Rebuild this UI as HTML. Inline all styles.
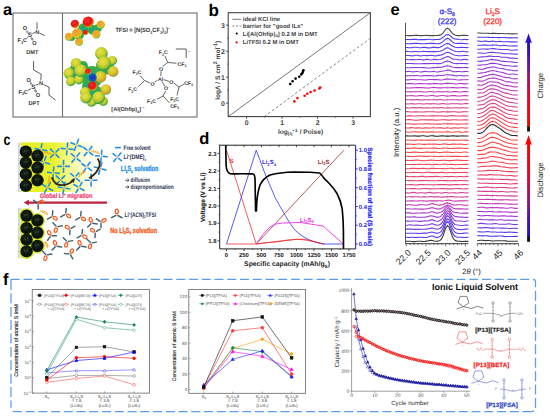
<!DOCTYPE html>
<html><head><meta charset="utf-8"><style>
html,body{margin:0;padding:0;background:#fff;}
svg{display:block;font-family:"Liberation Sans",sans-serif;text-rendering:geometricPrecision;}
</style></head><body>
<svg width="550" height="417" viewBox="0 0 550 417">
<rect width="550" height="417" fill="#fff"/>
<text x="3.00" y="14.60" font-size="16.5" font-weight="bold" fill="#000" text-anchor="start" >a</text>
<rect x="13" y="13" width="184" height="104" fill="none" stroke="#6e6e6e" stroke-width="1.1"/>
<line x1="62.50" y1="13.00" x2="62.50" y2="117.00" stroke="#6e6e6e" stroke-width="1.1" />
<line x1="26.60" y1="38.60" x2="28.00" y2="37.20" stroke="#333" stroke-width="0.8" />
<line x1="31.80" y1="34.00" x2="35.40" y2="32.00" stroke="#333" stroke-width="0.8" />
<line x1="26.18" y1="31.35" x2="28.18" y2="33.75" stroke="#333" stroke-width="0.7" />
<line x1="27.02" y1="30.65" x2="29.02" y2="33.05" stroke="#333" stroke-width="0.7" />
<line x1="30.63" y1="37.68" x2="32.43" y2="40.68" stroke="#333" stroke-width="0.7" />
<line x1="31.57" y1="37.12" x2="33.37" y2="40.12" stroke="#333" stroke-width="0.7" />
<line x1="37.00" y1="29.60" x2="37.00" y2="22.40" stroke="#333" stroke-width="0.8" />
<line x1="38.60" y1="32.60" x2="44.80" y2="35.60" stroke="#333" stroke-width="0.8" />
<text x="29.90" y="37.40" font-size="6.4" font-weight="bold" fill="#333" text-anchor="middle" stroke="#fff" stroke-width="1.0" paint-order="stroke">S</text>
<text x="37.20" y="33.60" font-size="5.6" font-weight="bold" fill="#333" text-anchor="middle" stroke="#fff" stroke-width="1.0" paint-order="stroke">N</text>
<text x="25.00" y="30.40" font-size="5.6" font-weight="bold" fill="#333" text-anchor="middle" stroke="#fff" stroke-width="1.0" paint-order="stroke">O</text>
<text x="34.40" y="44.80" font-size="5.6" font-weight="bold" fill="#333" text-anchor="middle" stroke="#fff" stroke-width="1.0" paint-order="stroke">O</text>
<text x="17.6" y="42.3" font-size="5.4" font-weight="bold" fill="#333">F<tspan font-size="3.8" dy="1.2">3</tspan><tspan dy="-1.2">C</tspan></text>
<text x="32.40" y="54.30" font-size="5.6" font-weight="bold" fill="#333" text-anchor="middle" >DMT</text>
<line x1="27.60" y1="90.40" x2="31.40" y2="88.60" stroke="#333" stroke-width="0.8" />
<line x1="35.40" y1="85.60" x2="38.90" y2="83.80" stroke="#333" stroke-width="0.8" />
<line x1="29.68" y1="82.75" x2="31.78" y2="85.25" stroke="#333" stroke-width="0.7" />
<line x1="30.52" y1="82.05" x2="32.62" y2="84.55" stroke="#333" stroke-width="0.7" />
<line x1="34.12" y1="89.47" x2="35.92" y2="92.67" stroke="#333" stroke-width="0.7" />
<line x1="35.08" y1="88.93" x2="36.88" y2="92.13" stroke="#333" stroke-width="0.7" />
<polyline points="40.80,80.60 41.20,74.20 33.60,70.00 33.60,61.00" stroke="#333" stroke-width="0.8" fill="none" stroke-linejoin="round" />
<polyline points="42.60,84.20 49.00,87.00 49.00,95.20 55.60,100.00" stroke="#333" stroke-width="0.8" fill="none" stroke-linejoin="round" />
<text x="33.50" y="89.00" font-size="6.4" font-weight="bold" fill="#333" text-anchor="middle" stroke="#fff" stroke-width="1.0" paint-order="stroke">S</text>
<text x="41.00" y="84.60" font-size="5.6" font-weight="bold" fill="#333" text-anchor="middle" stroke="#fff" stroke-width="1.0" paint-order="stroke">N</text>
<text x="28.60" y="81.80" font-size="5.6" font-weight="bold" fill="#333" text-anchor="middle" stroke="#fff" stroke-width="1.0" paint-order="stroke">O</text>
<text x="38.00" y="96.80" font-size="5.6" font-weight="bold" fill="#333" text-anchor="middle" stroke="#fff" stroke-width="1.0" paint-order="stroke">O</text>
<text x="18.4" y="93.8" font-size="5.4" font-weight="bold" fill="#333">F<tspan font-size="3.8" dy="1.2">3</tspan><tspan dy="-1.2">C</tspan></text>
<text x="34.00" y="105.30" font-size="5.6" font-weight="bold" fill="#333" text-anchor="middle" >DPT</text>
<defs>
<radialGradient id="gO" cx="0.4" cy="0.35" r="0.65"><stop offset="0" stop-color="#ff2a2a"/><stop offset="0.6" stop-color="#e81212"/><stop offset="0.85" stop-color="#e07018"/><stop offset="1" stop-color="#a8c028"/></radialGradient>
<radialGradient id="gF" cx="0.4" cy="0.35" r="0.65"><stop offset="0" stop-color="#f0a030"/><stop offset="0.5" stop-color="#eca828"/><stop offset="0.8" stop-color="#d8c428"/><stop offset="1" stop-color="#58b038"/></radialGradient>
<radialGradient id="gY" cx="0.42" cy="0.36" r="0.66"><stop offset="0" stop-color="#e4e048"/><stop offset="0.4" stop-color="#d6d432"/><stop offset="0.68" stop-color="#a8c42a"/><stop offset="0.88" stop-color="#48a840"/><stop offset="1" stop-color="#2a9a58"/></radialGradient>
<radialGradient id="gQ" cx="0.42" cy="0.36" r="0.66"><stop offset="0" stop-color="#e0e040"/><stop offset="0.45" stop-color="#d8c830"/><stop offset="0.75" stop-color="#e0a028"/><stop offset="0.92" stop-color="#88b030"/><stop offset="1" stop-color="#3a9a50"/></radialGradient>
<radialGradient id="gG" cx="0.5" cy="0.5" r="0.5"><stop offset="0" stop-color="#10a0b0"/><stop offset="0.55" stop-color="#28a858"/><stop offset="1" stop-color="#40b040"/></radialGradient>
<radialGradient id="gB" cx="0.5" cy="0.5" r="0.5"><stop offset="0" stop-color="#1828d0"/><stop offset="1" stop-color="#1860b8"/></radialGradient>
<radialGradient id="gK" cx="0.45" cy="0.4" r="0.6"><stop offset="0" stop-color="#1c2a1c"/><stop offset="0.75" stop-color="#0a100a"/><stop offset="0.92" stop-color="#101c10"/><stop offset="1" stop-color="#2a4020"/></radialGradient>
<linearGradient id="yel" x1="0" y1="0" x2="1" y2="0"><stop offset="0" stop-color="#e4f01c"/><stop offset="0.38" stop-color="#eaf22c"/><stop offset="0.62" stop-color="#f6f9a0"/><stop offset="0.8" stop-color="#fdfde8"/><stop offset="1" stop-color="#ffffff"/></linearGradient>
<linearGradient id="chg" x1="0" y1="1" x2="0" y2="0"><stop offset="0" stop-color="#ff0000"/><stop offset="0.35" stop-color="#f00020"/><stop offset="0.6" stop-color="#901878"/><stop offset="0.85" stop-color="#4010b8"/><stop offset="1" stop-color="#2010c8"/></linearGradient>
<linearGradient id="dis" x1="0" y1="0" x2="0" y2="1"><stop offset="0" stop-color="#ff0000"/><stop offset="0.35" stop-color="#f00020"/><stop offset="0.6" stop-color="#901878"/><stop offset="0.85" stop-color="#4010b8"/><stop offset="1" stop-color="#2010c8"/></linearGradient>
<linearGradient id="elec" x1="0" y1="0" x2="1" y2="0"><stop offset="0" stop-color="#c8d0e0"/><stop offset="1" stop-color="#e8ecf4"/></linearGradient>
</defs>
<circle cx="84" cy="29" r="6" fill="url(#gG)"/>
<circle cx="79" cy="35" r="5" fill="url(#gG)"/>
<circle cx="93" cy="30" r="5" fill="url(#gG)"/>
<circle cx="72" cy="38" r="3" fill="url(#gG)"/>
<circle cx="98" cy="28" r="4" fill="url(#gG)"/>
<circle cx="68.9" cy="36.7" r="4" fill="url(#gF)"/>
<circle cx="79" cy="41.8" r="4" fill="url(#gF)"/>
<circle cx="96.3" cy="34.2" r="4.2" fill="url(#gF)"/>
<circle cx="100.7" cy="24.6" r="4.2" fill="url(#gF)"/>
<circle cx="85.5" cy="32.5" r="2.6" fill="url(#gO)"/>
<circle cx="75" cy="24" r="4.3" fill="url(#gO)"/>
<circle cx="77.2" cy="33.5" r="5.2" fill="url(#gF)"/>
<circle cx="88.3" cy="22.1" r="5.6" fill="url(#gO)"/>
<circle cx="92" cy="77" r="11" fill="url(#gG)"/>
<circle cx="105" cy="66" r="9" fill="url(#gG)"/>
<circle cx="76" cy="73" r="8.5" fill="url(#gG)"/>
<circle cx="95" cy="95" r="9.5" fill="url(#gG)"/>
<circle cx="88" cy="86" r="6" fill="url(#gG)"/>
<circle cx="83" cy="66" r="5" fill="url(#gG)"/>
<circle cx="112.2" cy="60.7" r="4.79" fill="url(#gY)"/>
<circle cx="101.4" cy="53.5" r="6.38" fill="url(#gY)"/>
<circle cx="113" cy="71.5" r="5.47" fill="url(#gQ)"/>
<circle cx="104" cy="63.4" r="7.07" fill="url(#gY)"/>
<circle cx="100.5" cy="76.9" r="5.93" fill="url(#gQ)"/>
<circle cx="76.2" cy="63.4" r="5.47" fill="url(#gY)"/>
<circle cx="69" cy="73.3" r="5.47" fill="url(#gY)"/>
<circle cx="70.8" cy="81.4" r="4.79" fill="url(#gY)"/>
<circle cx="78.9" cy="79.6" r="4.79" fill="url(#gY)"/>
<circle cx="80.7" cy="70.6" r="6.38" fill="url(#gY)"/>
<circle cx="88.2" cy="71.5" r="3.0" fill="url(#gO)"/>
<circle cx="92.6" cy="77.5" r="4.0" fill="url(#gB)"/>
<circle cx="92.6" cy="86.2" r="4.6" fill="url(#gO)"/>
<circle cx="105.9" cy="89.5" r="5.24" fill="url(#gQ)"/>
<circle cx="91.5" cy="102" r="4.79" fill="url(#gY)"/>
<circle cx="103.2" cy="101.2" r="4.79" fill="url(#gY)"/>
<circle cx="85.2" cy="92.2" r="5.24" fill="url(#gY)"/>
<circle cx="86.1" cy="97.6" r="5.93" fill="url(#gY)"/>
<circle cx="98.7" cy="97.6" r="6.38" fill="url(#gY)"/>
<text x="115.4" y="32.4" font-size="6.2" font-weight="bold" fill="#333" textLength="54.6" lengthAdjust="spacingAndGlyphs">TFSI = [N(SO<tspan font-size="4" dy="1.3">2</tspan><tspan dy="-1.3">CF</tspan><tspan font-size="4" dy="1.3">3</tspan><tspan dy="-1.3">)</tspan><tspan font-size="4" dy="1.3">2</tspan><tspan dy="-1.3">]</tspan><tspan font-size="4" dy="-2">−</tspan></text>
<text x="111.3" y="111.4" font-size="5.6" font-weight="bold" fill="#333">[Al(Ohfip)<tspan font-size="3.8" dy="1.2">4</tspan><tspan dy="-1.2">]</tspan><tspan font-size="3.8" dy="-2.2"> −</tspan></text>
<text x="160.50" y="80.50" font-size="5.2" font-weight="bold" fill="#333" text-anchor="middle" >Al</text>
<text x="161.00" y="70.60" font-size="5.2" font-weight="bold" fill="#333" text-anchor="middle" >O</text>
<text x="152.40" y="85.50" font-size="5.2" font-weight="bold" fill="#333" text-anchor="middle" >O</text>
<text x="171.30" y="84.10" font-size="5.2" font-weight="bold" fill="#333" text-anchor="middle" >O</text>
<text x="165.90" y="90.40" font-size="5.2" font-weight="bold" fill="#333" text-anchor="middle" >O</text>
<line x1="160.80" y1="76.00" x2="161.00" y2="71.30" stroke="#333" stroke-width="0.75" />
<line x1="157.60" y1="80.00" x2="154.60" y2="82.30" stroke="#333" stroke-width="0.75" />
<line x1="163.60" y1="79.60" x2="169.00" y2="81.40" stroke="#333" stroke-width="0.75" />
<line x1="162.00" y1="81.30" x2="164.80" y2="86.20" stroke="#333" stroke-width="0.75" />
<polyline points="162.60,66.50 167.70,62.50 165.00,56.00" stroke="#333" stroke-width="0.75" fill="none" stroke-linejoin="round" />
<line x1="167.70" y1="62.50" x2="176.50" y2="63.20" stroke="#333" stroke-width="0.75" />
<text x="163.2" y="54.4" font-size="5.2" font-weight="bold" fill="#333" text-anchor="middle">F<tspan font-size="3.6" dy="1.2">3</tspan><tspan dy="-1.2">C</tspan></text>
<text x="182" y="66.0" font-size="5.2" font-weight="bold" fill="#333" text-anchor="middle">CF<tspan font-size="3.6" dy="1.2">3</tspan><tspan dy="-1.2"></tspan></text>
<polyline points="150.00,83.00 144.50,80.50 140.00,75.50" stroke="#333" stroke-width="0.75" fill="none" stroke-linejoin="round" />
<line x1="144.50" y1="80.50" x2="138.50" y2="86.50" stroke="#333" stroke-width="0.75" />
<text x="137" y="74.2" font-size="5.2" font-weight="bold" fill="#333" text-anchor="middle">F<tspan font-size="3.6" dy="1.2">3</tspan><tspan dy="-1.2">C</tspan></text>
<text x="132.6" y="91.39999999999999" font-size="5.2" font-weight="bold" fill="#333" text-anchor="middle">F<tspan font-size="3.6" dy="1.2">3</tspan><tspan dy="-1.2">C</tspan></text>
<polyline points="173.80,83.00 179.00,87.00 184.20,84.00" stroke="#333" stroke-width="0.75" fill="none" stroke-linejoin="round" />
<line x1="179.00" y1="87.00" x2="177.00" y2="95.50" stroke="#333" stroke-width="0.75" />
<text x="188.6" y="85.0" font-size="5.2" font-weight="bold" fill="#333" text-anchor="middle">CF<tspan font-size="3.6" dy="1.2">3</tspan><tspan dy="-1.2"></tspan></text>
<text x="174.6" y="101.0" font-size="5.2" font-weight="bold" fill="#333" text-anchor="middle">F<tspan font-size="3.6" dy="1.2">3</tspan><tspan dy="-1.2">C</tspan></text>
<polyline points="165.60,91.00 163.00,96.00 157.00,99.30" stroke="#333" stroke-width="0.75" fill="none" stroke-linejoin="round" />
<line x1="163.00" y1="96.00" x2="169.50" y2="103.00" stroke="#333" stroke-width="0.75" />
<text x="151.5" y="102.8" font-size="5.2" font-weight="bold" fill="#333" text-anchor="middle">F<tspan font-size="3.6" dy="1.2">3</tspan><tspan dy="-1.2">C</tspan></text>
<text x="174.6" y="108.2" font-size="5.2" font-weight="bold" fill="#333" text-anchor="middle">CF<tspan font-size="3.6" dy="1.2">3</tspan><tspan dy="-1.2"></tspan></text>
<polyline points="175.80,49.00 186.20,49.00 186.20,58.00" stroke="#333" stroke-width="0.8" fill="none" stroke-linejoin="round" />
<text x="188.00" y="52.50" font-size="3.8" font-weight="bold" fill="#333" text-anchor="start" >−</text>
<text x="208.40" y="16.40" font-size="17" font-weight="bold" fill="#000" text-anchor="start" >b</text>
<line x1="228.20" y1="116.60" x2="370.40" y2="12.70" stroke="#555" stroke-width="0.8" />
<line x1="264.35" y1="116.60" x2="370.40" y2="38.20" stroke="#666" stroke-width="0.8" stroke-dasharray="2.6,2.2"/>
<rect x="228.2" y="12.7" width="142.20" height="103.90" fill="none" stroke="#444" stroke-width="1.1"/>
<line x1="246.60" y1="116.60" x2="246.60" y2="118.80" stroke="#444" stroke-width="0.9" />
<line x1="226.00" y1="103.20" x2="228.20" y2="103.20" stroke="#444" stroke-width="0.9" />
<text x="246.60" y="125.20" font-size="6.9" font-weight="bold" fill="#444" text-anchor="middle" >0</text>
<text x="224.80" y="105.70" font-size="6.9" font-weight="bold" fill="#444" text-anchor="end" >0</text>
<line x1="282.10" y1="116.60" x2="282.10" y2="118.80" stroke="#444" stroke-width="0.9" />
<line x1="226.00" y1="77.20" x2="228.20" y2="77.20" stroke="#444" stroke-width="0.9" />
<text x="282.10" y="125.20" font-size="6.9" font-weight="bold" fill="#444" text-anchor="middle" >1</text>
<text x="224.80" y="79.70" font-size="6.9" font-weight="bold" fill="#444" text-anchor="end" >1</text>
<line x1="317.60" y1="116.60" x2="317.60" y2="118.80" stroke="#444" stroke-width="0.9" />
<line x1="226.00" y1="51.20" x2="228.20" y2="51.20" stroke="#444" stroke-width="0.9" />
<text x="317.60" y="125.20" font-size="6.9" font-weight="bold" fill="#444" text-anchor="middle" >2</text>
<text x="224.80" y="53.70" font-size="6.9" font-weight="bold" fill="#444" text-anchor="end" >2</text>
<line x1="353.10" y1="116.60" x2="353.10" y2="118.80" stroke="#444" stroke-width="0.9" />
<line x1="226.00" y1="25.20" x2="228.20" y2="25.20" stroke="#444" stroke-width="0.9" />
<text x="353.10" y="125.20" font-size="6.9" font-weight="bold" fill="#444" text-anchor="middle" >3</text>
<text x="224.80" y="27.70" font-size="6.9" font-weight="bold" fill="#444" text-anchor="end" >3</text>
<line x1="264.35" y1="116.60" x2="264.35" y2="117.80" stroke="#444" stroke-width="0.7" />
<line x1="227.00" y1="90.20" x2="228.20" y2="90.20" stroke="#444" stroke-width="0.7" />
<line x1="299.85" y1="116.60" x2="299.85" y2="117.80" stroke="#444" stroke-width="0.7" />
<line x1="227.00" y1="64.20" x2="228.20" y2="64.20" stroke="#444" stroke-width="0.7" />
<line x1="335.35" y1="116.60" x2="335.35" y2="117.80" stroke="#444" stroke-width="0.7" />
<line x1="227.00" y1="38.20" x2="228.20" y2="38.20" stroke="#444" stroke-width="0.7" />
<line x1="232.40" y1="19.30" x2="241.00" y2="19.30" stroke="#555" stroke-width="0.8" />
<line x1="232.40" y1="26.00" x2="241.40" y2="26.00" stroke="#666" stroke-width="0.8" stroke-dasharray="2.2,1.4"/>
<rect x="235.8" y="32.6" width="1.8" height="1.8" fill="#000"/>
<circle cx="236.60" cy="42.40" r="1.1" fill="#f00" />
<text x="242.80" y="21.30" font-size="5.95" font-weight="bold" fill="#444" text-anchor="start" >ideal KCl line</text>
<text x="242.80" y="28.00" font-size="5.95" font-weight="bold" fill="#444" text-anchor="start" >barrier for "good ILs"</text>
<text x="242.8" y="35.6" font-size="5.95" font-weight="bold" fill="#444">Li[Al(Ohfip)<tspan font-size="4.2" dy="1.2">4</tspan><tspan dy="-1.2">] 0.2 M in DMT</tspan></text>
<text x="242.80" y="44.30" font-size="5.95" font-weight="bold" fill="#444" text-anchor="start" >LiTFSI 0.2 M in DMT</text>
<circle cx="290.20" cy="84.00" r="1.3" fill="#000" />
<circle cx="292.60" cy="81.30" r="1.3" fill="#000" />
<circle cx="295.60" cy="78.60" r="1.3" fill="#000" />
<circle cx="299.20" cy="76.80" r="1.3" fill="#000" />
<circle cx="301.30" cy="74.40" r="1.3" fill="#000" />
<circle cx="302.20" cy="73.20" r="1.3" fill="#000" />
<circle cx="302.90" cy="71.80" r="1.3" fill="#000" />
<circle cx="303.40" cy="70.20" r="1.3" fill="#000" />
<circle cx="294.40" cy="101.40" r="1.3" fill="#f00" />
<circle cx="297.40" cy="98.10" r="1.3" fill="#f00" />
<circle cx="304.60" cy="95.70" r="1.3" fill="#f00" />
<circle cx="307.30" cy="93.80" r="1.3" fill="#f00" />
<circle cx="310.60" cy="92.10" r="1.3" fill="#f00" />
<circle cx="314.50" cy="90.60" r="1.3" fill="#f00" />
<circle cx="319.30" cy="88.50" r="1.3" fill="#f00" />
<circle cx="320.20" cy="87.60" r="1.3" fill="#f00" />
<text transform="translate(219.8,70.3) rotate(-90)" font-size="6.6" font-weight="bold" fill="#444" text-anchor="middle">logΛ / S cm<tspan font-size="5.4" dy="-2.6">2</tspan><tspan dy="2.6"> mol</tspan><tspan font-size="5.4" dy="-2.6">-1</tspan><tspan dy="2.6">)</tspan></text>
<text x="300.5" y="134" font-size="6.6" font-weight="bold" fill="#444" text-anchor="middle">log<tspan font-size="4.8" dy="1.2">(η</tspan><tspan font-size="4.8" dy="-3.4">−1</tspan><tspan dy="2.2"> / Poise)</tspan></text>
<text x="390.50" y="15.00" font-size="16.5" font-weight="bold" fill="#000" text-anchor="start" >e</text>
<line x1="433.40" y1="20.00" x2="433.40" y2="243.00" stroke="#aaa" stroke-width="0.5" stroke-dasharray="0.8,1.2"/>
<line x1="447.60" y1="20.00" x2="447.60" y2="243.00" stroke="#aaa" stroke-width="0.5" stroke-dasharray="0.8,1.2"/>
<line x1="492.40" y1="22.00" x2="492.40" y2="243.00" stroke="#aaa" stroke-width="0.5" stroke-dasharray="0.8,1.2"/>
<polyline points="405.50,35.52 407.00,35.53 408.50,35.58 410.00,35.64 411.50,35.62 413.00,35.50 414.50,35.35 416.00,35.28 417.50,35.33 419.00,35.48 420.50,35.60 422.00,35.62 423.50,35.53 425.00,35.43 426.50,35.42 428.00,35.50 429.50,35.60 431.00,35.65 432.50,35.60 434.00,35.52 435.50,35.46 437.00,35.45 438.50,35.40 440.00,35.15 441.50,34.44 443.00,33.03 444.50,30.99 446.00,29.01 447.50,28.15 449.00,28.97 450.50,30.91 452.00,32.92 453.50,34.31 455.00,35.07 456.50,35.45 458.00,35.61 459.50,35.60 461.00,35.49 462.50,35.37 464.00,35.33 465.50,35.38 467.00,35.47 468.50,35.52" stroke="#484848" stroke-width="1.1" fill="none" stroke-linejoin="round" />
<polyline points="477.30,33.07 478.80,33.01 480.30,33.04 481.80,33.19 483.30,33.32 484.80,33.32 486.30,33.26 487.80,33.29 489.30,33.41 490.80,33.48 492.30,33.41 493.80,33.33 495.30,33.38 496.80,33.51 498.30,33.58 499.80,33.53 501.30,33.49 502.80,33.57 504.30,33.71 505.80,33.75 507.30,33.68 508.80,33.64 510.30,33.74 511.80,33.87 513.30,33.89 514.80,33.82 516.30,33.81 517.80,33.93" stroke="#484848" stroke-width="1.1" fill="none" stroke-linejoin="round" />
<polyline points="405.50,39.66 407.00,39.56 408.50,39.56 410.00,39.61 411.50,39.54 413.00,39.35 414.50,39.26 416.00,39.41 417.50,39.64 419.00,39.70 420.50,39.60 422.00,39.53 423.50,39.59 425.00,39.59 426.50,39.44 428.00,39.28 429.50,39.32 431.00,39.55 432.50,39.71 434.00,39.65 435.50,39.54 437.00,39.52 438.50,39.49 440.00,39.16 441.50,38.40 443.00,37.31 444.50,36.10 446.00,35.04 447.50,34.50 449.00,34.83 450.50,35.99 452.00,37.44 453.50,38.53 455.00,39.01 456.50,39.15 458.00,39.31 459.50,39.57 461.00,39.71 462.50,39.64 464.00,39.53 465.50,39.54 467.00,39.60 468.50,39.52" stroke="#4c3cf0" stroke-width="1.1" fill="none" stroke-linejoin="round" />
<polyline points="477.30,37.17 478.80,37.21 480.30,37.23 481.80,37.23 483.30,37.20 484.80,37.19 486.30,37.21 487.80,37.28 489.30,37.36 490.80,37.43 492.30,37.47 493.80,37.49 495.30,37.51 496.80,37.55 498.30,37.58 499.80,37.58 501.30,37.55 502.80,37.52 504.30,37.54 505.80,37.64 507.30,37.77 508.80,37.88 510.30,37.91 511.80,37.87 513.30,37.80 514.80,37.78 516.30,37.83 517.80,37.92" stroke="#4c3cf0" stroke-width="1.1" fill="none" stroke-linejoin="round" />
<polyline points="405.50,43.58 407.00,43.68 408.50,43.73 410.00,43.71 411.50,43.62 413.00,43.50 414.50,43.39 416.00,43.33 417.50,43.36 419.00,43.45 420.50,43.59 422.00,43.70 423.50,43.76 425.00,43.73 426.50,43.62 428.00,43.48 429.50,43.36 431.00,43.31 432.50,43.35 434.00,43.46 435.50,43.60 437.00,43.70 438.50,43.66 440.00,43.37 441.50,42.70 443.00,41.57 444.50,40.13 446.00,38.87 447.50,38.37 449.00,38.92 450.50,40.23 452.00,41.67 453.50,42.74 455.00,43.28 456.50,43.44 458.00,43.41 459.50,43.35 461.00,43.35 462.50,43.42 464.00,43.53 465.50,43.64 467.00,43.71 468.50,43.70" stroke="#553ced" stroke-width="1.1" fill="none" stroke-linejoin="round" />
<polyline points="477.30,40.83 478.80,41.02 480.30,41.42 481.80,41.53 483.30,41.23 484.80,40.97 486.30,41.15 487.80,41.55 489.30,41.67 490.80,41.40 492.30,41.17 493.80,41.31 495.30,41.65 496.80,41.75 498.30,41.56 499.80,41.41 501.30,41.52 502.80,41.75 504.30,41.80 505.80,41.69 507.30,41.65 508.80,41.75 510.30,41.86 511.80,41.85 513.30,41.81 514.80,41.86 516.30,41.98 517.80,42.00" stroke="#553ced" stroke-width="1.1" fill="none" stroke-linejoin="round" />
<polyline points="405.50,47.49 407.00,47.55 408.50,47.69 410.00,47.76 411.50,47.66 413.00,47.44 414.50,47.28 416.00,47.32 417.50,47.53 419.00,47.73 420.50,47.72 422.00,47.54 423.50,47.36 425.00,47.38 426.50,47.61 428.00,47.86 429.50,47.89 431.00,47.68 432.50,47.39 434.00,47.28 435.50,47.41 437.00,47.62 438.50,47.65 440.00,47.31 441.50,46.60 443.00,45.65 444.50,44.64 446.00,43.83 447.50,43.52 449.00,43.85 450.50,44.68 452.00,45.70 453.50,46.61 455.00,47.25 456.50,47.57 458.00,47.61 459.50,47.50 461.00,47.40 462.50,47.40 464.00,47.48 465.50,47.56 467.00,47.58 468.50,47.57" stroke="#5e3bea" stroke-width="1.1" fill="none" stroke-linejoin="round" />
<polyline points="477.30,45.22 478.80,45.22 480.30,45.22 481.80,45.20 483.30,45.12 484.80,45.06 486.30,45.08 487.80,45.20 489.30,45.32 490.80,45.32 492.30,45.16 493.80,44.98 495.30,44.94 496.80,45.14 498.30,45.47 499.80,45.70 501.30,45.70 502.80,45.53 504.30,45.40 505.80,45.45 507.30,45.68 508.80,45.93 510.30,46.03 511.80,45.98 513.30,45.87 514.80,45.85 516.30,45.92 517.80,46.02" stroke="#5e3bea" stroke-width="1.1" fill="none" stroke-linejoin="round" />
<polyline points="405.50,51.41 407.00,51.30 408.50,51.44 410.00,51.68 411.50,51.77 413.00,51.64 414.50,51.49 416.00,51.50 417.50,51.65 419.00,51.76 420.50,51.69 422.00,51.50 423.50,51.40 425.00,51.45 426.50,51.57 428.00,51.63 429.50,51.60 431.00,51.58 432.50,51.62 434.00,51.67 435.50,51.65 437.00,51.55 438.50,51.44 440.00,51.28 441.50,50.90 443.00,50.12 444.50,49.02 446.00,48.07 447.50,47.77 449.00,48.27 450.50,49.21 452.00,50.08 453.50,50.70 455.00,51.14 456.50,51.50 458.00,51.69 459.50,51.64 461.00,51.43 462.50,51.33 464.00,51.47 465.50,51.74 467.00,51.85 468.50,51.71" stroke="#673be7" stroke-width="1.1" fill="none" stroke-linejoin="round" />
<polyline points="477.30,49.29 478.80,49.29 480.30,49.18 481.80,49.02 483.30,48.95 484.80,49.02 486.30,49.14 487.80,49.17 489.30,49.02 490.80,48.77 492.30,48.60 493.80,48.63 495.30,48.83 496.80,49.07 498.30,49.25 499.80,49.36 501.30,49.43 502.80,49.47 504.30,49.49 505.80,49.50 507.30,49.56 508.80,49.74 510.30,50.00 511.80,50.20 513.30,50.21 514.80,50.03 516.30,49.84 517.80,49.81" stroke="#673be7" stroke-width="1.1" fill="none" stroke-linejoin="round" />
<polyline points="405.50,55.65 407.00,55.57 408.50,55.49 410.00,55.61 411.50,55.83 413.00,55.85 414.50,55.56 416.00,55.27 417.50,55.31 419.00,55.65 420.50,55.88 422.00,55.79 423.50,55.55 425.00,55.48 426.50,55.60 428.00,55.66 429.50,55.53 431.00,55.41 432.50,55.51 434.00,55.77 435.50,55.89 437.00,55.70 438.50,55.37 440.00,55.11 441.50,54.86 443.00,54.36 444.50,53.52 446.00,52.67 447.50,52.28 449.00,52.54 450.50,53.26 452.00,54.09 453.50,54.79 455.00,55.27 456.50,55.54 458.00,55.66 459.50,55.71 461.00,55.72 462.50,55.63 464.00,55.46 465.50,55.35 467.00,55.47 468.50,55.72" stroke="#703be3" stroke-width="1.1" fill="none" stroke-linejoin="round" />
<polyline points="477.30,53.01 478.80,52.95 480.30,53.02 481.80,53.16 483.30,53.26 484.80,53.20 486.30,52.98 487.80,52.68 489.30,52.44 490.80,52.35 492.30,52.42 493.80,52.56 495.30,52.67 496.80,52.74 498.30,52.81 499.80,52.96 501.30,53.17 502.80,53.41 504.30,53.61 505.80,53.72 507.30,53.76 508.80,53.78 510.30,53.82 511.80,53.91 513.30,54.01 514.80,54.09 516.30,54.15 517.80,54.22" stroke="#703be3" stroke-width="1.1" fill="none" stroke-linejoin="round" />
<polyline points="405.50,59.42 407.00,59.52 408.50,59.70 410.00,59.72 411.50,59.60 413.00,59.57 414.50,59.67 416.00,59.71 417.50,59.57 419.00,59.43 420.50,59.54 422.00,59.81 423.50,59.89 425.00,59.62 426.50,59.31 428.00,59.37 429.50,59.74 431.00,59.96 432.50,59.76 434.00,59.41 435.50,59.35 437.00,59.59 438.50,59.76 440.00,59.53 441.50,58.99 443.00,58.38 444.50,57.74 446.00,57.04 447.50,56.55 449.00,56.71 450.50,57.58 452.00,58.62 453.50,59.20 455.00,59.24 456.50,59.21 458.00,59.49 459.50,59.88 461.00,59.94 462.50,59.61 464.00,59.31 465.50,59.40 467.00,59.73 468.50,59.87" stroke="#793ae0" stroke-width="1.1" fill="none" stroke-linejoin="round" />
<polyline points="477.30,57.42 478.80,57.24 480.30,56.99 481.80,56.85 483.30,56.83 484.80,56.81 486.30,56.64 487.80,56.35 489.30,56.14 490.80,56.16 492.30,56.35 493.80,56.50 495.30,56.50 496.80,56.46 498.30,56.57 499.80,56.82 501.30,57.08 502.80,57.19 504.30,57.21 505.80,57.30 507.30,57.57 508.80,57.91 510.30,58.12 511.80,58.15 513.30,58.13 514.80,58.21 516.30,58.38 517.80,58.49" stroke="#793ae0" stroke-width="1.1" fill="none" stroke-linejoin="round" />
<polyline points="405.50,63.58 407.00,63.48 408.50,63.43 410.00,63.44 411.50,63.51 413.00,63.61 414.50,63.69 416.00,63.74 417.50,63.75 419.00,63.73 420.50,63.70 422.00,63.68 423.50,63.67 425.00,63.67 426.50,63.67 428.00,63.64 429.50,63.60 431.00,63.55 432.50,63.51 434.00,63.51 435.50,63.55 437.00,63.61 438.50,63.66 440.00,63.59 441.50,63.33 443.00,62.79 444.50,62.06 446.00,61.37 447.50,61.05 449.00,61.27 450.50,61.91 452.00,62.64 453.50,63.22 455.00,63.53 456.50,63.62 458.00,63.60 459.50,63.53 461.00,63.49 462.50,63.50 464.00,63.56 465.50,63.65 467.00,63.74 468.50,63.79" stroke="#823add" stroke-width="1.1" fill="none" stroke-linejoin="round" />
<polyline points="477.30,61.18 478.80,61.31 480.30,61.33 481.80,61.16 483.30,60.96 484.80,60.81 486.30,60.64 487.80,60.33 489.30,59.93 490.80,59.65 492.30,59.63 493.80,59.74 495.30,59.85 496.80,60.03 498.30,60.38 499.80,60.84 501.30,61.20 502.80,61.34 504.30,61.40 505.80,61.51 507.30,61.65 508.80,61.72 510.30,61.75 511.80,61.89 513.30,62.17 514.80,62.41 516.30,62.48 517.80,62.44" stroke="#823add" stroke-width="1.1" fill="none" stroke-linejoin="round" />
<polyline points="405.50,67.87 407.00,67.82 408.50,67.76 410.00,67.69 411.50,67.63 413.00,67.57 414.50,67.53 416.00,67.49 417.50,67.47 419.00,67.47 420.50,67.50 422.00,67.57 423.50,67.67 425.00,67.78 426.50,67.88 428.00,67.94 429.50,67.94 431.00,67.88 432.50,67.76 434.00,67.62 435.50,67.49 437.00,67.39 438.50,67.33 440.00,67.27 441.50,67.14 443.00,66.86 444.50,66.44 446.00,66.03 447.50,65.85 449.00,66.01 450.50,66.43 452.00,66.92 453.50,67.28 455.00,67.49 456.50,67.58 458.00,67.61 459.50,67.61 461.00,67.59 462.50,67.57 464.00,67.56 465.50,67.56 467.00,67.58 468.50,67.63" stroke="#8b3ada" stroke-width="1.1" fill="none" stroke-linejoin="round" />
<polyline points="477.30,65.29 478.80,65.30 480.30,65.13 481.80,64.93 483.30,64.81 484.80,64.76 486.30,64.61 487.80,64.26 489.30,63.79 490.80,63.38 492.30,63.23 493.80,63.33 495.30,63.53 496.80,63.77 498.30,64.04 499.80,64.39 501.30,64.82 502.80,65.24 504.30,65.52 505.80,65.64 507.30,65.69 508.80,65.81 510.30,66.01 511.80,66.20 513.30,66.25 514.80,66.16 516.30,66.09 517.80,66.20" stroke="#8b3ada" stroke-width="1.1" fill="none" stroke-linejoin="round" />
<polyline points="405.50,71.84 407.00,71.56 408.50,71.37 410.00,71.48 411.50,71.74 413.00,71.87 414.50,71.74 416.00,71.56 417.50,71.57 419.00,71.79 420.50,71.96 422.00,71.86 423.50,71.58 425.00,71.40 426.50,71.49 428.00,71.73 429.50,71.82 431.00,71.69 432.50,71.53 434.00,71.57 435.50,71.80 437.00,71.95 438.50,71.84 440.00,71.50 441.50,71.17 443.00,70.96 444.50,70.76 446.00,70.45 447.50,70.15 449.00,70.14 450.50,70.55 452.00,71.17 453.50,71.65 455.00,71.75 456.50,71.60 458.00,71.49 459.50,71.56 461.00,71.72 462.50,71.75 464.00,71.62 465.50,71.50 467.00,71.56 468.50,71.77" stroke="#9439d7" stroke-width="1.1" fill="none" stroke-linejoin="round" />
<polyline points="477.30,68.94 478.80,69.02 480.30,69.23 481.80,69.33 483.30,69.12 484.80,68.64 486.30,68.11 487.80,67.72 489.30,67.45 490.80,67.20 492.30,67.00 493.80,66.98 495.30,67.22 496.80,67.66 498.30,68.08 499.80,68.31 501.30,68.43 502.80,68.65 504.30,69.05 505.80,69.49 507.30,69.79 508.80,69.92 510.30,70.05 511.80,70.31 513.30,70.62 514.80,70.75 516.30,70.63 517.80,70.40" stroke="#9439d7" stroke-width="1.1" fill="none" stroke-linejoin="round" />
<polyline points="405.50,75.80 407.00,75.83 408.50,75.70 410.00,75.65 411.50,75.75 413.00,75.78 414.50,75.63 416.00,75.45 417.50,75.52 419.00,75.83 420.50,76.02 422.00,75.90 423.50,75.65 425.00,75.54 426.50,75.61 428.00,75.65 429.50,75.58 431.00,75.58 432.50,75.78 434.00,76.00 435.50,75.95 437.00,75.65 438.50,75.41 440.00,75.44 441.50,75.55 443.00,75.42 444.50,75.06 446.00,74.77 447.50,74.77 449.00,74.92 450.50,75.03 452.00,75.12 453.50,75.36 455.00,75.71 456.50,75.89 458.00,75.76 459.50,75.52 461.00,75.49 462.50,75.68 464.00,75.83 465.50,75.78 467.00,75.70 468.50,75.76" stroke="#9d39d4" stroke-width="1.1" fill="none" stroke-linejoin="round" />
<polyline points="477.30,73.30 478.80,73.20 480.30,73.05 481.80,72.88 483.30,72.68 484.80,72.43 486.30,72.09 487.80,71.65 489.30,71.16 490.80,70.75 492.30,70.59 493.80,70.70 495.30,71.00 496.80,71.37 498.30,71.71 499.80,71.99 501.30,72.26 502.80,72.61 504.30,73.09 505.80,73.61 507.30,74.03 508.80,74.22 510.30,74.19 511.80,74.07 513.30,74.04 514.80,74.20 516.30,74.50 517.80,74.77" stroke="#9d39d4" stroke-width="1.1" fill="none" stroke-linejoin="round" />
<polyline points="405.50,79.71 407.00,79.83 408.50,79.88 410.00,79.77 411.50,79.57 413.00,79.46 414.50,79.53 416.00,79.68 417.50,79.77 419.00,79.74 420.50,79.71 422.00,79.79 423.50,79.95 425.00,80.03 426.50,79.91 428.00,79.67 429.50,79.49 431.00,79.48 432.50,79.57 434.00,79.62 435.50,79.58 437.00,79.57 438.50,79.69 440.00,79.89 441.50,79.99 443.00,79.82 444.50,79.46 446.00,79.13 447.50,79.00 449.00,79.08 450.50,79.19 452.00,79.24 453.50,79.30 455.00,79.47 456.50,79.75 458.00,79.98 459.50,80.02 461.00,79.91 462.50,79.78 464.00,79.76 465.50,79.79 467.00,79.74 468.50,79.57" stroke="#a639d1" stroke-width="1.1" fill="none" stroke-linejoin="round" />
<polyline points="477.30,77.41 478.80,77.57 480.30,77.51 481.80,77.13 483.30,76.55 484.80,76.02 486.30,75.62 487.80,75.28 489.30,74.86 490.80,74.43 492.30,74.22 493.80,74.34 495.30,74.70 496.80,75.12 498.30,75.49 499.80,75.84 501.30,76.28 502.80,76.78 504.30,77.18 505.80,77.37 507.30,77.44 508.80,77.61 510.30,78.00 511.80,78.49 513.30,78.82 514.80,78.87 516.30,78.73 517.80,78.62" stroke="#a639d1" stroke-width="1.1" fill="none" stroke-linejoin="round" />
<polyline points="405.50,83.79 407.00,83.78 408.50,83.65 410.00,83.53 411.50,83.58 413.00,83.79 414.50,83.97 416.00,83.97 417.50,83.80 419.00,83.64 420.50,83.58 422.00,83.63 423.50,83.69 425.00,83.73 426.50,83.77 428.00,83.83 429.50,83.87 431.00,83.86 432.50,83.75 434.00,83.61 435.50,83.53 437.00,83.58 438.50,83.74 440.00,83.89 441.50,83.89 443.00,83.72 444.50,83.50 446.00,83.37 447.50,83.37 449.00,83.42 450.50,83.46 452.00,83.53 453.50,83.71 455.00,83.92 456.50,83.99 458.00,83.81 459.50,83.54 461.00,83.45 462.50,83.61 464.00,83.84 465.50,83.90 467.00,83.78 468.50,83.71" stroke="#af38ce" stroke-width="1.1" fill="none" stroke-linejoin="round" />
<polyline points="477.30,81.08 478.80,80.90 480.30,80.95 481.80,81.11 483.30,81.03 484.80,80.48 486.30,79.64 487.80,78.88 489.30,78.42 490.80,78.20 492.30,78.11 493.80,78.11 495.30,78.26 496.80,78.62 498.30,79.05 499.80,79.43 501.30,79.83 502.80,80.40 504.30,81.11 505.80,81.68 507.30,81.92 508.80,81.92 510.30,82.01 511.80,82.35 513.30,82.76 514.80,82.95 516.30,82.84 517.80,82.65" stroke="#af38ce" stroke-width="1.1" fill="none" stroke-linejoin="round" />
<polyline points="405.50,87.70 407.00,87.90 408.50,88.03 410.00,88.03 411.50,87.91 413.00,87.78 414.50,87.68 416.00,87.63 417.50,87.63 419.00,87.62 420.50,87.61 422.00,87.65 423.50,87.75 425.00,87.90 426.50,88.02 428.00,88.03 429.50,87.91 431.00,87.71 432.50,87.55 434.00,87.50 435.50,87.59 437.00,87.73 438.50,87.84 440.00,87.87 441.50,87.83 443.00,87.79 444.50,87.79 446.00,87.81 447.50,87.81 449.00,87.76 450.50,87.69 452.00,87.64 453.50,87.67 455.00,87.77 456.50,87.87 458.00,87.89 459.50,87.81 461.00,87.68 462.50,87.60 464.00,87.62 465.50,87.74 467.00,87.88 468.50,87.95" stroke="#b739c6" stroke-width="1.1" fill="none" stroke-linejoin="round" />
<polyline points="477.30,85.01 478.80,85.14 480.30,85.29 481.80,85.24 483.30,84.86 484.80,84.15 486.30,83.28 487.80,82.48 489.30,81.94 490.80,81.73 492.30,81.79 493.80,81.96 495.30,82.09 496.80,82.28 498.30,82.63 499.80,83.21 501.30,83.93 502.80,84.63 504.30,85.17 505.80,85.49 507.30,85.67 508.80,85.84 510.30,86.08 511.80,86.40 513.30,86.69 514.80,86.85 516.30,86.86 517.80,86.79" stroke="#b739c6" stroke-width="1.1" fill="none" stroke-linejoin="round" />
<polyline points="405.50,91.65 407.00,91.68 408.50,91.77 410.00,91.84 411.50,91.83 413.00,91.80 414.50,91.80 416.00,91.83 417.50,91.80 419.00,91.70 420.50,91.63 422.00,91.68 423.50,91.86 425.00,92.00 426.50,91.96 428.00,91.74 429.50,91.55 431.00,91.57 432.50,91.77 434.00,91.96 435.50,91.97 437.00,91.81 438.50,91.67 440.00,91.68 441.50,91.78 443.00,91.83 444.50,91.77 446.00,91.70 447.50,91.74 449.00,91.89 450.50,91.96 452.00,91.85 453.50,91.63 455.00,91.52 456.50,91.66 458.00,91.92 459.50,92.06 461.00,91.94 462.50,91.69 464.00,91.55 465.50,91.63 467.00,91.82 468.50,91.91" stroke="#be3abb" stroke-width="1.1" fill="none" stroke-linejoin="round" />
<polyline points="477.30,89.19 478.80,89.39 480.30,89.46 481.80,89.27 483.30,88.78 484.80,88.04 486.30,87.17 487.80,86.32 489.30,85.64 490.80,85.23 492.30,85.15 493.80,85.32 495.30,85.62 496.80,86.08 498.30,86.67 499.80,87.33 501.30,87.96 502.80,88.49 504.30,88.90 505.80,89.23 507.30,89.56 508.80,89.92 510.30,90.28 511.80,90.57 513.30,90.73 514.80,90.77 516.30,90.75 517.80,90.76" stroke="#be3abb" stroke-width="1.1" fill="none" stroke-linejoin="round" />
<polyline points="405.50,95.91 407.00,95.90 408.50,95.79 410.00,95.68 411.50,95.67 413.00,95.77 414.50,95.91 416.00,95.97 417.50,95.90 419.00,95.73 420.50,95.60 422.00,95.62 423.50,95.78 425.00,95.97 426.50,96.04 428.00,95.94 429.50,95.72 431.00,95.56 432.50,95.56 434.00,95.74 435.50,95.97 437.00,96.08 438.50,95.99 440.00,95.76 441.50,95.56 443.00,95.52 444.50,95.68 446.00,95.92 447.50,96.08 449.00,96.04 450.50,95.83 452.00,95.61 453.50,95.53 455.00,95.63 456.50,95.84 458.00,96.01 459.50,96.03 461.00,95.90 462.50,95.71 464.00,95.59 465.50,95.62 467.00,95.75 468.50,95.90" stroke="#c43baf" stroke-width="1.1" fill="none" stroke-linejoin="round" />
<polyline points="477.30,93.07 478.80,93.02 480.30,93.06 481.80,93.05 483.30,92.79 484.80,92.14 486.30,91.15 487.80,90.10 489.30,89.29 490.80,88.89 492.30,88.89 493.80,89.08 495.30,89.29 496.80,89.64 498.30,90.23 499.80,91.04 501.30,91.88 502.80,92.52 504.30,92.89 505.80,93.12 507.30,93.39 508.80,93.81 510.30,94.31 511.80,94.72 513.30,94.95 514.80,94.99 516.30,94.97 517.80,94.97" stroke="#c43baf" stroke-width="1.1" fill="none" stroke-linejoin="round" />
<polyline points="405.50,99.88 407.00,99.78 408.50,99.70 410.00,99.75 411.50,99.87 413.00,99.89 414.50,99.76 416.00,99.62 417.50,99.65 419.00,99.85 420.50,100.04 422.00,100.04 423.50,99.89 425.00,99.78 426.50,99.78 428.00,99.84 429.50,99.81 431.00,99.72 432.50,99.68 434.00,99.77 435.50,99.90 437.00,99.90 438.50,99.77 440.00,99.67 441.50,99.74 443.00,99.94 444.50,100.07 446.00,100.00 447.50,99.81 449.00,99.70 450.50,99.73 452.00,99.80 453.50,99.78 455.00,99.71 456.50,99.71 458.00,99.84 459.50,99.96 461.00,99.92 462.50,99.78 464.00,99.70 465.50,99.80 467.00,99.98 468.50,100.04" stroke="#cb3ca3" stroke-width="1.1" fill="none" stroke-linejoin="round" />
<polyline points="477.30,97.40 478.80,97.37 480.30,97.16 481.80,96.77 483.30,96.31 484.80,95.79 486.30,95.09 487.80,94.13 489.30,93.10 490.80,92.42 492.30,92.39 493.80,92.77 495.30,93.15 496.80,93.46 498.30,93.90 499.80,94.65 501.30,95.55 502.80,96.29 504.30,96.76 505.80,97.17 507.30,97.67 508.80,98.16 510.30,98.44 511.80,98.53 513.30,98.66 514.80,98.95 516.30,99.18 517.80,99.15" stroke="#cb3ca3" stroke-width="1.1" fill="none" stroke-linejoin="round" />
<polyline points="405.50,103.86 407.00,103.98 408.50,103.93 410.00,103.79 411.50,103.74 413.00,103.83 414.50,103.94 416.00,103.93 417.50,103.79 419.00,103.70 420.50,103.75 422.00,103.90 423.50,103.97 425.00,103.91 426.50,103.81 428.00,103.78 429.50,103.83 431.00,103.85 432.50,103.79 434.00,103.74 435.50,103.82 437.00,103.98 438.50,104.05 440.00,103.91 441.50,103.68 443.00,103.58 444.50,103.71 446.00,103.95 447.50,104.07 449.00,103.99 450.50,103.82 452.00,103.73 453.50,103.75 455.00,103.79 456.50,103.80 458.00,103.81 459.50,103.90 461.00,104.01 462.50,103.99 464.00,103.82 465.50,103.62 467.00,103.61 468.50,103.80" stroke="#d13d98" stroke-width="1.1" fill="none" stroke-linejoin="round" />
<polyline points="477.30,101.47 478.80,101.31 480.30,101.05 481.80,100.72 483.30,100.30 484.80,99.70 486.30,98.86 487.80,97.85 489.30,96.86 490.80,96.16 492.30,95.97 493.80,96.23 495.30,96.70 496.80,97.28 498.30,97.89 499.80,98.51 501.30,99.18 502.80,99.92 504.30,100.67 505.80,101.35 507.30,101.85 508.80,102.16 510.30,102.35 511.80,102.52 513.30,102.74 514.80,103.00 516.30,103.21 517.80,103.31" stroke="#d13d98" stroke-width="1.1" fill="none" stroke-linejoin="round" />
<polyline points="405.50,107.85 407.00,107.88 408.50,108.04 410.00,108.04 411.50,107.82 413.00,107.64 414.50,107.71 416.00,107.87 417.50,107.86 419.00,107.70 420.50,107.66 422.00,107.86 423.50,108.06 425.00,108.02 426.50,107.85 428.00,107.83 429.50,107.99 431.00,108.06 432.50,107.89 434.00,107.68 435.50,107.69 437.00,107.87 438.50,107.91 440.00,107.76 441.50,107.66 443.00,107.80 444.50,108.02 446.00,108.03 447.50,107.86 449.00,107.79 450.50,107.93 452.00,108.05 453.50,107.95 455.00,107.73 456.50,107.68 458.00,107.85 459.50,107.95 461.00,107.83 462.50,107.68 464.00,107.75 465.50,107.97 467.00,108.04 468.50,107.89" stroke="#d83f8c" stroke-width="1.1" fill="none" stroke-linejoin="round" />
<polyline points="477.30,105.32 478.80,105.06 480.30,104.88 481.80,104.75 483.30,104.41 484.80,103.66 486.30,102.60 487.80,101.53 489.30,100.67 490.80,100.08 492.30,99.82 493.80,99.83 495.30,100.11 496.80,100.69 498.30,101.46 499.80,102.28 501.30,103.08 502.80,103.89 504.30,104.66 505.80,105.33 507.30,105.87 508.80,106.27 510.30,106.55 511.80,106.72 513.30,106.81 514.80,106.90 516.30,107.05 517.80,107.21" stroke="#d83f8c" stroke-width="1.1" fill="none" stroke-linejoin="round" />
<polyline points="405.50,111.69 407.00,111.65 408.50,111.73 410.00,111.85 411.50,111.93 413.00,111.93 414.50,111.88 416.00,111.86 417.50,111.90 419.00,111.98 420.50,112.03 422.00,112.01 423.50,111.93 425.00,111.84 426.50,111.79 428.00,111.77 429.50,111.77 431.00,111.76 432.50,111.77 434.00,111.82 435.50,111.93 437.00,112.04 438.50,112.09 440.00,112.04 441.50,111.92 443.00,111.81 444.50,111.78 446.00,111.83 447.50,111.90 449.00,111.90 450.50,111.83 452.00,111.73 453.50,111.70 455.00,111.78 456.50,111.94 458.00,112.08 459.50,112.12 461.00,112.04 462.50,111.92 464.00,111.82 465.50,111.80 467.00,111.81 468.50,111.81" stroke="#de4080" stroke-width="1.1" fill="none" stroke-linejoin="round" />
<polyline points="477.30,109.65 478.80,109.32 480.30,108.90 481.80,108.63 483.30,108.32 484.80,107.59 486.30,106.38 487.80,105.09 489.30,104.18 490.80,103.71 492.30,103.52 493.80,103.45 495.30,103.65 496.80,104.38 498.30,105.45 499.80,106.41 501.30,107.06 502.80,107.60 504.30,108.34 505.80,109.20 507.30,109.87 508.80,110.19 510.30,110.38 511.80,110.69 513.30,111.09 514.80,111.31 516.30,111.25 517.80,111.15" stroke="#de4080" stroke-width="1.1" fill="none" stroke-linejoin="round" />
<polyline points="405.50,116.01 407.00,115.93 408.50,115.85 410.00,115.83 411.50,115.88 413.00,115.96 414.50,116.01 416.00,115.98 417.50,115.89 419.00,115.79 420.50,115.74 422.00,115.78 423.50,115.88 425.00,115.98 426.50,116.03 428.00,116.01 429.50,115.96 431.00,115.90 432.50,115.88 434.00,115.88 435.50,115.86 437.00,115.83 438.50,115.78 440.00,115.78 441.50,115.84 443.00,115.97 444.50,116.08 446.00,116.13 447.50,116.06 449.00,115.91 450.50,115.75 452.00,115.67 453.50,115.71 455.00,115.83 456.50,115.97 458.00,116.04 459.50,116.03 461.00,115.95 462.50,115.88 464.00,115.86 465.50,115.89 467.00,115.93 468.50,115.93" stroke="#e54175" stroke-width="1.1" fill="none" stroke-linejoin="round" />
<polyline points="477.30,113.53 478.80,113.49 480.30,113.26 481.80,112.81 483.30,112.13 484.80,111.22 486.30,110.15 487.80,109.01 489.30,107.98 490.80,107.25 492.30,107.01 493.80,107.14 495.30,107.51 496.80,108.10 498.30,108.89 499.80,109.81 501.30,110.79 502.80,111.73 504.30,112.57 505.80,113.27 507.30,113.82 508.80,114.24 510.30,114.56 511.80,114.81 513.30,115.02 514.80,115.18 516.30,115.31 517.80,115.41" stroke="#e54175" stroke-width="1.1" fill="none" stroke-linejoin="round" />
<polyline points="405.50,119.93 407.00,119.75 408.50,119.61 410.00,119.59 411.50,119.72 413.00,119.93 414.50,120.14 416.00,120.23 417.50,120.18 419.00,120.03 420.50,119.87 422.00,119.79 423.50,119.81 425.00,119.87 426.50,119.91 428.00,119.90 429.50,119.84 431.00,119.81 432.50,119.85 434.00,119.96 435.50,120.08 437.00,120.13 438.50,120.07 440.00,119.93 441.50,119.79 443.00,119.72 444.50,119.78 446.00,119.91 447.50,120.04 449.00,120.08 450.50,120.01 452.00,119.88 453.50,119.78 455.00,119.77 456.50,119.86 458.00,119.98 459.50,120.06 461.00,120.05 462.50,119.97 464.00,119.89 465.50,119.86 467.00,119.90 468.50,119.96" stroke="#eb4269" stroke-width="1.1" fill="none" stroke-linejoin="round" />
<polyline points="477.30,117.49 478.80,117.44 480.30,117.17 481.80,116.68 483.30,116.03 484.80,115.20 486.30,114.14 487.80,112.87 489.30,111.57 490.80,110.60 492.30,110.32 493.80,110.69 495.30,111.43 496.80,112.28 498.30,113.03 499.80,113.67 501.30,114.32 502.80,115.16 504.30,116.20 505.80,117.26 507.30,118.09 508.80,118.53 510.30,118.65 511.80,118.67 513.30,118.80 514.80,119.10 516.30,119.44 517.80,119.69" stroke="#eb4269" stroke-width="1.1" fill="none" stroke-linejoin="round" />
<polyline points="405.50,123.84 407.00,123.82 408.50,123.81 410.00,123.88 411.50,124.02 413.00,124.16 414.50,124.19 416.00,124.11 417.50,124.01 419.00,123.95 420.50,123.95 422.00,123.94 423.50,123.86 425.00,123.74 426.50,123.69 428.00,123.76 429.50,123.90 431.00,124.01 432.50,124.04 434.00,124.02 435.50,124.02 437.00,124.08 438.50,124.13 440.00,124.10 441.50,123.97 443.00,123.82 444.50,123.76 446.00,123.79 447.50,123.86 449.00,123.87 450.50,123.84 452.00,123.84 453.50,123.93 455.00,124.06 456.50,124.15 458.00,124.13 459.50,124.03 461.00,123.94 462.50,123.93 464.00,123.95 465.50,123.94 467.00,123.85 468.50,123.76" stroke="#f2445d" stroke-width="1.1" fill="none" stroke-linejoin="round" />
<polyline points="477.30,121.39 478.80,121.46 480.30,121.27 481.80,120.73 483.30,119.90 484.80,118.91 486.30,117.82 487.80,116.67 489.30,115.49 490.80,114.51 492.30,114.04 493.80,114.14 495.30,114.71 496.80,115.64 498.30,116.70 499.80,117.69 501.30,118.57 502.80,119.39 504.30,120.20 505.80,120.99 507.30,121.66 508.80,122.17 510.30,122.57 511.80,122.94 513.30,123.29 514.80,123.56 516.30,123.67 517.80,123.60" stroke="#f2445d" stroke-width="1.1" fill="none" stroke-linejoin="round" />
<polyline points="405.50,127.81 407.00,128.03 408.50,128.07 410.00,127.84 411.50,127.66 413.00,127.80 414.50,128.07 416.00,128.09 417.50,127.88 419.00,127.80 420.50,128.02 422.00,128.25 423.50,128.16 425.00,127.90 426.50,127.85 428.00,128.05 429.50,128.17 431.00,127.98 432.50,127.72 434.00,127.74 435.50,127.98 437.00,128.06 438.50,127.87 440.00,127.71 441.50,127.86 443.00,128.14 444.50,128.18 446.00,127.96 447.50,127.85 449.00,128.03 450.50,128.24 452.00,128.14 453.50,127.86 455.00,127.77 456.50,127.96 458.00,128.10 459.50,127.93 461.00,127.69 462.50,127.72 464.00,127.99 465.50,128.12 467.00,127.95 468.50,127.79" stroke="#f84552" stroke-width="1.1" fill="none" stroke-linejoin="round" />
<polyline points="477.30,125.35 478.80,125.27 480.30,125.05 481.80,124.63 483.30,123.96 484.80,122.99 486.30,121.74 487.80,120.33 489.30,119.01 490.80,118.08 492.30,117.80 493.80,118.06 495.30,118.62 496.80,119.40 498.30,120.28 499.80,121.20 501.30,122.14 502.80,123.10 504.30,124.07 505.80,124.99 507.30,125.80 508.80,126.42 510.30,126.81 511.80,127.03 513.30,127.17 514.80,127.34 516.30,127.57 517.80,127.82" stroke="#f84552" stroke-width="1.1" fill="none" stroke-linejoin="round" />
<polyline points="405.50,131.78 407.00,132.02 408.50,132.24 410.00,132.24 411.50,132.04 413.00,131.81 414.50,131.76 416.00,131.89 417.50,132.07 419.00,132.12 420.50,132.02 422.00,131.90 423.50,131.89 425.00,132.00 426.50,132.10 428.00,132.08 429.50,131.96 431.00,131.85 432.50,131.86 434.00,131.96 435.50,132.05 437.00,132.06 438.50,132.00 440.00,131.97 441.50,132.01 443.00,132.04 444.50,131.99 446.00,131.88 447.50,131.80 449.00,131.87 450.50,132.07 452.00,132.23 453.50,132.19 455.00,131.98 456.50,131.77 458.00,131.73 459.50,131.90 461.00,132.11 462.50,132.18 464.00,132.06 465.50,131.89 467.00,131.84 468.50,131.96" stroke="#ff4646" stroke-width="1.1" fill="none" stroke-linejoin="round" />
<polyline points="477.30,129.48 478.80,129.36 480.30,129.03 481.80,128.50 483.30,127.79 484.80,126.82 486.30,125.57 487.80,124.14 489.30,122.77 490.80,121.76 492.30,121.35 493.80,121.47 495.30,121.99 496.80,122.91 498.30,124.08 499.80,125.26 501.30,126.28 502.80,127.18 504.30,128.08 505.80,128.99 507.30,129.75 508.80,130.25 510.30,130.53 511.80,130.85 513.30,131.33 514.80,131.81 516.30,132.01 517.80,131.87" stroke="#ff4646" stroke-width="1.1" fill="none" stroke-linejoin="round" />
<polyline points="405.50,135.99 407.00,135.89 408.50,135.95 410.00,136.05 411.50,136.04 413.00,135.94 414.50,135.90 416.00,136.00 417.50,136.15 419.00,136.16 420.50,135.98 422.00,135.79 423.50,135.80 425.00,136.00 426.50,136.22 428.00,136.23 429.50,136.03 431.00,135.81 432.50,135.77 434.00,135.92 435.50,136.13 437.00,136.21 438.50,136.12 440.00,135.96 441.50,135.85 443.00,135.86 444.50,135.96 446.00,136.08 447.50,136.14 449.00,136.10 450.50,135.99 452.00,135.88 453.50,135.86 455.00,135.96 456.50,136.08 458.00,136.13 459.50,136.07 461.00,135.97 462.50,135.92 464.00,135.94 465.50,135.99 467.00,136.00 468.50,136.01" stroke="#2a2a2a" stroke-width="1.1" fill="none" stroke-linejoin="round" />
<polyline points="477.30,133.33 478.80,133.35 480.30,133.32 481.80,132.89 483.30,131.87 484.80,130.38 486.30,128.75 487.80,127.20 489.30,125.82 490.80,124.78 492.30,124.42 493.80,124.78 495.30,125.57 496.80,126.53 498.30,127.44 499.80,128.36 501.30,129.49 502.80,130.78 504.30,131.99 505.80,132.91 507.30,133.60 508.80,134.26 510.30,134.91 511.80,135.39 513.30,135.56 514.80,135.56 516.30,135.66 517.80,135.92" stroke="#2a2a2a" stroke-width="1.1" fill="none" stroke-linejoin="round" />
<polyline points="405.50,140.24 407.00,140.04 408.50,139.96 410.00,140.06 411.50,140.22 413.00,140.29 414.50,140.24 416.00,140.13 417.50,140.07 419.00,140.07 420.50,140.11 422.00,140.17 423.50,140.23 425.00,140.24 426.50,140.18 428.00,140.08 429.50,140.02 431.00,140.08 432.50,140.22 434.00,140.31 435.50,140.24 437.00,140.07 438.50,139.98 440.00,140.05 441.50,140.23 443.00,140.32 444.50,140.22 446.00,140.05 447.50,140.00 449.00,140.11 450.50,140.27 452.00,140.28 453.50,140.13 455.00,140.01 456.50,140.06 458.00,140.23 459.50,140.31 461.00,140.20 462.50,140.01 464.00,139.96 465.50,140.13 467.00,140.34 468.50,140.36" stroke="#ff4646" stroke-width="1.1" fill="none" stroke-linejoin="round" />
<polyline points="477.30,138.51 478.80,138.45 480.30,138.29 481.80,137.97 483.30,137.37 484.80,136.44 486.30,135.27 487.80,134.14 489.30,133.29 490.80,132.84 492.30,132.77 493.80,132.84 495.30,133.00 496.80,133.42 498.30,134.20 499.80,135.23 501.30,136.24 502.80,137.01 504.30,137.57 505.80,138.08 507.30,138.68 508.80,139.32 510.30,139.80 511.80,140.01 513.30,140.01 514.80,139.99 516.30,140.10 517.80,140.33" stroke="#ff4646" stroke-width="1.1" fill="none" stroke-linejoin="round" />
<polyline points="405.50,144.15 407.00,144.11 408.50,144.08 410.00,144.13 411.50,144.28 413.00,144.41 414.50,144.40 416.00,144.23 417.50,144.01 419.00,143.93 420.50,144.07 422.00,144.28 423.50,144.40 425.00,144.35 426.50,144.21 428.00,144.13 429.50,144.15 431.00,144.18 432.50,144.15 434.00,144.09 435.50,144.11 437.00,144.26 438.50,144.43 440.00,144.43 441.50,144.23 443.00,143.97 444.50,143.89 446.00,144.07 447.50,144.34 449.00,144.46 450.50,144.36 452.00,144.16 453.50,144.07 455.00,144.13 456.50,144.22 458.00,144.20 459.50,144.10 461.00,144.09 462.50,144.24 464.00,144.43 465.50,144.45 467.00,144.22 468.50,143.94" stroke="#ff4646" stroke-width="1.1" fill="none" stroke-linejoin="round" />
<polyline points="477.30,142.59 478.80,142.59 480.30,142.41 481.80,142.00 483.30,141.38 484.80,140.63 486.30,139.80 487.80,138.92 489.30,138.06 490.80,137.41 492.30,137.20 493.80,137.42 495.30,137.88 496.80,138.48 498.30,139.10 499.80,139.72 501.30,140.39 502.80,141.13 504.30,141.85 505.80,142.46 507.30,142.89 508.80,143.21 510.30,143.51 511.80,143.82 513.30,144.09 514.80,144.24 516.30,144.27 517.80,144.27" stroke="#ff4646" stroke-width="1.1" fill="none" stroke-linejoin="round" />
<polyline points="405.50,148.32 407.00,148.37 408.50,148.39 410.00,148.36 411.50,148.27 413.00,148.16 414.50,148.08 416.00,148.11 417.50,148.22 419.00,148.34 420.50,148.38 422.00,148.33 423.50,148.24 425.00,148.19 426.50,148.23 428.00,148.30 429.50,148.31 431.00,148.24 432.50,148.13 434.00,148.08 435.50,148.17 437.00,148.35 438.50,148.48 440.00,148.47 441.50,148.32 443.00,148.11 444.50,148.00 446.00,148.04 447.50,148.18 449.00,148.34 450.50,148.43 452.00,148.43 453.50,148.36 455.00,148.26 456.50,148.16 458.00,148.08 459.50,148.07 461.00,148.14 462.50,148.28 464.00,148.43 465.50,148.47 467.00,148.39 468.50,148.22" stroke="#fe4647" stroke-width="1.1" fill="none" stroke-linejoin="round" />
<polyline points="477.30,146.27 478.80,146.24 480.30,146.32 481.80,146.26 483.30,145.88 484.80,145.25 486.30,144.57 487.80,143.90 489.30,143.18 490.80,142.50 492.30,142.17 493.80,142.29 495.30,142.68 496.80,143.11 498.30,143.54 499.80,144.10 501.30,144.85 502.80,145.61 504.30,146.16 505.80,146.53 507.30,146.91 508.80,147.37 510.30,147.74 511.80,147.89 513.30,147.95 514.80,148.09 516.30,148.32 517.80,148.44" stroke="#fe4647" stroke-width="1.1" fill="none" stroke-linejoin="round" />
<polyline points="405.50,152.19 407.00,152.23 408.50,152.42 410.00,152.53 411.50,152.40 413.00,152.15 414.50,152.02 416.00,152.10 417.50,152.28 419.00,152.41 420.50,152.45 422.00,152.46 423.50,152.42 425.00,152.29 426.50,152.16 428.00,152.15 429.50,152.29 431.00,152.41 432.50,152.34 434.00,152.16 435.50,152.10 437.00,152.28 438.50,152.52 440.00,152.58 441.50,152.43 443.00,152.23 444.50,152.13 446.00,152.13 447.50,152.17 449.00,152.24 450.50,152.37 452.00,152.47 453.50,152.44 455.00,152.28 456.50,152.19 458.00,152.28 459.50,152.44 461.00,152.45 462.50,152.25 464.00,152.04 465.50,152.05 467.00,152.25 468.50,152.45" stroke="#fd4649" stroke-width="1.1" fill="none" stroke-linejoin="round" />
<polyline points="477.30,150.56 478.80,150.64 480.30,150.60 481.80,150.37 483.30,149.95 484.80,149.37 486.30,148.73 487.80,148.13 489.30,147.65 490.80,147.37 492.30,147.32 493.80,147.42 495.30,147.58 496.80,147.84 498.30,148.20 499.80,148.66 501.30,149.15 502.80,149.65 504.30,150.12 505.80,150.57 507.30,151.01 508.80,151.43 510.30,151.80 511.80,152.07 513.30,152.19 514.80,152.18 516.30,152.10 517.80,152.03" stroke="#fd4649" stroke-width="1.1" fill="none" stroke-linejoin="round" />
<polyline points="405.50,156.27 407.00,156.27 408.50,156.33 410.00,156.44 411.50,156.54 413.00,156.58 414.50,156.53 416.00,156.40 417.50,156.24 419.00,156.14 420.50,156.13 422.00,156.21 423.50,156.33 425.00,156.42 426.50,156.43 428.00,156.38 429.50,156.30 431.00,156.25 432.50,156.27 434.00,156.36 435.50,156.47 437.00,156.55 438.50,156.55 440.00,156.48 441.50,156.35 443.00,156.24 444.50,156.18 446.00,156.19 447.50,156.24 449.00,156.31 450.50,156.36 452.00,156.37 453.50,156.35 455.00,156.34 456.50,156.35 458.00,156.38 459.50,156.41 461.00,156.44 462.50,156.45 464.00,156.44 465.50,156.41 467.00,156.37 468.50,156.33" stroke="#fc454c" stroke-width="1.1" fill="none" stroke-linejoin="round" />
<polyline points="477.30,154.62 478.80,154.58 480.30,154.44 481.80,154.38 483.30,154.36 484.80,154.13 486.30,153.52 487.80,152.73 489.30,152.13 490.80,151.91 492.30,151.95 493.80,152.00 495.30,152.05 496.80,152.31 498.30,152.82 499.80,153.36 501.30,153.75 502.80,154.06 504.30,154.49 505.80,155.07 507.30,155.52 508.80,155.65 510.30,155.55 511.80,155.52 513.30,155.68 514.80,155.87 516.30,155.92 517.80,155.91" stroke="#fc454c" stroke-width="1.1" fill="none" stroke-linejoin="round" />
<polyline points="405.50,160.29 407.00,160.40 408.50,160.50 410.00,160.55 411.50,160.50 413.00,160.37 414.50,160.23 416.00,160.14 417.50,160.15 419.00,160.28 420.50,160.47 422.00,160.65 423.50,160.74 425.00,160.69 426.50,160.54 428.00,160.35 429.50,160.19 431.00,160.13 432.50,160.19 434.00,160.31 435.50,160.45 437.00,160.52 438.50,160.51 440.00,160.44 441.50,160.34 443.00,160.29 444.50,160.31 446.00,160.41 447.50,160.53 449.00,160.61 450.50,160.61 452.00,160.52 453.50,160.37 455.00,160.23 456.50,160.15 458.00,160.16 459.50,160.26 461.00,160.39 462.50,160.50 464.00,160.56 465.50,160.54 467.00,160.48 468.50,160.42" stroke="#f94550" stroke-width="1.1" fill="none" stroke-linejoin="round" />
<polyline points="477.30,158.77 478.80,158.80 480.30,158.68 481.80,158.41 483.30,158.14 484.80,157.98 486.30,157.84 487.80,157.52 489.30,157.02 490.80,156.56 492.30,156.43 493.80,156.63 495.30,156.94 496.80,157.16 498.30,157.31 499.80,157.57 501.30,158.03 502.80,158.55 504.30,158.92 505.80,159.09 507.30,159.20 508.80,159.41 510.30,159.69 511.80,159.84 513.30,159.79 514.80,159.67 516.30,159.71 517.80,159.98" stroke="#f94550" stroke-width="1.1" fill="none" stroke-linejoin="round" />
<polyline points="405.50,164.50 407.00,164.44 408.50,164.43 410.00,164.50 411.50,164.57 413.00,164.57 414.50,164.56 416.00,164.56 417.50,164.52 419.00,164.39 420.50,164.27 422.00,164.30 423.50,164.45 425.00,164.49 426.50,164.35 428.00,164.21 429.50,164.32 431.00,164.62 432.50,164.78 434.00,164.62 435.50,164.36 437.00,164.34 438.50,164.57 440.00,164.72 441.50,164.54 443.00,164.22 444.50,164.11 446.00,164.32 447.50,164.54 449.00,164.52 450.50,164.34 452.00,164.28 453.50,164.45 455.00,164.65 456.50,164.68 458.00,164.56 459.50,164.47 461.00,164.47 462.50,164.47 464.00,164.42 465.50,164.38 467.00,164.38 468.50,164.37" stroke="#f74455" stroke-width="1.1" fill="none" stroke-linejoin="round" />
<polyline points="477.30,162.67 478.80,162.61 480.30,162.61 481.80,162.60 483.30,162.52 484.80,162.39 486.30,162.21 487.80,161.99 489.30,161.71 490.80,161.40 492.30,161.20 493.80,161.21 495.30,161.44 496.80,161.79 498.30,162.07 499.80,162.20 501.30,162.24 502.80,162.37 504.30,162.71 505.80,163.16 507.30,163.56 508.80,163.76 510.30,163.78 511.80,163.75 513.30,163.78 514.80,163.87 516.30,163.96 517.80,163.99" stroke="#f74455" stroke-width="1.1" fill="none" stroke-linejoin="round" />
<polyline points="405.50,168.52 407.00,168.70 408.50,168.75 410.00,168.62 411.50,168.41 413.00,168.28 414.50,168.34 416.00,168.52 417.50,168.66 419.00,168.63 420.50,168.47 422.00,168.33 423.50,168.34 425.00,168.50 426.50,168.67 428.00,168.71 429.50,168.59 431.00,168.42 432.50,168.34 434.00,168.38 435.50,168.48 437.00,168.53 438.50,168.50 440.00,168.46 441.50,168.50 443.00,168.62 444.50,168.71 446.00,168.66 447.50,168.45 449.00,168.24 450.50,168.19 452.00,168.35 453.50,168.61 455.00,168.77 456.50,168.73 458.00,168.54 459.50,168.37 461.00,168.35 462.50,168.46 464.00,168.57 465.50,168.57 467.00,168.48 468.50,168.38" stroke="#f4445a" stroke-width="1.1" fill="none" stroke-linejoin="round" />
<polyline points="477.30,167.07 478.80,166.99 480.30,166.80 481.80,166.57 483.30,166.41 484.80,166.33 486.30,166.32 487.80,166.32 489.30,166.26 490.80,166.13 492.30,165.98 493.80,165.86 495.30,165.82 496.80,165.91 498.30,166.13 499.80,166.41 501.30,166.69 502.80,166.92 504.30,167.11 505.80,167.29 507.30,167.49 508.80,167.68 510.30,167.84 511.80,167.91 513.30,167.87 514.80,167.75 516.30,167.65 517.80,167.64" stroke="#f4445a" stroke-width="1.1" fill="none" stroke-linejoin="round" />
<polyline points="405.50,172.53 407.00,172.72 408.50,172.78 410.00,172.65 411.50,172.46 413.00,172.38 414.50,172.41 416.00,172.46 417.50,172.49 419.00,172.55 420.50,172.70 422.00,172.82 423.50,172.77 425.00,172.53 426.50,172.30 428.00,172.26 429.50,172.42 431.00,172.60 432.50,172.67 434.00,172.66 435.50,172.66 437.00,172.67 438.50,172.60 440.00,172.45 441.50,172.34 443.00,172.40 444.50,172.58 446.00,172.70 447.50,172.65 449.00,172.51 450.50,172.46 452.00,172.54 453.50,172.62 455.00,172.61 456.50,172.55 458.00,172.53 459.50,172.57 461.00,172.56 462.50,172.46 464.00,172.37 465.50,172.44 467.00,172.65 468.50,172.81" stroke="#f04361" stroke-width="1.1" fill="none" stroke-linejoin="round" />
<polyline points="477.30,170.96 478.80,171.05 480.30,171.03 481.80,170.95 483.30,170.89 484.80,170.79 486.30,170.59 487.80,170.34 489.30,170.23 490.80,170.34 492.30,170.54 493.80,170.60 495.30,170.49 496.80,170.42 498.30,170.53 499.80,170.77 501.30,170.99 502.80,171.15 504.30,171.31 505.80,171.48 507.30,171.60 508.80,171.61 510.30,171.60 511.80,171.66 513.30,171.77 514.80,171.81 516.30,171.79 517.80,171.84" stroke="#f04361" stroke-width="1.1" fill="none" stroke-linejoin="round" />
<polyline points="405.50,176.46 407.00,176.39 408.50,176.53 410.00,176.70 411.50,176.72 413.00,176.61 414.50,176.58 416.00,176.70 417.50,176.79 419.00,176.67 420.50,176.39 422.00,176.25 423.50,176.40 425.00,176.71 426.50,176.87 428.00,176.80 429.50,176.65 431.00,176.61 432.50,176.62 434.00,176.54 435.50,176.37 437.00,176.31 438.50,176.51 440.00,176.82 441.50,176.95 443.00,176.79 444.50,176.53 446.00,176.43 447.50,176.53 449.00,176.61 450.50,176.55 452.00,176.46 453.50,176.52 455.00,176.71 456.50,176.82 458.00,176.72 459.50,176.53 461.00,176.48 462.50,176.61 464.00,176.70 465.50,176.60 467.00,176.41 468.50,176.37" stroke="#ec4268" stroke-width="1.1" fill="none" stroke-linejoin="round" />
<polyline points="477.30,175.11 478.80,175.04 480.30,174.90 481.80,174.85 483.30,174.97 484.80,175.12 486.30,175.09 487.80,174.85 489.30,174.60 490.80,174.55 492.30,174.70 493.80,174.89 495.30,174.99 496.80,175.00 498.30,174.98 499.80,174.99 501.30,175.08 502.80,175.27 504.30,175.52 505.80,175.70 507.30,175.68 508.80,175.51 510.30,175.43 511.80,175.60 513.30,175.92 514.80,176.11 516.30,176.01 517.80,175.77" stroke="#ec4268" stroke-width="1.1" fill="none" stroke-linejoin="round" />
<polyline points="405.50,180.53 407.00,180.54 408.50,180.61 410.00,180.66 411.50,180.67 413.00,180.69 414.50,180.74 416.00,180.76 417.50,180.71 419.00,180.64 420.50,180.61 422.00,180.61 423.50,180.58 425.00,180.55 426.50,180.56 428.00,180.65 429.50,180.72 431.00,180.73 432.50,180.69 434.00,180.71 435.50,180.74 437.00,180.71 438.50,180.60 440.00,180.52 441.50,180.55 443.00,180.63 444.50,180.64 446.00,180.59 447.50,180.61 449.00,180.74 450.50,180.83 452.00,180.76 453.50,180.62 455.00,180.59 456.50,180.66 458.00,180.68 459.50,180.56 461.00,180.46 462.50,180.54 464.00,180.72 465.50,180.79 467.00,180.69 468.50,180.61" stroke="#e74271" stroke-width="1.1" fill="none" stroke-linejoin="round" />
<polyline points="477.30,179.02 478.80,178.85 480.30,178.93 481.80,179.09 483.30,179.13 484.80,179.02 486.30,178.93 487.80,178.98 489.30,179.09 490.80,179.14 492.30,179.16 493.80,179.21 495.30,179.29 496.80,179.30 498.30,179.26 499.80,179.28 501.30,179.41 502.80,179.52 504.30,179.47 505.80,179.35 507.30,179.38 508.80,179.63 510.30,179.89 511.80,179.90 513.30,179.73 514.80,179.69 516.30,179.94 517.80,180.23" stroke="#e74271" stroke-width="1.1" fill="none" stroke-linejoin="round" />
<polyline points="405.50,184.70 407.00,184.77 408.50,184.73 410.00,184.64 411.50,184.62 413.00,184.73 414.50,184.89 416.00,184.96 417.50,184.86 419.00,184.65 420.50,184.48 422.00,184.47 423.50,184.58 425.00,184.70 426.50,184.75 428.00,184.72 429.50,184.69 431.00,184.72 432.50,184.80 434.00,184.85 435.50,184.82 437.00,184.73 438.50,184.64 440.00,184.60 441.50,184.59 443.00,184.59 444.50,184.59 446.00,184.61 447.50,184.70 449.00,184.83 450.50,184.91 452.00,184.88 453.50,184.75 455.00,184.63 456.50,184.60 458.00,184.67 459.50,184.73 461.00,184.70 462.50,184.58 464.00,184.49 465.50,184.54 467.00,184.73 468.50,184.92" stroke="#e2417a" stroke-width="1.1" fill="none" stroke-linejoin="round" />
<polyline points="477.30,182.97 478.80,183.07 480.30,183.22 481.80,183.30 483.30,183.27 484.80,183.18 486.30,183.14 487.80,183.21 489.30,183.36 490.80,183.50 492.30,183.53 493.80,183.48 495.30,183.43 496.80,183.43 498.30,183.49 499.80,183.55 501.30,183.56 502.80,183.52 504.30,183.52 505.80,183.62 507.30,183.81 508.80,183.97 510.30,183.99 511.80,183.86 513.30,183.68 514.80,183.59 516.30,183.65 517.80,183.82" stroke="#e2417a" stroke-width="1.1" fill="none" stroke-linejoin="round" />
<polyline points="405.50,188.75 407.00,188.71 408.50,188.71 410.00,188.70 411.50,188.65 413.00,188.60 414.50,188.64 416.00,188.79 417.50,188.98 419.00,189.05 420.50,188.94 422.00,188.69 423.50,188.48 425.00,188.46 426.50,188.61 428.00,188.81 429.50,188.91 431.00,188.88 432.50,188.79 434.00,188.75 435.50,188.78 437.00,188.82 438.50,188.79 440.00,188.69 441.50,188.59 443.00,188.58 444.50,188.67 446.00,188.79 447.50,188.87 449.00,188.89 450.50,188.87 452.00,188.84 453.50,188.79 455.00,188.69 456.50,188.56 458.00,188.50 459.50,188.58 461.00,188.78 462.50,188.98 464.00,189.04 465.50,188.91 467.00,188.71 468.50,188.58" stroke="#dc3f85" stroke-width="1.1" fill="none" stroke-linejoin="round" />
<polyline points="477.30,187.36 478.80,187.50 480.30,187.51 481.80,187.40 483.30,187.23 484.80,187.08 486.30,187.03 487.80,187.10 489.30,187.27 490.80,187.47 492.30,187.64 493.80,187.72 495.30,187.72 496.80,187.65 498.30,187.55 499.80,187.48 501.30,187.45 502.80,187.48 504.30,187.56 505.80,187.67 507.30,187.80 508.80,187.91 510.30,187.99 511.80,188.02 513.30,187.99 514.80,187.90 516.30,187.80 517.80,187.74" stroke="#dc3f85" stroke-width="1.1" fill="none" stroke-linejoin="round" />
<polyline points="405.50,192.68 407.00,192.91 408.50,193.11 410.00,192.99 411.50,192.63 413.00,192.40 414.50,192.54 416.00,192.88 417.50,193.04 419.00,192.90 420.50,192.69 422.00,192.72 423.50,192.97 425.00,193.11 426.50,192.92 428.00,192.57 429.50,192.41 431.00,192.61 432.50,192.92 434.00,193.01 435.50,192.84 437.00,192.68 438.50,192.77 440.00,193.02 441.50,193.09 443.00,192.86 444.50,192.53 446.00,192.44 447.50,192.67 449.00,192.94 450.50,192.97 452.00,192.79 453.50,192.69 455.00,192.83 456.50,193.05 458.00,193.06 459.50,192.79 461.00,192.50 462.50,192.49 464.00,192.73 465.50,192.94 467.00,192.92 468.50,192.75" stroke="#d63e90" stroke-width="1.1" fill="none" stroke-linejoin="round" />
<polyline points="477.30,191.08 478.80,191.13 480.30,191.26 481.80,191.37 483.30,191.40 484.80,191.37 486.30,191.37 487.80,191.40 489.30,191.43 490.80,191.42 492.30,191.41 493.80,191.48 495.30,191.62 496.80,191.76 498.30,191.76 499.80,191.63 501.30,191.49 502.80,191.49 504.30,191.68 505.80,191.92 507.30,192.04 508.80,191.97 510.30,191.80 511.80,191.71 513.30,191.76 514.80,191.91 516.30,192.05 517.80,192.11" stroke="#d63e90" stroke-width="1.1" fill="none" stroke-linejoin="round" />
<polyline points="405.50,197.00 407.00,196.94 408.50,196.79 410.00,196.75 411.50,196.84 413.00,196.88 414.50,196.80 416.00,196.71 417.50,196.78 419.00,196.96 420.50,197.03 422.00,196.94 423.50,196.85 425.00,196.89 426.50,196.96 428.00,196.88 429.50,196.69 431.00,196.61 432.50,196.71 434.00,196.84 435.50,196.85 437.00,196.80 438.50,196.87 440.00,197.05 441.50,197.13 443.00,197.02 444.50,196.85 446.00,196.80 447.50,196.83 449.00,196.78 450.50,196.63 452.00,196.56 453.50,196.68 455.00,196.89 456.50,196.97 458.00,196.93 459.50,196.95 461.00,197.06 462.50,197.12 464.00,196.99 465.50,196.77 467.00,196.67 468.50,196.72" stroke="#cf3d9c" stroke-width="1.1" fill="none" stroke-linejoin="round" />
<polyline points="477.30,195.29 478.80,195.25 480.30,195.24 481.80,195.33 483.30,195.43 484.80,195.46 486.30,195.40 487.80,195.38 489.30,195.47 490.80,195.60 492.30,195.62 493.80,195.54 495.30,195.51 496.80,195.61 498.30,195.76 499.80,195.79 501.30,195.69 502.80,195.65 504.30,195.76 505.80,195.92 507.30,195.95 508.80,195.84 510.30,195.78 511.80,195.90 513.30,196.08 514.80,196.11 516.30,195.99 517.80,195.92" stroke="#cf3d9c" stroke-width="1.1" fill="none" stroke-linejoin="round" />
<polyline points="405.50,200.92 407.00,201.00 408.50,200.96 410.00,200.85 411.50,200.78 413.00,200.83 414.50,200.97 416.00,201.07 417.50,201.03 419.00,200.87 420.50,200.72 422.00,200.71 423.50,200.85 425.00,201.02 426.50,201.08 428.00,201.01 429.50,200.88 431.00,200.81 432.50,200.84 434.00,200.91 435.50,200.92 437.00,200.85 438.50,200.79 440.00,200.81 441.50,200.90 443.00,200.93 444.50,200.79 446.00,200.49 447.50,200.22 449.00,200.17 450.50,200.39 452.00,200.74 453.50,201.01 455.00,201.08 456.50,200.98 458.00,200.87 459.50,200.82 461.00,200.85 462.50,200.87 464.00,200.84 465.50,200.78 467.00,200.81 468.50,200.94" stroke="#c73caa" stroke-width="1.1" fill="none" stroke-linejoin="round" />
<polyline points="477.30,199.31 478.80,199.47 480.30,199.56 481.80,199.57 483.30,199.52 484.80,199.45 486.30,199.40 487.80,199.39 489.30,199.42 490.80,199.48 492.30,199.53 493.80,199.60 495.30,199.67 496.80,199.75 498.30,199.83 499.80,199.88 501.30,199.88 502.80,199.84 504.30,199.79 505.80,199.77 507.30,199.79 508.80,199.86 510.30,199.96 511.80,200.03 513.30,200.06 514.80,200.05 516.30,200.03 517.80,200.05" stroke="#c73caa" stroke-width="1.1" fill="none" stroke-linejoin="round" />
<polyline points="405.50,205.02 407.00,204.84 408.50,204.72 410.00,204.72 411.50,204.85 413.00,205.04 414.50,205.18 416.00,205.20 417.50,205.08 419.00,204.89 420.50,204.73 422.00,204.69 423.50,204.79 425.00,204.97 426.50,205.06 428.00,204.86 429.50,204.28 431.00,203.68 432.50,203.59 434.00,203.99 435.50,204.49 437.00,204.85 438.50,205.08 440.00,205.12 441.50,204.91 443.00,204.40 444.50,203.71 446.00,203.11 447.50,202.90 449.00,203.22 450.50,203.87 452.00,204.52 453.50,204.89 455.00,204.97 456.50,204.85 458.00,204.72 459.50,204.69 461.00,204.79 462.50,204.98 464.00,205.15 465.50,205.20 467.00,205.12 468.50,204.95" stroke="#bf3ab8" stroke-width="1.1" fill="none" stroke-linejoin="round" />
<polyline points="477.30,203.27 478.80,203.28 480.30,203.28 481.80,203.36 483.30,203.51 484.80,203.63 486.30,203.67 487.80,203.66 489.30,203.68 490.80,203.74 492.30,203.76 493.80,203.71 495.30,203.63 496.80,203.60 498.30,203.65 499.80,203.70 501.30,203.72 502.80,203.74 504.30,203.82 505.80,203.94 507.30,204.05 508.80,204.11 510.30,204.13 511.80,204.15 513.30,204.18 514.80,204.20 516.30,204.17 517.80,204.11" stroke="#bf3ab8" stroke-width="1.1" fill="none" stroke-linejoin="round" />
<polyline points="405.50,208.94 407.00,208.75 408.50,208.79 410.00,208.98 411.50,209.06 413.00,208.98 414.50,208.89 416.00,208.92 417.50,209.02 419.00,209.09 420.50,209.11 422.00,209.13 423.50,209.13 425.00,209.04 426.50,208.86 428.00,208.57 429.50,208.19 431.00,207.84 432.50,207.81 434.00,208.08 435.50,208.47 437.00,208.85 438.50,209.08 440.00,208.90 441.50,208.30 443.00,207.45 444.50,206.53 446.00,205.72 447.50,205.27 449.00,205.46 450.50,206.30 452.00,207.43 453.50,208.35 455.00,208.81 456.50,208.90 458.00,208.87 459.50,208.87 461.00,208.88 462.50,208.89 464.00,208.95 465.50,209.05 467.00,209.12 468.50,209.05" stroke="#b638c8" stroke-width="1.1" fill="none" stroke-linejoin="round" />
<polyline points="477.30,207.51 478.80,207.51 480.30,207.31 481.80,207.15 483.30,207.28 484.80,207.65 486.30,207.92 487.80,207.88 489.30,207.69 490.80,207.58 492.30,207.63 493.80,207.68 495.30,207.67 496.80,207.67 498.30,207.77 499.80,207.88 501.30,207.91 502.80,207.92 504.30,208.03 505.80,208.20 507.30,208.22 508.80,207.99 510.30,207.72 511.80,207.73 513.30,208.03 514.80,208.34 516.30,208.39 517.80,208.26" stroke="#b638c8" stroke-width="1.1" fill="none" stroke-linejoin="round" />
<polyline points="405.50,213.08 407.00,212.86 408.50,212.76 410.00,212.91 411.50,213.17 413.00,213.31 414.50,213.24 416.00,213.10 417.50,213.04 419.00,213.05 420.50,213.02 422.00,212.89 423.50,212.80 425.00,212.87 426.50,213.03 428.00,212.95 429.50,212.41 431.00,211.79 432.50,211.74 434.00,212.29 435.50,212.87 437.00,213.09 438.50,212.93 440.00,212.55 441.50,211.91 443.00,210.81 444.50,209.17 446.00,207.46 447.50,206.63 449.00,207.29 450.50,209.04 452.00,210.88 453.50,212.02 455.00,212.44 456.50,212.58 458.00,212.79 459.50,213.07 461.00,213.23 462.50,213.20 464.00,213.10 465.50,213.08 467.00,213.14 468.50,213.13" stroke="#aa38cf" stroke-width="1.1" fill="none" stroke-linejoin="round" />
<polyline points="477.30,211.36 478.80,211.46 480.30,211.52 481.80,211.57 483.30,211.65 484.80,211.73 486.30,211.75 487.80,211.66 489.30,211.54 490.80,211.50 492.30,211.62 493.80,211.83 495.30,211.98 496.80,212.00 498.30,211.92 499.80,211.86 501.30,211.89 502.80,211.93 504.30,211.93 505.80,211.90 507.30,211.94 508.80,212.10 510.30,212.30 511.80,212.37 513.30,212.27 514.80,212.08 516.30,212.00 517.80,212.11" stroke="#aa38cf" stroke-width="1.1" fill="none" stroke-linejoin="round" />
<polyline points="405.50,217.13 407.00,217.03 408.50,217.07 410.00,217.10 411.50,216.98 413.00,216.83 414.50,216.89 416.00,217.13 417.50,217.32 419.00,217.31 420.50,217.22 422.00,217.24 423.50,217.28 425.00,217.16 426.50,216.84 428.00,216.42 429.50,216.02 431.00,215.80 432.50,215.96 434.00,216.39 435.50,216.84 437.00,217.14 438.50,217.15 440.00,216.68 441.50,215.64 443.00,214.00 444.50,211.83 446.00,209.68 447.50,208.58 449.00,209.31 450.50,211.53 452.00,214.00 453.50,215.66 455.00,216.36 456.50,216.62 458.00,216.86 459.50,217.07 461.00,217.14 462.50,217.12 464.00,217.20 465.50,217.37 467.00,217.41 468.50,217.22" stroke="#9d39d4" stroke-width="1.1" fill="none" stroke-linejoin="round" />
<polyline points="477.30,215.37 478.80,215.58 480.30,215.78 481.80,215.83 483.30,215.75 484.80,215.61 486.30,215.54 487.80,215.56 489.30,215.64 490.80,215.72 492.30,215.78 493.80,215.85 495.30,215.95 496.80,216.05 498.30,216.08 499.80,216.00 501.30,215.89 502.80,215.83 504.30,215.89 505.80,216.04 507.30,216.16 508.80,216.20 510.30,216.17 511.80,216.16 513.30,216.25 514.80,216.38 516.30,216.45 517.80,216.37" stroke="#9d39d4" stroke-width="1.1" fill="none" stroke-linejoin="round" />
<polyline points="405.50,221.14 407.00,221.12 408.50,221.16 410.00,221.20 411.50,221.17 413.00,221.06 414.50,220.99 416.00,221.05 417.50,221.23 419.00,221.38 420.50,221.34 422.00,221.14 423.50,220.95 425.00,220.92 426.50,221.01 428.00,220.92 429.50,220.44 431.00,219.88 432.50,219.85 434.00,220.38 435.50,220.99 437.00,221.27 438.50,221.09 440.00,220.44 441.50,219.22 443.00,217.30 444.50,214.70 446.00,212.13 447.50,210.80 449.00,211.53 450.50,213.99 452.00,216.96 453.50,219.33 455.00,220.65 456.50,221.06 458.00,221.01 459.50,220.93 461.00,221.07 462.50,221.32 464.00,221.44 465.50,221.29 467.00,221.00 468.50,220.83" stroke="#8e39d9" stroke-width="1.1" fill="none" stroke-linejoin="round" />
<polyline points="477.30,219.71 478.80,219.51 480.30,219.42 481.80,219.53 483.30,219.69 484.80,219.73 486.30,219.68 487.80,219.73 489.30,219.85 490.80,219.91 492.30,219.87 493.80,219.86 495.30,219.95 496.80,220.02 498.30,219.94 499.80,219.80 501.30,219.82 502.80,220.07 504.30,220.30 505.80,220.31 507.30,220.19 508.80,220.13 510.30,220.18 511.80,220.22 513.30,220.18 514.80,220.19 516.30,220.32 517.80,220.46" stroke="#8e39d9" stroke-width="1.1" fill="none" stroke-linejoin="round" />
<polyline points="405.50,225.48 407.00,225.29 408.50,224.99 410.00,224.90 411.50,225.07 413.00,225.28 414.50,225.27 416.00,225.08 417.50,224.99 419.00,225.18 420.50,225.47 422.00,225.53 423.50,225.31 425.00,225.05 426.50,224.96 428.00,224.88 429.50,224.47 431.00,223.90 432.50,223.75 434.00,224.21 435.50,224.89 437.00,225.31 438.50,225.23 440.00,224.57 441.50,223.27 443.00,221.10 444.50,218.05 446.00,214.89 447.50,213.18 449.00,214.05 450.50,217.08 452.00,220.63 453.50,223.23 455.00,224.45 456.50,224.82 458.00,225.00 459.50,225.29 461.00,225.51 462.50,225.47 464.00,225.22 465.50,225.04 467.00,225.11 468.50,225.27" stroke="#7f3ade" stroke-width="1.1" fill="none" stroke-linejoin="round" />
<polyline points="477.30,223.76 478.80,223.61 480.30,223.42 481.80,223.41 483.30,223.59 484.80,223.80 486.30,223.92 487.80,223.97 489.30,224.02 490.80,224.04 492.30,223.91 493.80,223.71 495.30,223.62 496.80,223.78 498.30,224.05 499.80,224.24 501.30,224.29 502.80,224.29 504.30,224.27 505.80,224.19 507.30,224.02 508.80,223.90 510.30,224.00 511.80,224.28 513.30,224.53 514.80,224.60 516.30,224.55 517.80,224.50" stroke="#7f3ade" stroke-width="1.1" fill="none" stroke-linejoin="round" />
<polyline points="405.50,229.17 407.00,229.08 408.50,229.05 410.00,229.08 411.50,229.15 413.00,229.25 414.50,229.34 416.00,229.40 417.50,229.40 419.00,229.36 420.50,229.29 422.00,229.22 423.50,229.18 425.00,229.16 426.50,229.10 428.00,228.88 429.50,228.41 431.00,228.01 432.50,228.08 434.00,228.53 435.50,228.92 437.00,229.06 438.50,228.98 440.00,228.53 441.50,227.27 443.00,224.74 444.50,221.06 446.00,217.44 447.50,215.69 449.00,216.82 450.50,220.12 452.00,223.83 453.50,226.63 455.00,228.25 456.50,229.03 458.00,229.41 459.50,229.57 461.00,229.60 462.50,229.51 464.00,229.33 465.50,229.12 467.00,228.95 468.50,228.87" stroke="#6f3be4" stroke-width="1.1" fill="none" stroke-linejoin="round" />
<polyline points="477.30,227.73 478.80,227.82 480.30,227.88 481.80,227.85 483.30,227.72 484.80,227.59 486.30,227.56 487.80,227.69 489.30,227.90 490.80,228.10 492.30,228.17 493.80,228.12 495.30,228.03 496.80,227.98 498.30,228.01 499.80,228.06 501.30,228.08 502.80,228.08 504.30,228.10 505.80,228.19 507.30,228.32 508.80,228.43 510.30,228.45 511.80,228.37 513.30,228.29 514.80,228.28 516.30,228.37 517.80,228.50" stroke="#6f3be4" stroke-width="1.1" fill="none" stroke-linejoin="round" />
<polyline points="405.50,233.26 407.00,233.29 408.50,233.32 410.00,233.31 411.50,233.27 413.00,233.23 414.50,233.25 416.00,233.32 417.50,233.39 419.00,233.43 420.50,233.38 422.00,233.27 423.50,233.17 425.00,233.13 426.50,233.11 428.00,232.96 429.50,232.55 431.00,232.17 432.50,232.21 434.00,232.62 435.50,232.98 437.00,233.11 438.50,233.00 440.00,232.47 441.50,231.04 443.00,228.25 444.50,224.28 446.00,220.45 447.50,218.71 449.00,220.06 450.50,223.68 452.00,227.65 453.50,230.57 455.00,232.21 456.50,233.00 458.00,233.38 459.50,233.54 461.00,233.52 462.50,233.36 464.00,233.15 465.50,233.03 467.00,233.06 468.50,233.22" stroke="#5e3bea" stroke-width="1.1" fill="none" stroke-linejoin="round" />
<polyline points="477.30,231.82 478.80,231.82 480.30,231.86 481.80,231.96 483.30,232.00 484.80,231.88 486.30,231.70 487.80,231.65 489.30,231.79 490.80,231.97 492.30,232.02 493.80,232.00 495.30,232.05 496.80,232.18 498.30,232.25 499.80,232.20 501.30,232.15 502.80,232.24 504.30,232.39 505.80,232.41 507.30,232.27 508.80,232.13 510.30,232.14 511.80,232.28 513.30,232.37 514.80,232.40 516.30,232.48 517.80,232.66" stroke="#5e3bea" stroke-width="1.1" fill="none" stroke-linejoin="round" />
<polyline points="405.50,237.09 407.00,237.30 408.50,237.50 410.00,237.46 411.50,237.30 413.00,237.27 414.50,237.42 416.00,237.50 417.50,237.38 419.00,237.20 420.50,237.18 422.00,237.31 423.50,237.42 425.00,237.43 426.50,237.34 428.00,237.07 429.50,236.50 431.00,235.95 432.50,235.98 434.00,236.61 435.50,237.23 437.00,237.40 438.50,237.09 440.00,236.39 441.50,234.95 443.00,232.09 444.50,227.74 446.00,223.38 447.50,221.41 449.00,223.08 450.50,227.28 452.00,231.66 453.50,234.67 455.00,236.25 456.50,236.96 458.00,237.24 459.50,237.29 461.00,237.31 462.50,237.39 464.00,237.46 465.50,237.42 467.00,237.32 468.50,237.31" stroke="#4c3cf0" stroke-width="1.1" fill="none" stroke-linejoin="round" />
<polyline points="477.30,235.68 478.80,235.63 480.30,235.72 481.80,235.86 483.30,235.90 484.80,235.82 486.30,235.77 487.80,235.88 489.30,236.08 490.80,236.23 492.30,236.23 493.80,236.18 495.30,236.16 496.80,236.15 498.30,236.07 499.80,235.94 501.30,235.93 502.80,236.11 504.30,236.40 505.80,236.58 507.30,236.57 508.80,236.48 510.30,236.44 511.80,236.46 513.30,236.44 514.80,236.37 516.30,236.35 517.80,236.46" stroke="#4c3cf0" stroke-width="1.1" fill="none" stroke-linejoin="round" />
<polyline points="405.50,241.41 407.00,241.27 408.50,241.19 410.00,241.28 411.50,241.47 413.00,241.63 414.50,241.64 416.00,241.50 417.50,241.32 419.00,241.25 420.50,241.31 422.00,241.42 423.50,241.45 425.00,241.36 426.50,241.17 428.00,240.88 429.50,240.50 431.00,240.27 432.50,240.47 434.00,240.92 435.50,241.18 437.00,241.16 438.50,240.98 440.00,240.45 441.50,238.99 443.00,236.00 444.50,231.64 446.00,227.41 447.50,225.51 449.00,227.11 450.50,231.23 452.00,235.67 453.50,238.81 455.00,240.37 456.50,240.95 458.00,241.16 459.50,241.31 461.00,241.42 462.50,241.44 464.00,241.39 465.50,241.33 467.00,241.36 468.50,241.47" stroke="#3a3a3a" stroke-width="1.1" fill="none" stroke-linejoin="round" />
<polyline points="477.30,240.62 478.80,240.50 480.30,240.26 481.80,240.19 483.30,240.36 484.80,240.57 486.30,240.61 487.80,240.53 489.30,240.56 490.80,240.77 492.30,240.98 493.80,240.98 495.30,240.81 496.80,240.69 498.30,240.73 499.80,240.82 501.30,240.82 502.80,240.74 504.30,240.74 505.80,240.89 507.30,241.08 508.80,241.18 510.30,241.19 511.80,241.20 513.30,241.23 514.80,241.24 516.30,241.19 517.80,241.12" stroke="#3a3a3a" stroke-width="1.1" fill="none" stroke-linejoin="round" />
<line x1="405.50" y1="22.70" x2="405.50" y2="243.70" stroke="#444" stroke-width="0.9" />
<line x1="405.50" y1="243.70" x2="468.40" y2="243.70" stroke="#222" stroke-width="0.9" />
<line x1="477.30" y1="243.70" x2="518.50" y2="243.70" stroke="#222" stroke-width="0.9" />
<line x1="406.30" y1="243.70" x2="406.30" y2="246.30" stroke="#222" stroke-width="0.6" />
<line x1="410.24" y1="243.70" x2="410.24" y2="245.10" stroke="#222" stroke-width="0.6" />
<line x1="414.18" y1="243.70" x2="414.18" y2="245.10" stroke="#222" stroke-width="0.6" />
<line x1="418.12" y1="243.70" x2="418.12" y2="245.10" stroke="#222" stroke-width="0.6" />
<line x1="422.06" y1="243.70" x2="422.06" y2="245.10" stroke="#222" stroke-width="0.6" />
<line x1="426.00" y1="243.70" x2="426.00" y2="246.30" stroke="#222" stroke-width="0.6" />
<line x1="429.94" y1="243.70" x2="429.94" y2="245.10" stroke="#222" stroke-width="0.6" />
<line x1="433.88" y1="243.70" x2="433.88" y2="245.10" stroke="#222" stroke-width="0.6" />
<line x1="437.82" y1="243.70" x2="437.82" y2="245.10" stroke="#222" stroke-width="0.6" />
<line x1="441.76" y1="243.70" x2="441.76" y2="245.10" stroke="#222" stroke-width="0.6" />
<line x1="445.70" y1="243.70" x2="445.70" y2="246.30" stroke="#222" stroke-width="0.6" />
<line x1="449.64" y1="243.70" x2="449.64" y2="245.10" stroke="#222" stroke-width="0.6" />
<line x1="453.58" y1="243.70" x2="453.58" y2="245.10" stroke="#222" stroke-width="0.6" />
<line x1="457.52" y1="243.70" x2="457.52" y2="245.10" stroke="#222" stroke-width="0.6" />
<line x1="461.46" y1="243.70" x2="461.46" y2="245.10" stroke="#222" stroke-width="0.6" />
<line x1="465.40" y1="243.70" x2="465.40" y2="246.30" stroke="#222" stroke-width="0.6" />
<line x1="477.30" y1="243.70" x2="477.30" y2="246.30" stroke="#222" stroke-width="0.6" />
<line x1="481.42" y1="243.70" x2="481.42" y2="245.10" stroke="#222" stroke-width="0.6" />
<line x1="485.54" y1="243.70" x2="485.54" y2="245.10" stroke="#222" stroke-width="0.6" />
<line x1="489.66" y1="243.70" x2="489.66" y2="245.10" stroke="#222" stroke-width="0.6" />
<line x1="493.78" y1="243.70" x2="493.78" y2="245.10" stroke="#222" stroke-width="0.6" />
<line x1="497.90" y1="243.70" x2="497.90" y2="246.30" stroke="#222" stroke-width="0.6" />
<line x1="502.02" y1="243.70" x2="502.02" y2="245.10" stroke="#222" stroke-width="0.6" />
<line x1="506.14" y1="243.70" x2="506.14" y2="245.10" stroke="#222" stroke-width="0.6" />
<line x1="510.26" y1="243.70" x2="510.26" y2="245.10" stroke="#222" stroke-width="0.6" />
<line x1="514.38" y1="243.70" x2="514.38" y2="245.10" stroke="#222" stroke-width="0.6" />
<line x1="518.50" y1="243.70" x2="518.50" y2="246.30" stroke="#222" stroke-width="0.6" />
<text transform="translate(407.2,248.7) rotate(-45)" font-size="8.8" fill="#222" text-anchor="end" dominant-baseline="hanging">22.0</text>
<text transform="translate(426.9,248.7) rotate(-45)" font-size="8.8" fill="#222" text-anchor="end" dominant-baseline="hanging">22.5</text>
<text transform="translate(446.6,248.7) rotate(-45)" font-size="8.8" fill="#222" text-anchor="end" dominant-baseline="hanging">23.0</text>
<text transform="translate(466.3,248.7) rotate(-45)" font-size="8.8" fill="#222" text-anchor="end" dominant-baseline="hanging">23.5</text>
<text transform="translate(478.2,248.7) rotate(-45)" font-size="8.8" fill="#222" text-anchor="end" dominant-baseline="hanging">44</text>
<text transform="translate(498.8,248.7) rotate(-45)" font-size="8.8" fill="#222" text-anchor="end" dominant-baseline="hanging">45</text>
<text transform="translate(519.4,248.7) rotate(-45)" font-size="8.8" fill="#222" text-anchor="end" dominant-baseline="hanging">46</text>
<text x="471.5" y="274" font-size="7.6" fill="#222" text-anchor="middle">2<tspan font-style="italic">θ</tspan> (°)</text>
<text x="447.2" y="14" font-size="8" fill="#2f2ff0" stroke="#2f2ff0" stroke-width="0.25" text-anchor="middle">α-S<tspan font-size="5.2" dy="1.6">8</tspan></text>
<text x="447.20" y="23.50" font-size="8" font-weight="normal" fill="#2f2ff0" text-anchor="middle" stroke="#2f2ff0" stroke-width="0.25">(222)</text>
<text x="492.7" y="14" font-size="8" fill="#ff2020" stroke="#ff2020" stroke-width="0.25" text-anchor="middle">Li<tspan font-size="5.2" dy="1.6">2</tspan><tspan dy="-1.6">S</tspan></text>
<text x="492.70" y="23.50" font-size="8" font-weight="normal" fill="#ff2020" text-anchor="middle" stroke="#ff2020" stroke-width="0.25">(220)</text>
<text transform="translate(399,132.4) rotate(-90)" font-size="7.8" fill="#222" text-anchor="middle">Intensity (a.u.)</text>
<text transform="translate(543,85.6) rotate(-90)" font-size="7.8" fill="#222" text-anchor="middle">Charge</text>
<text transform="translate(542.5,180) rotate(-90)" font-size="7.8" fill="#222" text-anchor="middle">Discharge</text>
<rect x="527.1" y="41" width="2.9" height="85.5" fill="url(#chg)"/>
<polygon points="528.55,33.6 532,43.2 528.55,41.8 525.1,43.2" fill="#2a10d0"/>
<rect x="527.1" y="126.3" width="2.9" height="5.2" fill="#111"/>
<rect x="527.1" y="143" width="2.9" height="94" fill="url(#dis)"/>
<polygon points="528.55,135.3 532,144.9 528.55,143.5 525.1,144.9" fill="#ff0000"/>
<rect x="527.1" y="236.6" width="2.9" height="5.2" fill="#111"/>
<text x="3.5" y="144.8" font-size="16" font-weight="bold" fill="#000" textLength="6.9" lengthAdjust="spacingAndGlyphs">c</text>
<rect x="21" y="142.4" width="84" height="49.6" fill="url(#yel)"/>
<rect x="18" y="142.4" width="3.2" height="49.6" fill="url(#elec)"/>
<line x1="42.77" y1="149.93" x2="46.71" y2="150.62" stroke="#1e8fe4" stroke-width="1.6" stroke-linecap="round"/>
<line x1="40.57" y1="151.47" x2="39.88" y2="155.41" stroke="#1e8fe4" stroke-width="1.6" stroke-linecap="round"/>
<line x1="39.03" y1="149.27" x2="35.09" y2="148.58" stroke="#1e8fe4" stroke-width="1.6" stroke-linecap="round"/>
<line x1="41.23" y1="147.73" x2="41.92" y2="143.79" stroke="#1e8fe4" stroke-width="1.6" stroke-linecap="round"/>
<circle cx="40.90" cy="149.60" r="0.65" fill="#f07050" />
<line x1="56.04" y1="154.64" x2="58.87" y2="157.47" stroke="#1e8fe4" stroke-width="1.6" stroke-linecap="round"/>
<line x1="53.36" y1="154.64" x2="50.53" y2="157.47" stroke="#1e8fe4" stroke-width="1.6" stroke-linecap="round"/>
<line x1="53.36" y1="151.96" x2="50.53" y2="149.13" stroke="#1e8fe4" stroke-width="1.6" stroke-linecap="round"/>
<line x1="56.04" y1="151.96" x2="58.87" y2="149.13" stroke="#1e8fe4" stroke-width="1.6" stroke-linecap="round"/>
<circle cx="54.70" cy="153.30" r="0.65" fill="#f07050" />
<line x1="68.99" y1="149.07" x2="72.98" y2="149.41" stroke="#1e8fe4" stroke-width="1.6" stroke-linecap="round"/>
<line x1="66.93" y1="150.79" x2="66.59" y2="154.78" stroke="#1e8fe4" stroke-width="1.6" stroke-linecap="round"/>
<line x1="65.21" y1="148.73" x2="61.22" y2="148.39" stroke="#1e8fe4" stroke-width="1.6" stroke-linecap="round"/>
<line x1="67.27" y1="147.01" x2="67.61" y2="143.02" stroke="#1e8fe4" stroke-width="1.6" stroke-linecap="round"/>
<circle cx="67.10" cy="148.90" r="0.65" fill="#f07050" />
<line x1="78.29" y1="145.45" x2="82.04" y2="146.82" stroke="#1e8fe4" stroke-width="1.6" stroke-linecap="round"/>
<line x1="75.85" y1="146.59" x2="74.48" y2="150.34" stroke="#1e8fe4" stroke-width="1.6" stroke-linecap="round"/>
<line x1="74.71" y1="144.15" x2="70.96" y2="142.78" stroke="#1e8fe4" stroke-width="1.6" stroke-linecap="round"/>
<line x1="77.15" y1="143.01" x2="78.52" y2="139.26" stroke="#1e8fe4" stroke-width="1.6" stroke-linecap="round"/>
<circle cx="76.50" cy="144.80" r="0.65" fill="#f07050" />
<line x1="77.26" y1="158.82" x2="80.32" y2="161.39" stroke="#1e8fe4" stroke-width="1.6" stroke-linecap="round"/>
<line x1="74.58" y1="159.06" x2="72.01" y2="162.12" stroke="#1e8fe4" stroke-width="1.6" stroke-linecap="round"/>
<line x1="74.34" y1="156.38" x2="71.28" y2="153.81" stroke="#1e8fe4" stroke-width="1.6" stroke-linecap="round"/>
<line x1="77.02" y1="156.14" x2="79.59" y2="153.08" stroke="#1e8fe4" stroke-width="1.6" stroke-linecap="round"/>
<circle cx="75.80" cy="157.60" r="0.65" fill="#f07050" />
<line x1="65.40" y1="166.40" x2="69.40" y2="166.40" stroke="#1e8fe4" stroke-width="1.6" stroke-linecap="round"/>
<line x1="63.50" y1="168.30" x2="63.50" y2="172.30" stroke="#1e8fe4" stroke-width="1.6" stroke-linecap="round"/>
<line x1="61.60" y1="166.40" x2="57.60" y2="166.40" stroke="#1e8fe4" stroke-width="1.6" stroke-linecap="round"/>
<line x1="63.50" y1="164.50" x2="63.50" y2="160.50" stroke="#1e8fe4" stroke-width="1.6" stroke-linecap="round"/>
<circle cx="63.50" cy="166.40" r="0.65" fill="#f07050" />
<line x1="55.19" y1="173.07" x2="59.18" y2="173.41" stroke="#1e8fe4" stroke-width="1.6" stroke-linecap="round"/>
<line x1="53.13" y1="174.79" x2="52.79" y2="178.78" stroke="#1e8fe4" stroke-width="1.6" stroke-linecap="round"/>
<line x1="51.41" y1="172.73" x2="47.42" y2="172.39" stroke="#1e8fe4" stroke-width="1.6" stroke-linecap="round"/>
<line x1="53.47" y1="171.01" x2="53.81" y2="167.02" stroke="#1e8fe4" stroke-width="1.6" stroke-linecap="round"/>
<circle cx="53.30" cy="172.90" r="0.65" fill="#f07050" />
<line x1="61.84" y1="181.34" x2="64.67" y2="184.17" stroke="#1e8fe4" stroke-width="1.6" stroke-linecap="round"/>
<line x1="59.16" y1="181.34" x2="56.33" y2="184.17" stroke="#1e8fe4" stroke-width="1.6" stroke-linecap="round"/>
<line x1="59.16" y1="178.66" x2="56.33" y2="175.83" stroke="#1e8fe4" stroke-width="1.6" stroke-linecap="round"/>
<line x1="61.84" y1="178.66" x2="64.67" y2="175.83" stroke="#1e8fe4" stroke-width="1.6" stroke-linecap="round"/>
<circle cx="60.50" cy="180.00" r="0.65" fill="#f07050" />
<line x1="76.56" y1="178.52" x2="79.62" y2="181.09" stroke="#1e8fe4" stroke-width="1.6" stroke-linecap="round"/>
<line x1="73.88" y1="178.76" x2="71.31" y2="181.82" stroke="#1e8fe4" stroke-width="1.6" stroke-linecap="round"/>
<line x1="73.64" y1="176.08" x2="70.58" y2="173.51" stroke="#1e8fe4" stroke-width="1.6" stroke-linecap="round"/>
<line x1="76.32" y1="175.84" x2="78.89" y2="172.78" stroke="#1e8fe4" stroke-width="1.6" stroke-linecap="round"/>
<circle cx="75.10" cy="177.30" r="0.65" fill="#f07050" />
<line x1="88.26" y1="168.19" x2="91.53" y2="170.48" stroke="#1e8fe4" stroke-width="1.6" stroke-linecap="round"/>
<line x1="85.61" y1="168.66" x2="83.32" y2="171.93" stroke="#1e8fe4" stroke-width="1.6" stroke-linecap="round"/>
<line x1="85.14" y1="166.01" x2="81.87" y2="163.72" stroke="#1e8fe4" stroke-width="1.6" stroke-linecap="round"/>
<line x1="87.79" y1="165.54" x2="90.08" y2="162.27" stroke="#1e8fe4" stroke-width="1.6" stroke-linecap="round"/>
<circle cx="86.70" cy="167.10" r="0.65" fill="#f07050" />
<line x1="89.66" y1="152.32" x2="92.72" y2="154.89" stroke="#1e8fe4" stroke-width="1.6" stroke-linecap="round"/>
<line x1="86.98" y1="152.56" x2="84.41" y2="155.62" stroke="#1e8fe4" stroke-width="1.6" stroke-linecap="round"/>
<line x1="86.74" y1="149.88" x2="83.68" y2="147.31" stroke="#1e8fe4" stroke-width="1.6" stroke-linecap="round"/>
<line x1="89.42" y1="149.64" x2="91.99" y2="146.58" stroke="#1e8fe4" stroke-width="1.6" stroke-linecap="round"/>
<circle cx="88.20" cy="151.10" r="0.65" fill="#f07050" />
<line x1="103.19" y1="156.37" x2="107.18" y2="156.71" stroke="#1e8fe4" stroke-width="1.6" stroke-linecap="round"/>
<line x1="101.13" y1="158.09" x2="100.79" y2="162.08" stroke="#1e8fe4" stroke-width="1.6" stroke-linecap="round"/>
<line x1="99.41" y1="156.03" x2="95.42" y2="155.69" stroke="#1e8fe4" stroke-width="1.6" stroke-linecap="round"/>
<line x1="101.47" y1="154.31" x2="101.81" y2="150.32" stroke="#1e8fe4" stroke-width="1.6" stroke-linecap="round"/>
<circle cx="101.30" cy="156.20" r="0.65" fill="#f07050" />
<line x1="102.04" y1="168.99" x2="105.90" y2="170.03" stroke="#1e8fe4" stroke-width="1.6" stroke-linecap="round"/>
<line x1="99.71" y1="170.34" x2="98.67" y2="174.20" stroke="#1e8fe4" stroke-width="1.6" stroke-linecap="round"/>
<line x1="98.36" y1="168.01" x2="94.50" y2="166.97" stroke="#1e8fe4" stroke-width="1.6" stroke-linecap="round"/>
<line x1="100.69" y1="166.66" x2="101.73" y2="162.80" stroke="#1e8fe4" stroke-width="1.6" stroke-linecap="round"/>
<circle cx="100.20" cy="168.50" r="0.65" fill="#f07050" />
<line x1="93.00" y1="180.20" x2="97.00" y2="180.20" stroke="#1e8fe4" stroke-width="1.6" stroke-linecap="round"/>
<line x1="91.10" y1="182.10" x2="91.10" y2="186.10" stroke="#1e8fe4" stroke-width="1.6" stroke-linecap="round"/>
<line x1="89.20" y1="180.20" x2="85.20" y2="180.20" stroke="#1e8fe4" stroke-width="1.6" stroke-linecap="round"/>
<line x1="91.10" y1="178.30" x2="91.10" y2="174.30" stroke="#1e8fe4" stroke-width="1.6" stroke-linecap="round"/>
<circle cx="91.10" cy="180.20" r="0.65" fill="#f07050" />
<line x1="49.15" y1="188.45" x2="52.61" y2="190.45" stroke="#1e8fe4" stroke-width="1.6" stroke-linecap="round"/>
<line x1="46.55" y1="189.15" x2="44.55" y2="192.61" stroke="#1e8fe4" stroke-width="1.6" stroke-linecap="round"/>
<line x1="45.85" y1="186.55" x2="42.39" y2="184.55" stroke="#1e8fe4" stroke-width="1.6" stroke-linecap="round"/>
<line x1="48.45" y1="185.85" x2="50.45" y2="182.39" stroke="#1e8fe4" stroke-width="1.6" stroke-linecap="round"/>
<circle cx="47.50" cy="187.50" r="0.65" fill="#f07050" />
<line x1="65.87" y1="188.33" x2="69.81" y2="189.02" stroke="#1e8fe4" stroke-width="1.6" stroke-linecap="round"/>
<line x1="63.67" y1="189.87" x2="62.98" y2="193.81" stroke="#1e8fe4" stroke-width="1.6" stroke-linecap="round"/>
<line x1="62.13" y1="187.67" x2="58.19" y2="186.98" stroke="#1e8fe4" stroke-width="1.6" stroke-linecap="round"/>
<line x1="64.33" y1="186.13" x2="65.02" y2="182.19" stroke="#1e8fe4" stroke-width="1.6" stroke-linecap="round"/>
<circle cx="64.00" cy="188.00" r="0.65" fill="#f07050" />
<line x1="80.65" y1="188.45" x2="84.11" y2="190.45" stroke="#1e8fe4" stroke-width="1.6" stroke-linecap="round"/>
<line x1="78.05" y1="189.15" x2="76.05" y2="192.61" stroke="#1e8fe4" stroke-width="1.6" stroke-linecap="round"/>
<line x1="77.35" y1="186.55" x2="73.89" y2="184.55" stroke="#1e8fe4" stroke-width="1.6" stroke-linecap="round"/>
<line x1="79.95" y1="185.85" x2="81.95" y2="182.39" stroke="#1e8fe4" stroke-width="1.6" stroke-linecap="round"/>
<circle cx="79.00" cy="187.50" r="0.65" fill="#f07050" />
<line x1="45.79" y1="162.65" x2="49.54" y2="164.02" stroke="#1e8fe4" stroke-width="1.6" stroke-linecap="round"/>
<line x1="43.35" y1="163.79" x2="41.98" y2="167.54" stroke="#1e8fe4" stroke-width="1.6" stroke-linecap="round"/>
<line x1="42.21" y1="161.35" x2="38.46" y2="159.98" stroke="#1e8fe4" stroke-width="1.6" stroke-linecap="round"/>
<line x1="44.65" y1="160.21" x2="46.02" y2="156.46" stroke="#1e8fe4" stroke-width="1.6" stroke-linecap="round"/>
<circle cx="44.00" cy="162.00" r="0.65" fill="#f07050" />
<polyline points="42.40,151.80 43.31,153.19 45.01,151.23 45.66,153.74 47.36,151.78 48.01,154.29 49.71,152.33 50.36,154.84 51.80,154.00" stroke="#f0a010" stroke-width="0.85" fill="none" stroke-linejoin="round" />
<polyline points="91.10,150.40 91.82,151.85 93.64,150.03 94.00,152.58 95.81,150.76 96.17,153.30 97.99,151.48 98.35,154.03 99.80,153.30" stroke="#f0a010" stroke-width="0.85" fill="none" stroke-linejoin="round" />
<polyline points="78.00,176.50 79.63,176.68 79.11,174.15 81.45,175.23 80.93,172.70 83.28,173.78 82.76,171.25 85.10,172.33 85.30,170.70" stroke="#f0a010" stroke-width="0.85" fill="none" stroke-linejoin="round" />
<polyline points="49.60,175.50 48.33,176.57 50.49,178.00 48.08,178.94 50.24,180.37 47.83,181.32 49.99,182.75 47.58,183.69 48.60,185.00" stroke="#f0a010" stroke-width="0.85" fill="none" stroke-linejoin="round" />
<circle cx="25.9" cy="151.7" r="6.2" fill="url(#gK)"/>
<line x1="23.70" y1="151.40" x2="25.00" y2="150.80" stroke="#5a7a5a" stroke-width="0.6" />
<line x1="26.10" y1="151.10" x2="27.50" y2="150.40" stroke="#5a7a5a" stroke-width="0.6" />
<circle cx="25.9" cy="162.6" r="6.2" fill="url(#gK)"/>
<line x1="23.70" y1="162.30" x2="25.00" y2="161.70" stroke="#5a7a5a" stroke-width="0.6" />
<line x1="26.10" y1="162.00" x2="27.50" y2="161.30" stroke="#5a7a5a" stroke-width="0.6" />
<circle cx="25.9" cy="174.2" r="6.2" fill="url(#gK)"/>
<line x1="23.70" y1="173.90" x2="25.00" y2="173.30" stroke="#5a7a5a" stroke-width="0.6" />
<line x1="26.10" y1="173.60" x2="27.50" y2="172.90" stroke="#5a7a5a" stroke-width="0.6" />
<circle cx="25.9" cy="185.8" r="6.2" fill="url(#gK)"/>
<line x1="23.70" y1="185.50" x2="25.00" y2="184.90" stroke="#5a7a5a" stroke-width="0.6" />
<line x1="26.10" y1="185.20" x2="27.50" y2="184.50" stroke="#5a7a5a" stroke-width="0.6" />
<circle cx="37.5" cy="155.8" r="6.2" fill="url(#gK)"/>
<line x1="35.30" y1="155.50" x2="36.60" y2="154.90" stroke="#5a7a5a" stroke-width="0.6" />
<line x1="37.70" y1="155.20" x2="39.10" y2="154.50" stroke="#5a7a5a" stroke-width="0.6" />
<circle cx="37.5" cy="167.8" r="6.2" fill="url(#gK)"/>
<line x1="35.30" y1="167.50" x2="36.60" y2="166.90" stroke="#5a7a5a" stroke-width="0.6" />
<line x1="37.70" y1="167.20" x2="39.10" y2="166.50" stroke="#5a7a5a" stroke-width="0.6" />
<circle cx="37.5" cy="180.3" r="6.2" fill="url(#gK)"/>
<line x1="35.30" y1="180.00" x2="36.60" y2="179.40" stroke="#5a7a5a" stroke-width="0.6" />
<line x1="37.70" y1="179.70" x2="39.10" y2="179.00" stroke="#5a7a5a" stroke-width="0.6" />
<path d="M51.8,177.3 Q54.5,184.2 60,185 Q67,186 72.8,180.9" fill="none" stroke="#3a2410" stroke-width="1.8"/>
<polygon points="75.2,178.6 70.8,180.2 73.6,183" fill="#3a2410"/>
<path d="M97.6,158.4 Q100.8,163 99.1,167.1 Q97,173 91,176.8" fill="none" stroke="#3a2410" stroke-width="1.8"/>
<polygon points="88.2,178 92,175 92.3,179.2" fill="#3a2410"/>
<text x="40" y="198" font-size="6.8" font-weight="bold" fill="#ee3c70" stroke="#ee3c70" stroke-width="0.2" textLength="52.4" lengthAdjust="spacingAndGlyphs">Global Li<tspan font-size="4" dy="-2">+</tspan><tspan dy="2"> migration</tspan></text>
<line x1="27" y1="202.6" x2="107" y2="202.6" stroke="#b82440" stroke-width="2.2"/>
<polygon points="23.6,202.6 29,199.8 29,205.4" fill="#b82440"/>
<rect x="18" y="208" width="3.2" height="50" fill="url(#elec)"/>
<circle cx="26.60" cy="215.80" r="7.6" fill="#dcea2c" />
<circle cx="26.60" cy="228.20" r="7.6" fill="#dcea2c" />
<circle cx="26.60" cy="239.60" r="7.6" fill="#dcea2c" />
<circle cx="26.60" cy="251.40" r="7.6" fill="#dcea2c" />
<circle cx="37.40" cy="220.50" r="7.6" fill="#dcea2c" />
<circle cx="37.40" cy="232.80" r="7.6" fill="#dcea2c" />
<circle cx="37.40" cy="246.00" r="7.6" fill="#dcea2c" />
<rect x="21" y="209" width="8" height="49" fill="#dcea2c"/>
<line x1="38.20" y1="204.60" x2="38.20" y2="209.10" stroke="#3f6672" stroke-width="1.45" stroke-linecap="round"/>
<line x1="37.30" y1="202.87" x2="33.61" y2="200.29" stroke="#3f6672" stroke-width="1.45" stroke-linecap="round"/>
<ellipse cx="41.20" cy="201.90" rx="2.30" ry="1.45" transform="rotate(332.0 41.20 201.90)" fill="none" stroke="#f35a1c" stroke-width="1.20"/>
<circle cx="38.20" cy="203.50" r="0.6" fill="#f0a0c0" />
<line x1="51.35" y1="216.95" x2="47.45" y2="219.20" stroke="#3f6672" stroke-width="1.45" stroke-linecap="round"/>
<line x1="52.40" y1="215.30" x2="52.79" y2="210.82" stroke="#3f6672" stroke-width="1.45" stroke-linecap="round"/>
<ellipse cx="55.18" cy="218.20" rx="2.30" ry="1.45" transform="rotate(392.0 55.18 218.20)" fill="none" stroke="#f35a1c" stroke-width="1.20"/>
<circle cx="52.30" cy="216.40" r="0.6" fill="#f0a0c0" />
<line x1="64.75" y1="214.65" x2="60.85" y2="216.90" stroke="#3f6672" stroke-width="1.45" stroke-linecap="round"/>
<line x1="65.80" y1="213.00" x2="66.19" y2="208.52" stroke="#3f6672" stroke-width="1.45" stroke-linecap="round"/>
<ellipse cx="68.58" cy="215.90" rx="2.30" ry="1.45" transform="rotate(392.0 68.58 215.90)" fill="none" stroke="#f35a1c" stroke-width="1.20"/>
<circle cx="65.70" cy="214.10" r="0.6" fill="#f0a0c0" />
<line x1="79.65" y1="217.65" x2="75.75" y2="219.90" stroke="#3f6672" stroke-width="1.45" stroke-linecap="round"/>
<line x1="80.70" y1="216.00" x2="81.09" y2="211.52" stroke="#3f6672" stroke-width="1.45" stroke-linecap="round"/>
<ellipse cx="83.48" cy="218.90" rx="2.30" ry="1.45" transform="rotate(392.0 83.48 218.90)" fill="none" stroke="#f35a1c" stroke-width="1.20"/>
<circle cx="80.60" cy="217.10" r="0.6" fill="#f0a0c0" />
<line x1="92.78" y1="223.19" x2="97.21" y2="223.97" stroke="#3f6672" stroke-width="1.45" stroke-linecap="round"/>
<line x1="90.92" y1="223.78" x2="87.74" y2="226.96" stroke="#3f6672" stroke-width="1.45" stroke-linecap="round"/>
<ellipse cx="90.65" cy="219.77" rx="2.30" ry="1.45" transform="rotate(252.0 90.65 219.77)" fill="none" stroke="#f35a1c" stroke-width="1.20"/>
<circle cx="91.70" cy="223.00" r="0.6" fill="#f0a0c0" />
<line x1="56.02" y1="226.02" x2="52.84" y2="222.84" stroke="#3f6672" stroke-width="1.45" stroke-linecap="round"/>
<line x1="57.88" y1="226.61" x2="62.31" y2="225.83" stroke="#3f6672" stroke-width="1.45" stroke-linecap="round"/>
<ellipse cx="55.81" cy="230.05" rx="2.30" ry="1.45" transform="rotate(467.0 55.81 230.05)" fill="none" stroke="#f35a1c" stroke-width="1.20"/>
<circle cx="56.80" cy="226.80" r="0.6" fill="#f0a0c0" />
<line x1="71.05" y1="228.45" x2="74.95" y2="226.20" stroke="#3f6672" stroke-width="1.45" stroke-linecap="round"/>
<line x1="70.00" y1="230.10" x2="69.61" y2="234.58" stroke="#3f6672" stroke-width="1.45" stroke-linecap="round"/>
<ellipse cx="67.22" cy="227.20" rx="2.30" ry="1.45" transform="rotate(572.0 67.22 227.20)" fill="none" stroke="#f35a1c" stroke-width="1.20"/>
<circle cx="70.10" cy="229.00" r="0.6" fill="#f0a0c0" />
<line x1="81.05" y1="235.55" x2="77.15" y2="237.80" stroke="#3f6672" stroke-width="1.45" stroke-linecap="round"/>
<line x1="82.10" y1="233.90" x2="82.49" y2="229.42" stroke="#3f6672" stroke-width="1.45" stroke-linecap="round"/>
<ellipse cx="84.88" cy="236.80" rx="2.30" ry="1.45" transform="rotate(392.0 84.88 236.80)" fill="none" stroke="#f35a1c" stroke-width="1.20"/>
<circle cx="82.00" cy="235.00" r="0.6" fill="#f0a0c0" />
<line x1="96.35" y1="231.45" x2="100.25" y2="229.20" stroke="#3f6672" stroke-width="1.45" stroke-linecap="round"/>
<line x1="95.30" y1="233.10" x2="94.91" y2="237.58" stroke="#3f6672" stroke-width="1.45" stroke-linecap="round"/>
<ellipse cx="92.52" cy="230.20" rx="2.30" ry="1.45" transform="rotate(572.0 92.52 230.20)" fill="none" stroke="#f35a1c" stroke-width="1.20"/>
<circle cx="95.40" cy="232.00" r="0.6" fill="#f0a0c0" />
<line x1="51.90" y1="235.70" x2="56.40" y2="235.70" stroke="#3f6672" stroke-width="1.45" stroke-linecap="round"/>
<line x1="50.17" y1="236.60" x2="47.59" y2="240.29" stroke="#3f6672" stroke-width="1.45" stroke-linecap="round"/>
<ellipse cx="49.20" cy="232.70" rx="2.30" ry="1.45" transform="rotate(242.0 49.20 232.70)" fill="none" stroke="#f35a1c" stroke-width="1.20"/>
<circle cx="50.80" cy="235.70" r="0.6" fill="#f0a0c0" />
<line x1="57.08" y1="246.29" x2="61.51" y2="247.07" stroke="#3f6672" stroke-width="1.45" stroke-linecap="round"/>
<line x1="55.22" y1="246.88" x2="52.04" y2="250.06" stroke="#3f6672" stroke-width="1.45" stroke-linecap="round"/>
<ellipse cx="54.95" cy="242.87" rx="2.30" ry="1.45" transform="rotate(252.0 54.95 242.87)" fill="none" stroke="#f35a1c" stroke-width="1.20"/>
<circle cx="56.00" cy="246.10" r="0.6" fill="#f0a0c0" />
<line x1="66.42" y1="240.82" x2="63.24" y2="237.64" stroke="#3f6672" stroke-width="1.45" stroke-linecap="round"/>
<line x1="68.28" y1="241.41" x2="72.71" y2="240.63" stroke="#3f6672" stroke-width="1.45" stroke-linecap="round"/>
<ellipse cx="66.21" cy="244.85" rx="2.30" ry="1.45" transform="rotate(467.0 66.21 244.85)" fill="none" stroke="#f35a1c" stroke-width="1.20"/>
<circle cx="67.20" cy="241.60" r="0.6" fill="#f0a0c0" />
<line x1="81.68" y1="246.29" x2="86.11" y2="247.07" stroke="#3f6672" stroke-width="1.45" stroke-linecap="round"/>
<line x1="79.82" y1="246.88" x2="76.64" y2="250.06" stroke="#3f6672" stroke-width="1.45" stroke-linecap="round"/>
<ellipse cx="79.55" cy="242.87" rx="2.30" ry="1.45" transform="rotate(252.0 79.55 242.87)" fill="none" stroke="#f35a1c" stroke-width="1.20"/>
<circle cx="80.60" cy="246.10" r="0.6" fill="#f0a0c0" />
<line x1="90.22" y1="242.32" x2="87.04" y2="239.14" stroke="#3f6672" stroke-width="1.45" stroke-linecap="round"/>
<line x1="92.08" y1="242.91" x2="96.51" y2="242.13" stroke="#3f6672" stroke-width="1.45" stroke-linecap="round"/>
<ellipse cx="90.01" cy="246.35" rx="2.30" ry="1.45" transform="rotate(467.0 90.01 246.35)" fill="none" stroke="#f35a1c" stroke-width="1.20"/>
<circle cx="91.00" cy="243.10" r="0.6" fill="#f0a0c0" />
<line x1="45.62" y1="254.22" x2="42.44" y2="251.04" stroke="#3f6672" stroke-width="1.45" stroke-linecap="round"/>
<line x1="47.48" y1="254.81" x2="51.91" y2="254.03" stroke="#3f6672" stroke-width="1.45" stroke-linecap="round"/>
<ellipse cx="45.41" cy="258.25" rx="2.30" ry="1.45" transform="rotate(467.0 45.41 258.25)" fill="none" stroke="#f35a1c" stroke-width="1.20"/>
<circle cx="46.40" cy="255.00" r="0.6" fill="#f0a0c0" />
<line x1="101.00" y1="223.10" x2="101.00" y2="227.60" stroke="#3f6672" stroke-width="1.45" stroke-linecap="round"/>
<line x1="100.10" y1="221.37" x2="96.41" y2="218.79" stroke="#3f6672" stroke-width="1.45" stroke-linecap="round"/>
<ellipse cx="104.00" cy="220.40" rx="2.30" ry="1.45" transform="rotate(332.0 104.00 220.40)" fill="none" stroke="#f35a1c" stroke-width="1.20"/>
<circle cx="101.00" cy="222.00" r="0.6" fill="#f0a0c0" />
<line x1="70.55" y1="254.95" x2="72.80" y2="258.85" stroke="#3f6672" stroke-width="1.45" stroke-linecap="round"/>
<line x1="68.90" y1="253.90" x2="64.42" y2="253.51" stroke="#3f6672" stroke-width="1.45" stroke-linecap="round"/>
<ellipse cx="71.80" cy="251.12" rx="2.30" ry="1.45" transform="rotate(302.0 71.80 251.12)" fill="none" stroke="#f35a1c" stroke-width="1.20"/>
<circle cx="70.00" cy="254.00" r="0.6" fill="#f0a0c0" />
<polyline points="40.50,210.40 40.94,211.91 42.94,210.35 42.87,212.89 44.87,211.32 44.79,213.86 46.79,212.30 46.72,214.84 48.20,214.30" stroke="#f0a010" stroke-width="0.85" fill="none" stroke-linejoin="round" />
<polyline points="45.10,241.30 44.46,242.59 46.90,242.34 45.23,244.14 47.68,243.89 46.01,245.69 48.45,245.44 46.78,247.24 48.20,247.50" stroke="#f0a010" stroke-width="0.85" fill="none" stroke-linejoin="round" />
<circle cx="26.6" cy="215.8" r="6.2" fill="url(#gK)"/>
<line x1="24.40" y1="215.50" x2="25.70" y2="214.90" stroke="#5a7a5a" stroke-width="0.6" />
<line x1="26.80" y1="215.20" x2="28.20" y2="214.50" stroke="#5a7a5a" stroke-width="0.6" />
<circle cx="26.6" cy="228.2" r="6.2" fill="url(#gK)"/>
<line x1="24.40" y1="227.90" x2="25.70" y2="227.30" stroke="#5a7a5a" stroke-width="0.6" />
<line x1="26.80" y1="227.60" x2="28.20" y2="226.90" stroke="#5a7a5a" stroke-width="0.6" />
<circle cx="26.6" cy="239.6" r="6.2" fill="url(#gK)"/>
<line x1="24.40" y1="239.30" x2="25.70" y2="238.70" stroke="#5a7a5a" stroke-width="0.6" />
<line x1="26.80" y1="239.00" x2="28.20" y2="238.30" stroke="#5a7a5a" stroke-width="0.6" />
<circle cx="26.6" cy="251.4" r="6.2" fill="url(#gK)"/>
<line x1="24.40" y1="251.10" x2="25.70" y2="250.50" stroke="#5a7a5a" stroke-width="0.6" />
<line x1="26.80" y1="250.80" x2="28.20" y2="250.10" stroke="#5a7a5a" stroke-width="0.6" />
<circle cx="37.4" cy="220.5" r="6.2" fill="url(#gK)"/>
<line x1="35.20" y1="220.20" x2="36.50" y2="219.60" stroke="#5a7a5a" stroke-width="0.6" />
<line x1="37.60" y1="219.90" x2="39.00" y2="219.20" stroke="#5a7a5a" stroke-width="0.6" />
<circle cx="37.4" cy="232.8" r="6.2" fill="url(#gK)"/>
<line x1="35.20" y1="232.50" x2="36.50" y2="231.90" stroke="#5a7a5a" stroke-width="0.6" />
<line x1="37.60" y1="232.20" x2="39.00" y2="231.50" stroke="#5a7a5a" stroke-width="0.6" />
<circle cx="37.4" cy="246" r="6.2" fill="url(#gK)"/>
<line x1="35.20" y1="245.70" x2="36.50" y2="245.10" stroke="#5a7a5a" stroke-width="0.6" />
<line x1="37.60" y1="245.40" x2="39.00" y2="244.70" stroke="#5a7a5a" stroke-width="0.6" />
<line x1="115.00" y1="147.60" x2="120.80" y2="147.60" stroke="#1e8fe4" stroke-width="1.6" />
<text x="123.6" y="149.6" font-size="6.6" font-weight="bold" fill="#1f3050" textLength="27" lengthAdjust="spacingAndGlyphs">Free solvent</text>
<line x1="118.68" y1="158.36" x2="121.59" y2="160.80" stroke="#1e8fe4" stroke-width="1.52" stroke-linecap="round"/>
<line x1="116.14" y1="158.58" x2="113.70" y2="161.49" stroke="#1e8fe4" stroke-width="1.52" stroke-linecap="round"/>
<line x1="115.92" y1="156.04" x2="113.01" y2="153.60" stroke="#1e8fe4" stroke-width="1.52" stroke-linecap="round"/>
<line x1="118.46" y1="155.82" x2="120.90" y2="152.91" stroke="#1e8fe4" stroke-width="1.52" stroke-linecap="round"/>
<circle cx="117.30" cy="157.20" r="0.65" fill="#f07050" />
<text x="123.6" y="159.4" font-size="6.6" font-weight="bold" fill="#1f3050" textLength="22.5" lengthAdjust="spacingAndGlyphs">Li<tspan font-size="3.8" dy="-2">+</tspan><tspan dy="2">(DME)</tspan><tspan font-size="3.8" dy="1.2">x</tspan></text>
<text x="120.8" y="171" font-size="7.6" font-weight="bold" fill="#1e8fe4" stroke="#1e8fe4" stroke-width="0.3" textLength="37.5" lengthAdjust="spacingAndGlyphs">Li<tspan font-size="4.4" dy="1.5">2</tspan><tspan dy="-1.5">S</tspan><tspan font-size="4.4" dy="1.5">x</tspan><tspan dy="-1.5"> solvation</tspan></text>
<line x1="125.20" y1="180.30" x2="128.80" y2="180.30" stroke="#1f3050" stroke-width="0.8" />
<polyline points="127.40,178.90 129.00,180.30 127.40,181.70" fill="none" stroke="#1f3050" stroke-width="0.8"/>
<line x1="125.20" y1="187.00" x2="128.80" y2="187.00" stroke="#1f3050" stroke-width="0.8" />
<polyline points="127.40,185.60 129.00,187.00 127.40,188.40" fill="none" stroke="#1f3050" stroke-width="0.8"/>
<text x="130.6" y="182.2" font-size="6.4" font-weight="bold" fill="#1f3050" textLength="19.5" lengthAdjust="spacingAndGlyphs">diffusion</text>
<text x="130.6" y="188.9" font-size="6.4" font-weight="bold" fill="#1f3050" textLength="43.2" lengthAdjust="spacingAndGlyphs">disproportionation</text>
<line x1="117.82" y1="215.54" x2="121.99" y2="217.76" stroke="#3f6672" stroke-width="1.5225" stroke-linecap="round"/>
<line x1="115.77" y1="215.52" x2="111.56" y2="217.67" stroke="#3f6672" stroke-width="1.5225" stroke-linecap="round"/>
<ellipse cx="116.80" cy="211.43" rx="2.42" ry="1.52" transform="rotate(270.0 116.80 211.43)" fill="none" stroke="#f35a1c" stroke-width="1.26"/>
<circle cx="116.80" cy="215.00" r="0.6" fill="#f0a0c0" />
<text x="124.6" y="216.6" font-size="6.6" font-weight="bold" fill="#1f3050" textLength="31.4" lengthAdjust="spacingAndGlyphs">Li<tspan font-size="3.8" dy="-2">+</tspan><tspan dy="2">(ACN)</tspan><tspan font-size="3.8" dy="1.2">2</tspan><tspan dy="-1.2">TFSI</tspan></text>
<text x="110.3" y="232.8" font-size="7.6" font-weight="bold" fill="#f25a22" stroke="#f25a22" stroke-width="0.3" textLength="46.7" lengthAdjust="spacingAndGlyphs">No Li<tspan font-size="4.4" dy="1.5">2</tspan><tspan dy="-1.5">S</tspan><tspan font-size="4.4" dy="1.5">x</tspan><tspan dy="-1.5"> solvation</tspan></text>
<text x="199.30" y="143.60" font-size="16.5" font-weight="bold" fill="#000" text-anchor="start" >d</text>
<polyline points="226.50,150.20 256.23,244.00 296.46,239.31 303.46,239.31 324.44,244.00" stroke="#f03030" stroke-width="0.8" fill="none" stroke-linejoin="round" />
<polyline points="226.50,244.00 256.23,244.00" stroke="#f03030" stroke-width="0.8" fill="none" stroke-linejoin="round" />
<path d="M226.50,244.00 L256.23,150.20 L265.1,173.9 L275.2,197.8 Q281,208 285.2,215.4 Q290,224 295.3,230.5 Q301,236 307.9,239.3 Q315,242.5 323,244 L343.68,244.00" fill="none" stroke="#3030e8" stroke-width="0.8"/>
<line x1="256.23" y1="244.00" x2="343.90" y2="150.20" stroke="#a83030" stroke-width="0.8" />
<path d="M256.23,244.00 Q263,233 270.1,226.8 Q276,223 282.7,223 L300.3,222.5 L323,226 L343.5,244" fill="none" stroke="#ee30ee" stroke-width="0.9"/>
<path d="M256,244 Q266,242.5 275.2,241.9 Q288,239.6 297.8,239.3 Q308,239.6 315.4,241.9 L323,244" fill="none" stroke="#f03030" stroke-width="0.8"/>
<path d="M225.7,145.2 L226.1,165 Q226.5,172.6 230,173.6 Q233,173.9 240,173.8 L252.5,173.8 Q254.6,174 255,178 L255.6,211 L256.4,211 Q256.6,195 260,185 Q263,178.5 270,175 Q280,172.4 294,172 L310,172.3 L319.7,173 Q322,175 324,178.4 Q327,181 329.5,183.8 Q334,188.5 337,193.5 Q341,201 342.2,209 Q343.3,220 343.4,230 L343.5,248.9" fill="none" stroke="#000" stroke-width="1.65" stroke-linejoin="round"/>
<line x1="219.70" y1="145.20" x2="355.60" y2="145.20" stroke="#222" stroke-width="1" />
<line x1="219.70" y1="145.20" x2="219.70" y2="248.90" stroke="#222" stroke-width="1" />
<line x1="219.70" y1="248.90" x2="355.60" y2="248.90" stroke="#222" stroke-width="1" />
<line x1="355.60" y1="145.20" x2="355.60" y2="248.90" stroke="#2828f0" stroke-width="1.1" />
<line x1="226.50" y1="248.90" x2="226.50" y2="251.10" stroke="#222" stroke-width="0.8" />
<line x1="226.50" y1="145.20" x2="226.50" y2="147.20" stroke="#222" stroke-width="0.8" />
<text x="226.50" y="256.90" font-size="5.9" font-weight="bold" fill="#222" text-anchor="middle" >0</text>
<line x1="235.25" y1="248.90" x2="235.25" y2="250.10" stroke="#222" stroke-width="0.6" />
<line x1="235.25" y1="145.20" x2="235.25" y2="146.30" stroke="#222" stroke-width="0.6" />
<line x1="243.99" y1="248.90" x2="243.99" y2="251.10" stroke="#222" stroke-width="0.8" />
<line x1="243.99" y1="145.20" x2="243.99" y2="147.20" stroke="#222" stroke-width="0.8" />
<text x="243.99" y="256.90" font-size="5.9" font-weight="bold" fill="#222" text-anchor="middle" >250</text>
<line x1="252.74" y1="248.90" x2="252.74" y2="250.10" stroke="#222" stroke-width="0.6" />
<line x1="252.74" y1="145.20" x2="252.74" y2="146.30" stroke="#222" stroke-width="0.6" />
<line x1="261.48" y1="248.90" x2="261.48" y2="251.10" stroke="#222" stroke-width="0.8" />
<line x1="261.48" y1="145.20" x2="261.48" y2="147.20" stroke="#222" stroke-width="0.8" />
<text x="261.48" y="256.90" font-size="5.9" font-weight="bold" fill="#222" text-anchor="middle" >500</text>
<line x1="270.23" y1="248.90" x2="270.23" y2="250.10" stroke="#222" stroke-width="0.6" />
<line x1="270.23" y1="145.20" x2="270.23" y2="146.30" stroke="#222" stroke-width="0.6" />
<line x1="278.97" y1="248.90" x2="278.97" y2="251.10" stroke="#222" stroke-width="0.8" />
<line x1="278.97" y1="145.20" x2="278.97" y2="147.20" stroke="#222" stroke-width="0.8" />
<text x="278.97" y="256.90" font-size="5.9" font-weight="bold" fill="#222" text-anchor="middle" >750</text>
<line x1="287.71" y1="248.90" x2="287.71" y2="250.10" stroke="#222" stroke-width="0.6" />
<line x1="287.71" y1="145.20" x2="287.71" y2="146.30" stroke="#222" stroke-width="0.6" />
<line x1="296.46" y1="248.90" x2="296.46" y2="251.10" stroke="#222" stroke-width="0.8" />
<line x1="296.46" y1="145.20" x2="296.46" y2="147.20" stroke="#222" stroke-width="0.8" />
<text x="296.46" y="256.90" font-size="5.9" font-weight="bold" fill="#222" text-anchor="middle" >1000</text>
<line x1="305.20" y1="248.90" x2="305.20" y2="250.10" stroke="#222" stroke-width="0.6" />
<line x1="305.20" y1="145.20" x2="305.20" y2="146.30" stroke="#222" stroke-width="0.6" />
<line x1="313.95" y1="248.90" x2="313.95" y2="251.10" stroke="#222" stroke-width="0.8" />
<line x1="313.95" y1="145.20" x2="313.95" y2="147.20" stroke="#222" stroke-width="0.8" />
<text x="313.95" y="256.90" font-size="5.9" font-weight="bold" fill="#222" text-anchor="middle" >1250</text>
<line x1="322.69" y1="248.90" x2="322.69" y2="250.10" stroke="#222" stroke-width="0.6" />
<line x1="322.69" y1="145.20" x2="322.69" y2="146.30" stroke="#222" stroke-width="0.6" />
<line x1="331.44" y1="248.90" x2="331.44" y2="251.10" stroke="#222" stroke-width="0.8" />
<line x1="331.44" y1="145.20" x2="331.44" y2="147.20" stroke="#222" stroke-width="0.8" />
<text x="331.44" y="256.90" font-size="5.9" font-weight="bold" fill="#222" text-anchor="middle" >1500</text>
<line x1="340.19" y1="248.90" x2="340.19" y2="250.10" stroke="#222" stroke-width="0.6" />
<line x1="340.19" y1="145.20" x2="340.19" y2="146.30" stroke="#222" stroke-width="0.6" />
<line x1="348.93" y1="248.90" x2="348.93" y2="251.10" stroke="#222" stroke-width="0.8" />
<line x1="348.93" y1="145.20" x2="348.93" y2="147.20" stroke="#222" stroke-width="0.8" />
<text x="348.93" y="256.90" font-size="5.9" font-weight="bold" fill="#222" text-anchor="middle" >1750</text>
<line x1="217.50" y1="240.80" x2="219.70" y2="240.80" stroke="#222" stroke-width="0.8" />
<text x="216.50" y="242.90" font-size="5.9" font-weight="bold" fill="#222" text-anchor="end" >1.8</text>
<line x1="218.50" y1="232.07" x2="219.70" y2="232.07" stroke="#222" stroke-width="0.6" />
<line x1="217.50" y1="223.34" x2="219.70" y2="223.34" stroke="#222" stroke-width="0.8" />
<text x="216.50" y="225.44" font-size="5.9" font-weight="bold" fill="#222" text-anchor="end" >1.9</text>
<line x1="218.50" y1="214.61" x2="219.70" y2="214.61" stroke="#222" stroke-width="0.6" />
<line x1="217.50" y1="205.88" x2="219.70" y2="205.88" stroke="#222" stroke-width="0.8" />
<text x="216.50" y="207.98" font-size="5.9" font-weight="bold" fill="#222" text-anchor="end" >2.0</text>
<line x1="218.50" y1="197.15" x2="219.70" y2="197.15" stroke="#222" stroke-width="0.6" />
<line x1="217.50" y1="188.42" x2="219.70" y2="188.42" stroke="#222" stroke-width="0.8" />
<text x="216.50" y="190.52" font-size="5.9" font-weight="bold" fill="#222" text-anchor="end" >2.1</text>
<line x1="218.50" y1="179.69" x2="219.70" y2="179.69" stroke="#222" stroke-width="0.6" />
<line x1="217.50" y1="170.96" x2="219.70" y2="170.96" stroke="#222" stroke-width="0.8" />
<text x="216.50" y="173.06" font-size="5.9" font-weight="bold" fill="#222" text-anchor="end" >2.2</text>
<line x1="218.50" y1="162.23" x2="219.70" y2="162.23" stroke="#222" stroke-width="0.6" />
<line x1="217.50" y1="153.50" x2="219.70" y2="153.50" stroke="#222" stroke-width="0.8" />
<text x="216.50" y="155.60" font-size="5.9" font-weight="bold" fill="#222" text-anchor="end" >2.3</text>
<line x1="218.50" y1="144.77" x2="219.70" y2="144.77" stroke="#222" stroke-width="0.6" />
<line x1="355.60" y1="244.00" x2="357.80" y2="244.00" stroke="#2828f0" stroke-width="0.9" />
<text x="358.80" y="246.10" font-size="5.9" font-weight="bold" fill="#2828f0" text-anchor="start" >0.0</text>
<line x1="355.60" y1="234.62" x2="356.80" y2="234.62" stroke="#2828f0" stroke-width="0.7" />
<line x1="355.60" y1="225.24" x2="357.80" y2="225.24" stroke="#2828f0" stroke-width="0.9" />
<text x="358.80" y="227.34" font-size="5.9" font-weight="bold" fill="#2828f0" text-anchor="start" >0.2</text>
<line x1="355.60" y1="215.86" x2="356.80" y2="215.86" stroke="#2828f0" stroke-width="0.7" />
<line x1="355.60" y1="206.48" x2="357.80" y2="206.48" stroke="#2828f0" stroke-width="0.9" />
<text x="358.80" y="208.58" font-size="5.9" font-weight="bold" fill="#2828f0" text-anchor="start" >0.4</text>
<line x1="355.60" y1="197.10" x2="356.80" y2="197.10" stroke="#2828f0" stroke-width="0.7" />
<line x1="355.60" y1="187.72" x2="357.80" y2="187.72" stroke="#2828f0" stroke-width="0.9" />
<text x="358.80" y="189.82" font-size="5.9" font-weight="bold" fill="#2828f0" text-anchor="start" >0.6</text>
<line x1="355.60" y1="178.34" x2="356.80" y2="178.34" stroke="#2828f0" stroke-width="0.7" />
<line x1="355.60" y1="168.96" x2="357.80" y2="168.96" stroke="#2828f0" stroke-width="0.9" />
<text x="358.80" y="171.06" font-size="5.9" font-weight="bold" fill="#2828f0" text-anchor="start" >0.8</text>
<line x1="355.60" y1="159.58" x2="356.80" y2="159.58" stroke="#2828f0" stroke-width="0.7" />
<line x1="355.60" y1="150.20" x2="357.80" y2="150.20" stroke="#2828f0" stroke-width="0.9" />
<text x="358.80" y="152.30" font-size="5.9" font-weight="bold" fill="#2828f0" text-anchor="start" >1.0</text>
<text x="229.60" y="162.60" font-size="6.2" font-weight="bold" fill="#f03030" text-anchor="start" >S</text>
<text x="262" y="164.2" font-size="6" font-weight="bold" fill="#3030e8">Li<tspan font-size="4.2" dy="1.4">2</tspan><tspan dy="-1.4">S</tspan><tspan font-size="4.2" dy="1.4">4</tspan></text>
<text x="317.8" y="164" font-size="6" font-weight="bold" fill="#a83030">Li<tspan font-size="4.2" dy="1.4">2</tspan><tspan dy="-1.4">S</tspan></text>
<text x="299.8" y="221.5" font-size="6" font-weight="bold" fill="#ee30ee">Li<tspan font-size="4.2" dy="1.4">2</tspan><tspan dy="-1.4">S</tspan><tspan font-size="4.2" dy="1.4">6</tspan></text>
<text transform="translate(205.3,197.3) rotate(-90)" font-size="6.4" font-weight="bold" fill="#222" stroke="#222" stroke-width="0.15" text-anchor="middle">Voltage (V vs Li)</text>
<text transform="translate(368.2,196.8) rotate(90)" font-size="6.25" font-weight="bold" fill="#2020f4" stroke="#2020f4" stroke-width="0.2" text-anchor="middle">Species fraction of total (S basis)</text>
<text x="287" y="266.3" font-size="6.8" font-weight="bold" fill="#222" text-anchor="middle">Specific capacity (mAh/g<tspan font-size="4.6" dy="1.5">S</tspan><tspan dy="-1.5">)</tspan></text>
<text x="3.10" y="285.20" font-size="16.5" font-weight="bold" fill="#000" text-anchor="start" >f</text>
<path d="M10.66,279.4 L533,279.4" fill="none" stroke="#5c9ce8" stroke-width="1.25" stroke-dasharray="9,3.74"/>
<path d="M533,279.4 Q535.5,279.4 535.5,282 L535.5,407.5 Q535.5,411.5 531.5,411.5" fill="none" stroke="#5c9ce8" stroke-width="1.25" stroke-dasharray="10,3.4" stroke-dashoffset="0.6"/>
<path d="M531.5,411.5 L15,411.5 Q11,411.5 11,407.5" fill="none" stroke="#5c9ce8" stroke-width="1.25" stroke-dasharray="9,3.74" stroke-dashoffset="0"/>
<path d="M11,407.5 L11,281.2 Q11,279.4 12.8,279.4" fill="none" stroke="#5c9ce8" stroke-width="1.25" stroke-dasharray="10,3.4" stroke-dashoffset="3"/>
<rect x="32.2" y="289.4" width="117.3" height="103.7" fill="none" stroke="#666" stroke-width="0.8"/>
<line x1="46.80" y1="393.10" x2="46.80" y2="391.30" stroke="#666" stroke-width="0.5" />
<line x1="76.40" y1="393.10" x2="76.40" y2="391.30" stroke="#666" stroke-width="0.5" />
<line x1="104.50" y1="393.10" x2="104.50" y2="391.30" stroke="#666" stroke-width="0.5" />
<line x1="134.10" y1="393.10" x2="134.10" y2="391.30" stroke="#666" stroke-width="0.5" />
<line x1="32.20" y1="393.10" x2="34.00" y2="393.10" stroke="#666" stroke-width="0.5" />
<text x="31.0" y="394.7" font-size="4.3" fill="#555" text-anchor="end">10<tspan font-size="3.1" dy="-1.8">-1</tspan></text>
<line x1="32.20" y1="388.47" x2="33.10" y2="388.47" stroke="#888" stroke-width="0.35" />
<line x1="32.20" y1="385.77" x2="33.10" y2="385.77" stroke="#888" stroke-width="0.35" />
<line x1="32.20" y1="383.85" x2="33.10" y2="383.85" stroke="#888" stroke-width="0.35" />
<line x1="32.20" y1="382.36" x2="33.10" y2="382.36" stroke="#888" stroke-width="0.35" />
<line x1="32.20" y1="381.14" x2="33.10" y2="381.14" stroke="#888" stroke-width="0.35" />
<line x1="32.20" y1="380.11" x2="33.10" y2="380.11" stroke="#888" stroke-width="0.35" />
<line x1="32.20" y1="379.22" x2="33.10" y2="379.22" stroke="#888" stroke-width="0.35" />
<line x1="32.20" y1="378.43" x2="33.10" y2="378.43" stroke="#888" stroke-width="0.35" />
<line x1="32.20" y1="377.73" x2="34.00" y2="377.73" stroke="#666" stroke-width="0.5" />
<text x="31.0" y="379.3" font-size="4.3" fill="#555" text-anchor="end">10<tspan font-size="3.1" dy="-1.8">0</tspan></text>
<line x1="32.20" y1="373.10" x2="33.10" y2="373.10" stroke="#888" stroke-width="0.35" />
<line x1="32.20" y1="370.40" x2="33.10" y2="370.40" stroke="#888" stroke-width="0.35" />
<line x1="32.20" y1="368.48" x2="33.10" y2="368.48" stroke="#888" stroke-width="0.35" />
<line x1="32.20" y1="366.99" x2="33.10" y2="366.99" stroke="#888" stroke-width="0.35" />
<line x1="32.20" y1="365.77" x2="33.10" y2="365.77" stroke="#888" stroke-width="0.35" />
<line x1="32.20" y1="364.74" x2="33.10" y2="364.74" stroke="#888" stroke-width="0.35" />
<line x1="32.20" y1="363.85" x2="33.10" y2="363.85" stroke="#888" stroke-width="0.35" />
<line x1="32.20" y1="363.06" x2="33.10" y2="363.06" stroke="#888" stroke-width="0.35" />
<line x1="32.20" y1="362.36" x2="34.00" y2="362.36" stroke="#666" stroke-width="0.5" />
<text x="31.0" y="364.0" font-size="4.3" fill="#555" text-anchor="end">10<tspan font-size="3.1" dy="-1.8">1</tspan></text>
<line x1="32.20" y1="357.73" x2="33.10" y2="357.73" stroke="#888" stroke-width="0.35" />
<line x1="32.20" y1="355.03" x2="33.10" y2="355.03" stroke="#888" stroke-width="0.35" />
<line x1="32.20" y1="353.11" x2="33.10" y2="353.11" stroke="#888" stroke-width="0.35" />
<line x1="32.20" y1="351.62" x2="33.10" y2="351.62" stroke="#888" stroke-width="0.35" />
<line x1="32.20" y1="350.40" x2="33.10" y2="350.40" stroke="#888" stroke-width="0.35" />
<line x1="32.20" y1="349.37" x2="33.10" y2="349.37" stroke="#888" stroke-width="0.35" />
<line x1="32.20" y1="348.48" x2="33.10" y2="348.48" stroke="#888" stroke-width="0.35" />
<line x1="32.20" y1="347.69" x2="33.10" y2="347.69" stroke="#888" stroke-width="0.35" />
<line x1="32.20" y1="346.99" x2="34.00" y2="346.99" stroke="#666" stroke-width="0.5" />
<text x="31.0" y="348.6" font-size="4.3" fill="#555" text-anchor="end">10<tspan font-size="3.1" dy="-1.8">2</tspan></text>
<line x1="32.20" y1="342.36" x2="33.10" y2="342.36" stroke="#888" stroke-width="0.35" />
<line x1="32.20" y1="339.66" x2="33.10" y2="339.66" stroke="#888" stroke-width="0.35" />
<line x1="32.20" y1="337.74" x2="33.10" y2="337.74" stroke="#888" stroke-width="0.35" />
<line x1="32.20" y1="336.25" x2="33.10" y2="336.25" stroke="#888" stroke-width="0.35" />
<line x1="32.20" y1="335.03" x2="33.10" y2="335.03" stroke="#888" stroke-width="0.35" />
<line x1="32.20" y1="334.00" x2="33.10" y2="334.00" stroke="#888" stroke-width="0.35" />
<line x1="32.20" y1="333.11" x2="33.10" y2="333.11" stroke="#888" stroke-width="0.35" />
<line x1="32.20" y1="332.32" x2="33.10" y2="332.32" stroke="#888" stroke-width="0.35" />
<line x1="32.20" y1="331.62" x2="34.00" y2="331.62" stroke="#666" stroke-width="0.5" />
<text x="31.0" y="333.2" font-size="4.3" fill="#555" text-anchor="end">10<tspan font-size="3.1" dy="-1.8">3</tspan></text>
<line x1="32.20" y1="326.99" x2="33.10" y2="326.99" stroke="#888" stroke-width="0.35" />
<line x1="32.20" y1="324.29" x2="33.10" y2="324.29" stroke="#888" stroke-width="0.35" />
<line x1="32.20" y1="322.37" x2="33.10" y2="322.37" stroke="#888" stroke-width="0.35" />
<line x1="32.20" y1="320.88" x2="33.10" y2="320.88" stroke="#888" stroke-width="0.35" />
<line x1="32.20" y1="319.66" x2="33.10" y2="319.66" stroke="#888" stroke-width="0.35" />
<line x1="32.20" y1="318.63" x2="33.10" y2="318.63" stroke="#888" stroke-width="0.35" />
<line x1="32.20" y1="317.74" x2="33.10" y2="317.74" stroke="#888" stroke-width="0.35" />
<line x1="32.20" y1="316.95" x2="33.10" y2="316.95" stroke="#888" stroke-width="0.35" />
<line x1="32.20" y1="316.25" x2="34.00" y2="316.25" stroke="#666" stroke-width="0.5" />
<text x="31.0" y="317.9" font-size="4.3" fill="#555" text-anchor="end">10<tspan font-size="3.1" dy="-1.8">4</tspan></text>
<line x1="32.20" y1="311.62" x2="33.10" y2="311.62" stroke="#888" stroke-width="0.35" />
<line x1="32.20" y1="308.92" x2="33.10" y2="308.92" stroke="#888" stroke-width="0.35" />
<line x1="32.20" y1="307.00" x2="33.10" y2="307.00" stroke="#888" stroke-width="0.35" />
<line x1="32.20" y1="305.51" x2="33.10" y2="305.51" stroke="#888" stroke-width="0.35" />
<line x1="32.20" y1="304.29" x2="33.10" y2="304.29" stroke="#888" stroke-width="0.35" />
<line x1="32.20" y1="303.26" x2="33.10" y2="303.26" stroke="#888" stroke-width="0.35" />
<line x1="32.20" y1="302.37" x2="33.10" y2="302.37" stroke="#888" stroke-width="0.35" />
<line x1="32.20" y1="301.58" x2="33.10" y2="301.58" stroke="#888" stroke-width="0.35" />
<line x1="32.20" y1="300.88" x2="34.00" y2="300.88" stroke="#666" stroke-width="0.5" />
<text x="31.0" y="302.5" font-size="4.3" fill="#555" text-anchor="end">10<tspan font-size="3.1" dy="-1.8">5</tspan></text>
<line x1="32.20" y1="296.25" x2="33.10" y2="296.25" stroke="#888" stroke-width="0.35" />
<line x1="32.20" y1="293.55" x2="33.10" y2="293.55" stroke="#888" stroke-width="0.35" />
<line x1="32.20" y1="291.63" x2="33.10" y2="291.63" stroke="#888" stroke-width="0.35" />
<line x1="32.20" y1="290.14" x2="33.10" y2="290.14" stroke="#888" stroke-width="0.35" />
<polyline points="46.80,378.50 76.40,375.40 104.50,375.40 134.10,376.00" stroke="#777" stroke-width="0.6" fill="none" stroke-linejoin="round" />
<circle cx="46.80" cy="378.50" r="1.35" fill="#fff" stroke="#777" stroke-width="0.55"/>
<circle cx="76.40" cy="375.40" r="1.35" fill="#fff" stroke="#777" stroke-width="0.55"/>
<circle cx="104.50" cy="375.40" r="1.35" fill="#fff" stroke="#777" stroke-width="0.55"/>
<circle cx="134.10" cy="376.00" r="1.35" fill="#fff" stroke="#777" stroke-width="0.55"/>
<polyline points="46.80,382.30 76.40,378.50 104.50,376.00 134.10,384.80" stroke="#f55" stroke-width="0.6" fill="none" stroke-linejoin="round" />
<circle cx="46.80" cy="382.30" r="1.35" fill="#fff" stroke="#f55" stroke-width="0.55"/>
<circle cx="76.40" cy="378.50" r="1.35" fill="#fff" stroke="#f55" stroke-width="0.55"/>
<circle cx="104.50" cy="376.00" r="1.35" fill="#fff" stroke="#f55" stroke-width="0.55"/>
<circle cx="134.10" cy="384.80" r="1.35" fill="#fff" stroke="#f55" stroke-width="0.55"/>
<polyline points="46.80,372.90 76.40,370.70 104.50,370.70 134.10,369.80" stroke="#55f" stroke-width="0.6" fill="none" stroke-linejoin="round" />
<polygon points="46.80,371.30 45.30,374.00 48.30,374.00" fill="#fff" stroke="#55f" stroke-width="0.55"/>
<polygon points="76.40,369.10 74.90,371.80 77.90,371.80" fill="#fff" stroke="#55f" stroke-width="0.55"/>
<polygon points="104.50,369.10 103.00,371.80 106.00,371.80" fill="#fff" stroke="#55f" stroke-width="0.55"/>
<polygon points="134.10,368.20 132.60,370.90 135.60,370.90" fill="#fff" stroke="#55f" stroke-width="0.55"/>
<polyline points="46.80,373.90 76.40,319.30 104.50,327.70 134.10,330.20" stroke="#3aa880" stroke-width="0.6" fill="none" stroke-linejoin="round" />
<polygon points="46.80,372.20 45.30,373.90 46.80,375.60 48.30,373.90" fill="#fff" stroke="#3aa880" stroke-width="0.55"/>
<polygon points="76.40,317.60 74.90,319.30 76.40,321.00 77.90,319.30" fill="#fff" stroke="#3aa880" stroke-width="0.55"/>
<polygon points="104.50,326.00 103.00,327.70 104.50,329.40 106.00,327.70" fill="#fff" stroke="#3aa880" stroke-width="0.55"/>
<polygon points="134.10,328.50 132.60,330.20 134.10,331.90 135.60,330.20" fill="#fff" stroke="#3aa880" stroke-width="0.55"/>
<polyline points="46.80,377.60 76.40,347.40 104.50,346.70 134.10,352.00" stroke="#666" stroke-width="0.6" fill="none" stroke-linejoin="round" />
<rect x="45.50" y="376.30" width="2.60" height="2.60" fill="#111" stroke="#111" stroke-width="0.55"/>
<rect x="75.10" y="346.10" width="2.60" height="2.60" fill="#111" stroke="#111" stroke-width="0.55"/>
<rect x="103.20" y="345.40" width="2.60" height="2.60" fill="#111" stroke="#111" stroke-width="0.55"/>
<rect x="132.80" y="350.70" width="2.60" height="2.60" fill="#111" stroke="#111" stroke-width="0.55"/>
<polyline points="46.80,380.10 76.40,357.70 104.50,356.70 134.10,358.30" stroke="#f00" stroke-width="0.6" fill="none" stroke-linejoin="round" />
<circle cx="46.80" cy="380.10" r="1.35" fill="#f00" stroke="#f00" stroke-width="0.55"/>
<circle cx="76.40" cy="357.70" r="1.35" fill="#f00" stroke="#f00" stroke-width="0.55"/>
<circle cx="104.50" cy="356.70" r="1.35" fill="#f00" stroke="#f00" stroke-width="0.55"/>
<circle cx="134.10" cy="358.30" r="1.35" fill="#f00" stroke="#f00" stroke-width="0.55"/>
<polyline points="46.80,369.80 76.40,360.50 104.50,358.30 134.10,352.00" stroke="#00f" stroke-width="0.6" fill="none" stroke-linejoin="round" />
<polygon points="46.80,368.20 45.30,370.90 48.30,370.90" fill="#00f" stroke="#00f" stroke-width="0.55"/>
<polygon points="76.40,358.90 74.90,361.60 77.90,361.60" fill="#00f" stroke="#00f" stroke-width="0.55"/>
<polygon points="104.50,356.70 103.00,359.40 106.00,359.40" fill="#00f" stroke="#00f" stroke-width="0.55"/>
<polygon points="134.10,350.40 132.60,353.10 135.60,353.10" fill="#00f" stroke="#00f" stroke-width="0.55"/>
<polyline points="46.80,370.70 76.40,317.10 104.50,321.80 134.10,324.90" stroke="#168858" stroke-width="0.6" fill="none" stroke-linejoin="round" />
<polygon points="46.80,369.00 45.30,370.70 46.80,372.40 48.30,370.70" fill="#168858" stroke="#168858" stroke-width="0.55"/>
<polygon points="76.40,315.40 74.90,317.10 76.40,318.80 77.90,317.10" fill="#168858" stroke="#168858" stroke-width="0.55"/>
<polygon points="104.50,320.10 103.00,321.80 104.50,323.50 106.00,321.80" fill="#168858" stroke="#168858" stroke-width="0.55"/>
<polygon points="134.10,323.20 132.60,324.90 134.10,326.60 135.60,324.90" fill="#168858" stroke="#168858" stroke-width="0.55"/>
<text x="46.80" y="397.80" font-size="4.4" font-weight="normal" fill="#444" text-anchor="middle" >S<tspan font-size="2.6" dy="0.8">8</tspan></text>
<text x="76.40" y="397.80" font-size="4.4" font-weight="normal" fill="#444" text-anchor="middle" >S<tspan font-size="2.6" dy="0.8">8</tspan><tspan dy="-0.8">:Li</tspan><tspan font-size="2.6" dy="0.8">2</tspan><tspan dy="-0.8">S</tspan></text>
<text x="76.40" y="402.20" font-size="4.4" font-weight="normal" fill="#444" text-anchor="middle" >= 7:8</text>
<text x="76.40" y="406.60" font-size="4.4" font-weight="normal" fill="#444" text-anchor="middle" >(Li<tspan font-size="2.6" dy="0.8">2</tspan><tspan dy="-0.8">S</tspan><tspan font-size="2.6" dy="0.8">8</tspan><tspan dy="-0.8">)</tspan></text>
<text x="104.50" y="397.80" font-size="4.4" font-weight="normal" fill="#444" text-anchor="middle" >S<tspan font-size="2.6" dy="0.8">8</tspan><tspan dy="-0.8">:Li</tspan><tspan font-size="2.6" dy="0.8">2</tspan><tspan dy="-0.8">S</tspan></text>
<text x="104.50" y="402.20" font-size="4.4" font-weight="normal" fill="#444" text-anchor="middle" >= 3:8</text>
<text x="104.50" y="406.60" font-size="4.4" font-weight="normal" fill="#444" text-anchor="middle" >(Li<tspan font-size="2.6" dy="0.8">2</tspan><tspan dy="-0.8">S</tspan><tspan font-size="2.6" dy="0.8">4</tspan><tspan dy="-0.8">)</tspan></text>
<text x="134.10" y="397.80" font-size="4.4" font-weight="normal" fill="#444" text-anchor="middle" >S<tspan font-size="2.6" dy="0.8">8</tspan><tspan dy="-0.8">:Li</tspan><tspan font-size="2.6" dy="0.8">2</tspan><tspan dy="-0.8">S</tspan></text>
<text x="134.10" y="402.20" font-size="4.4" font-weight="normal" fill="#444" text-anchor="middle" >= 1:8</text>
<text x="134.10" y="406.60" font-size="4.4" font-weight="normal" fill="#444" text-anchor="middle" >(Li<tspan font-size="2.6" dy="0.8">2</tspan><tspan dy="-0.8">S</tspan><tspan font-size="2.6" dy="0.8">2</tspan><tspan dy="-0.8">)</tspan></text>
<text transform="translate(17.5,340.4) rotate(-90)" font-size="5.3" fill="#222" stroke="#222" stroke-width="0.15" text-anchor="middle">Concentration of atomic S /mM</text>
<line x1="36.60" y1="295.30" x2="42.60" y2="295.30" stroke="#111" stroke-width="0.5" />
<rect x="38.43" y="294.13" width="2.34" height="2.34" fill="#111" stroke="#111" stroke-width="0.55"/>
<text x="44.30" y="296.60" font-size="3.6" font-weight="normal" fill="#555" text-anchor="start" >[P13][TFSA]</text>
<line x1="63.10" y1="295.30" x2="69.10" y2="295.30" stroke="#f00" stroke-width="0.5" />
<circle cx="66.10" cy="295.30" r="1.22" fill="#f00" stroke="#f00" stroke-width="0.55"/>
<text x="70.80" y="296.60" font-size="3.6" font-weight="normal" fill="#555" text-anchor="start" >[P13][BETA]</text>
<line x1="91.80" y1="295.30" x2="97.80" y2="295.30" stroke="#00f" stroke-width="0.5" />
<polygon points="94.80,293.86 93.45,296.29 96.15,296.29" fill="#00f" stroke="#00f" stroke-width="0.55"/>
<text x="98.90" y="296.60" font-size="3.6" font-weight="normal" fill="#555" text-anchor="start" >[P13][FSA]</text>
<line x1="117.70" y1="295.30" x2="123.70" y2="295.30" stroke="#168858" stroke-width="0.5" />
<polygon points="120.70,293.77 119.35,295.30 120.70,296.83 122.05,295.30" fill="#168858" stroke="#168858" stroke-width="0.55"/>
<text x="125.40" y="296.60" font-size="3.6" font-weight="normal" fill="#555" text-anchor="start" >[P14][OTf]</text>
<line x1="36.60" y1="304.30" x2="42.60" y2="304.30" stroke="#777" stroke-width="0.5" />
<circle cx="39.60" cy="304.30" r="1.22" fill="#fff" stroke="#777" stroke-width="0.55"/>
<text x="44.30" y="305.60" font-size="3.6" font-weight="normal" fill="#555" text-anchor="start" >[P13][TFSA]</text>
<text x="47.30" y="309.60" font-size="3.6" font-weight="normal" fill="#555" text-anchor="start" >+ Li[TFSA]</text>
<line x1="63.10" y1="304.30" x2="69.10" y2="304.30" stroke="#f55" stroke-width="0.5" />
<circle cx="66.10" cy="304.30" r="1.22" fill="#fff" stroke="#f55" stroke-width="0.55"/>
<text x="70.80" y="305.60" font-size="3.6" font-weight="normal" fill="#555" text-anchor="start" >[P13][BETA]</text>
<text x="73.80" y="309.60" font-size="3.6" font-weight="normal" fill="#555" text-anchor="start" >+ Li[TFSA]</text>
<line x1="91.80" y1="304.30" x2="97.80" y2="304.30" stroke="#55f" stroke-width="0.5" />
<polygon points="94.80,302.86 93.45,305.29 96.15,305.29" fill="#fff" stroke="#55f" stroke-width="0.55"/>
<text x="98.90" y="305.60" font-size="3.6" font-weight="normal" fill="#555" text-anchor="start" >[P13][FSA]</text>
<text x="101.90" y="309.60" font-size="3.6" font-weight="normal" fill="#555" text-anchor="start" >+ Li[TFSA]</text>
<line x1="117.70" y1="304.30" x2="123.70" y2="304.30" stroke="#3aa880" stroke-width="0.5" />
<polygon points="120.70,302.77 119.35,304.30 120.70,305.83 122.05,304.30" fill="#fff" stroke="#3aa880" stroke-width="0.55"/>
<text x="125.40" y="305.60" font-size="3.6" font-weight="normal" fill="#555" text-anchor="start" >[P14][OTf]</text>
<text x="128.40" y="309.60" font-size="3.6" font-weight="normal" fill="#555" text-anchor="start" >+ Li[TFSA]</text>
<rect x="188.8" y="289.4" width="116.8" height="103.9" fill="none" stroke="#666" stroke-width="0.8"/>
<line x1="203.70" y1="393.30" x2="203.70" y2="391.50" stroke="#666" stroke-width="0.5" />
<line x1="232.70" y1="393.30" x2="232.70" y2="391.50" stroke="#666" stroke-width="0.5" />
<line x1="262.30" y1="393.30" x2="262.30" y2="391.50" stroke="#666" stroke-width="0.5" />
<line x1="291.60" y1="393.30" x2="291.60" y2="391.50" stroke="#666" stroke-width="0.5" />
<line x1="188.80" y1="389.50" x2="190.60" y2="389.50" stroke="#666" stroke-width="0.5" />
<text x="187.20" y="391.10" font-size="4.6" font-weight="normal" fill="#555" text-anchor="end" >0</text>
<line x1="188.80" y1="381.77" x2="189.80" y2="381.77" stroke="#888" stroke-width="0.4" />
<line x1="188.80" y1="374.05" x2="190.60" y2="374.05" stroke="#666" stroke-width="0.5" />
<text x="187.20" y="375.65" font-size="4.6" font-weight="normal" fill="#555" text-anchor="end" >20</text>
<line x1="188.80" y1="366.32" x2="189.80" y2="366.32" stroke="#888" stroke-width="0.4" />
<line x1="188.80" y1="358.60" x2="190.60" y2="358.60" stroke="#666" stroke-width="0.5" />
<text x="187.20" y="360.20" font-size="4.6" font-weight="normal" fill="#555" text-anchor="end" >40</text>
<line x1="188.80" y1="350.88" x2="189.80" y2="350.88" stroke="#888" stroke-width="0.4" />
<line x1="188.80" y1="343.15" x2="190.60" y2="343.15" stroke="#666" stroke-width="0.5" />
<text x="187.20" y="344.75" font-size="4.6" font-weight="normal" fill="#555" text-anchor="end" >60</text>
<line x1="188.80" y1="335.43" x2="189.80" y2="335.43" stroke="#888" stroke-width="0.4" />
<line x1="188.80" y1="327.70" x2="190.60" y2="327.70" stroke="#666" stroke-width="0.5" />
<text x="187.20" y="329.30" font-size="4.6" font-weight="normal" fill="#555" text-anchor="end" >80</text>
<line x1="188.80" y1="319.98" x2="189.80" y2="319.98" stroke="#888" stroke-width="0.4" />
<line x1="188.80" y1="312.25" x2="190.60" y2="312.25" stroke="#666" stroke-width="0.5" />
<text x="187.20" y="313.85" font-size="4.6" font-weight="normal" fill="#555" text-anchor="end" >100</text>
<line x1="188.80" y1="304.52" x2="189.80" y2="304.52" stroke="#888" stroke-width="0.4" />
<line x1="188.80" y1="296.80" x2="190.60" y2="296.80" stroke="#666" stroke-width="0.5" />
<text x="187.20" y="298.40" font-size="4.6" font-weight="normal" fill="#555" text-anchor="end" >120</text>
<polyline points="203.70,388.73 232.70,348.56 262.30,339.29 291.60,353.97" stroke="#f90" stroke-width="0.6" fill="none" stroke-linejoin="round" />
<polygon points="203.70,386.94 202.12,388.73 203.70,390.51 205.27,388.73" fill="#f90" stroke="#f90" stroke-width="0.55"/>
<polygon points="232.70,346.77 231.12,348.56 232.70,350.34 234.27,348.56" fill="#f90" stroke="#f90" stroke-width="0.55"/>
<polygon points="262.30,337.50 260.73,339.29 262.30,341.07 263.88,339.29" fill="#f90" stroke="#f90" stroke-width="0.55"/>
<polygon points="291.60,352.18 290.03,353.97 291.60,355.75 293.18,353.97" fill="#f90" stroke="#f90" stroke-width="0.55"/>
<polyline points="203.70,387.95 232.70,351.65 262.30,356.28 291.60,369.42" stroke="#f0f" stroke-width="0.6" fill="none" stroke-linejoin="round" />
<polygon points="203.70,386.27 202.12,389.11 205.27,389.11" fill="#f0f" stroke="#f0f" stroke-width="0.55"/>
<polygon points="232.70,349.97 231.12,352.80 234.27,352.80" fill="#f0f" stroke="#f0f" stroke-width="0.55"/>
<polygon points="262.30,354.60 260.73,357.44 263.88,357.44" fill="#f0f" stroke="#f0f" stroke-width="0.55"/>
<polygon points="291.60,367.74 290.03,370.57 293.18,370.57" fill="#f0f" stroke="#f0f" stroke-width="0.55"/>
<polyline points="203.70,387.18 232.70,347.79 262.30,351.65 291.60,377.14" stroke="#168858" stroke-width="0.6" fill="none" stroke-linejoin="round" />
<polygon points="203.70,385.40 202.12,387.18 203.70,388.97 205.27,387.18" fill="#168858" stroke="#168858" stroke-width="0.55"/>
<polygon points="232.70,346.00 231.12,347.79 232.70,349.57 234.27,347.79" fill="#168858" stroke="#168858" stroke-width="0.55"/>
<polygon points="262.30,349.86 260.73,351.65 262.30,353.43 263.88,351.65" fill="#168858" stroke="#168858" stroke-width="0.55"/>
<polygon points="291.60,375.35 290.03,377.14 291.60,378.93 293.18,377.14" fill="#168858" stroke="#168858" stroke-width="0.55"/>
<polyline points="203.70,384.87 232.70,359.37 262.30,350.88 291.60,376.37" stroke="#22f" stroke-width="0.6" fill="none" stroke-linejoin="round" />
<polygon points="203.70,383.19 202.12,386.02 205.27,386.02" fill="#22f" stroke="#22f" stroke-width="0.55"/>
<polygon points="232.70,357.69 231.12,360.53 234.27,360.53" fill="#22f" stroke="#22f" stroke-width="0.55"/>
<polygon points="262.30,349.19 260.73,352.03 263.88,352.03" fill="#22f" stroke="#22f" stroke-width="0.55"/>
<polygon points="291.60,374.69 290.03,377.52 293.18,377.52" fill="#22f" stroke="#22f" stroke-width="0.55"/>
<polyline points="203.70,387.18 232.70,330.79 262.30,327.70 291.60,374.05" stroke="#f33" stroke-width="0.6" fill="none" stroke-linejoin="round" />
<circle cx="203.70" cy="387.18" r="1.42" fill="#f33" stroke="#f33" stroke-width="0.55"/>
<circle cx="232.70" cy="330.79" r="1.42" fill="#f33" stroke="#f33" stroke-width="0.55"/>
<circle cx="262.30" cy="327.70" r="1.42" fill="#f33" stroke="#f33" stroke-width="0.55"/>
<circle cx="291.60" cy="374.05" r="1.42" fill="#f33" stroke="#f33" stroke-width="0.55"/>
<polyline points="203.70,387.18 232.70,320.75 262.30,316.88 291.60,357.83" stroke="#111" stroke-width="0.6" fill="none" stroke-linejoin="round" />
<rect x="202.33" y="385.82" width="2.73" height="2.73" fill="#111" stroke="#111" stroke-width="0.55"/>
<rect x="231.33" y="319.38" width="2.73" height="2.73" fill="#111" stroke="#111" stroke-width="0.55"/>
<rect x="260.94" y="315.52" width="2.73" height="2.73" fill="#111" stroke="#111" stroke-width="0.55"/>
<rect x="290.24" y="356.46" width="2.73" height="2.73" fill="#111" stroke="#111" stroke-width="0.55"/>
<text x="203.70" y="397.80" font-size="4.4" font-weight="normal" fill="#444" text-anchor="middle" >S<tspan font-size="2.6" dy="0.8">8</tspan></text>
<text x="232.70" y="397.80" font-size="4.4" font-weight="normal" fill="#444" text-anchor="middle" >S<tspan font-size="2.6" dy="0.8">8</tspan><tspan dy="-0.8">:Li</tspan><tspan font-size="2.6" dy="0.8">2</tspan><tspan dy="-0.8">S</tspan></text>
<text x="232.70" y="402.20" font-size="4.4" font-weight="normal" fill="#444" text-anchor="middle" >= 7:8</text>
<text x="232.70" y="406.60" font-size="4.4" font-weight="normal" fill="#444" text-anchor="middle" >(Li<tspan font-size="2.6" dy="0.8">2</tspan><tspan dy="-0.8">S</tspan><tspan font-size="2.6" dy="0.8">8</tspan><tspan dy="-0.8">)</tspan></text>
<text x="262.30" y="397.80" font-size="4.4" font-weight="normal" fill="#444" text-anchor="middle" >S<tspan font-size="2.6" dy="0.8">8</tspan><tspan dy="-0.8">:Li</tspan><tspan font-size="2.6" dy="0.8">2</tspan><tspan dy="-0.8">S</tspan></text>
<text x="262.30" y="402.20" font-size="4.4" font-weight="normal" fill="#444" text-anchor="middle" >= 3:8</text>
<text x="262.30" y="406.60" font-size="4.4" font-weight="normal" fill="#444" text-anchor="middle" >(Li<tspan font-size="2.6" dy="0.8">2</tspan><tspan dy="-0.8">S</tspan><tspan font-size="2.6" dy="0.8">4</tspan><tspan dy="-0.8">)</tspan></text>
<text x="291.60" y="397.80" font-size="4.4" font-weight="normal" fill="#444" text-anchor="middle" >S<tspan font-size="2.6" dy="0.8">8</tspan><tspan dy="-0.8">:Li</tspan><tspan font-size="2.6" dy="0.8">2</tspan><tspan dy="-0.8">S</tspan></text>
<text x="291.60" y="402.20" font-size="4.4" font-weight="normal" fill="#444" text-anchor="middle" >= 1:8</text>
<text x="291.60" y="406.60" font-size="4.4" font-weight="normal" fill="#444" text-anchor="middle" >(Li<tspan font-size="2.6" dy="0.8">2</tspan><tspan dy="-0.8">S</tspan><tspan font-size="2.6" dy="0.8">2</tspan><tspan dy="-0.8">)</tspan></text>
<text transform="translate(176,346.3) rotate(-90)" font-size="5.1" fill="#222" stroke="#222" stroke-width="0.15" text-anchor="middle">Concentration of atomic S /mM</text>
<line x1="199.20" y1="295.40" x2="205.20" y2="295.40" stroke="#111" stroke-width="0.5" />
<rect x="201.22" y="294.42" width="1.95" height="1.95" fill="#111" stroke="#111" stroke-width="0.55"/>
<text x="205.80" y="296.80" font-size="3.85" font-weight="normal" fill="#555" text-anchor="start" >[P13][TFSA]</text>
<line x1="232.40" y1="295.40" x2="238.40" y2="295.40" stroke="#f33" stroke-width="0.5" />
<circle cx="235.40" cy="295.40" r="1.01" fill="#f33" stroke="#f33" stroke-width="0.55"/>
<text x="239.60" y="296.80" font-size="3.85" font-weight="normal" fill="#555" text-anchor="start" >[P14][TFSA]</text>
<line x1="267.20" y1="295.40" x2="273.20" y2="295.40" stroke="#22f" stroke-width="0.5" />
<polygon points="270.20,294.20 269.07,296.22 271.32,296.22" fill="#22f" stroke="#22f" stroke-width="0.55"/>
<text x="274.40" y="296.80" font-size="3.85" font-weight="normal" fill="#555" text-anchor="start" >[P2225][TFSA]</text>
<line x1="199.20" y1="303.80" x2="205.20" y2="303.80" stroke="#168858" stroke-width="0.5" />
<polygon points="202.20,302.53 201.07,303.80 202.20,305.07 203.32,303.80" fill="#168858" stroke="#168858" stroke-width="0.55"/>
<text x="205.80" y="305.20" font-size="3.85" font-weight="normal" fill="#555" text-anchor="start" >[PP13][TFSA]</text>
<line x1="232.40" y1="303.80" x2="238.40" y2="303.80" stroke="#f0f" stroke-width="0.5" />
<polygon points="235.40,302.60 234.28,304.62 236.53,304.62" fill="#f0f" stroke="#f0f" stroke-width="0.55"/>
<text x="239.60" y="305.20" font-size="3.85" font-weight="normal" fill="#555" text-anchor="start" >[Cholinium][TFSA]</text>
<line x1="268.00" y1="303.80" x2="274.00" y2="303.80" stroke="#f90" stroke-width="0.5" />
<polygon points="271.00,302.53 269.88,303.80 271.00,305.07 272.12,303.80" fill="#f90" stroke="#f90" stroke-width="0.55"/>
<text x="274.40" y="305.20" font-size="3.85" font-weight="normal" fill="#555" text-anchor="start" >[DEME][TFSA]</text>
<line x1="351.60" y1="288.00" x2="351.60" y2="391.20" stroke="#777" stroke-width="0.7" />
<line x1="351.60" y1="391.20" x2="470.00" y2="391.20" stroke="#777" stroke-width="0.7" />
<line x1="349.80" y1="391.20" x2="351.60" y2="391.20" stroke="#777" stroke-width="0.5" />
<text x="349.30" y="392.90" font-size="4.9" font-weight="normal" fill="#555" text-anchor="end" >0</text>
<line x1="350.60" y1="381.15" x2="351.60" y2="381.15" stroke="#888" stroke-width="0.4" />
<line x1="349.80" y1="371.10" x2="351.60" y2="371.10" stroke="#777" stroke-width="0.5" />
<text x="349.30" y="372.80" font-size="4.9" font-weight="normal" fill="#555" text-anchor="end" >200</text>
<line x1="350.60" y1="361.05" x2="351.60" y2="361.05" stroke="#888" stroke-width="0.4" />
<line x1="349.80" y1="351.00" x2="351.60" y2="351.00" stroke="#777" stroke-width="0.5" />
<text x="349.30" y="352.70" font-size="4.9" font-weight="normal" fill="#555" text-anchor="end" >400</text>
<line x1="350.60" y1="340.95" x2="351.60" y2="340.95" stroke="#888" stroke-width="0.4" />
<line x1="349.80" y1="330.90" x2="351.60" y2="330.90" stroke="#777" stroke-width="0.5" />
<text x="349.30" y="332.60" font-size="4.9" font-weight="normal" fill="#555" text-anchor="end" >600</text>
<line x1="350.60" y1="320.85" x2="351.60" y2="320.85" stroke="#888" stroke-width="0.4" />
<line x1="349.80" y1="310.80" x2="351.60" y2="310.80" stroke="#777" stroke-width="0.5" />
<text x="349.30" y="312.50" font-size="4.9" font-weight="normal" fill="#555" text-anchor="end" >800</text>
<line x1="350.60" y1="300.75" x2="351.60" y2="300.75" stroke="#888" stroke-width="0.4" />
<line x1="349.80" y1="290.70" x2="351.60" y2="290.70" stroke="#777" stroke-width="0.5" />
<text x="349.30" y="292.40" font-size="4.9" font-weight="normal" fill="#555" text-anchor="end" >1000</text>
<line x1="351.60" y1="391.20" x2="351.60" y2="393.00" stroke="#777" stroke-width="0.5" />
<text x="351.60" y="397.40" font-size="4.9" font-weight="normal" fill="#555" text-anchor="middle" >0</text>
<line x1="363.12" y1="391.20" x2="363.12" y2="392.20" stroke="#888" stroke-width="0.4" />
<line x1="374.64" y1="391.20" x2="374.64" y2="393.00" stroke="#777" stroke-width="0.5" />
<text x="374.64" y="397.40" font-size="4.9" font-weight="normal" fill="#555" text-anchor="middle" >10</text>
<line x1="386.16" y1="391.20" x2="386.16" y2="392.20" stroke="#888" stroke-width="0.4" />
<line x1="397.68" y1="391.20" x2="397.68" y2="393.00" stroke="#777" stroke-width="0.5" />
<text x="397.68" y="397.40" font-size="4.9" font-weight="normal" fill="#555" text-anchor="middle" >20</text>
<line x1="409.20" y1="391.20" x2="409.20" y2="392.20" stroke="#888" stroke-width="0.4" />
<line x1="420.72" y1="391.20" x2="420.72" y2="393.00" stroke="#777" stroke-width="0.5" />
<text x="420.72" y="397.40" font-size="4.9" font-weight="normal" fill="#555" text-anchor="middle" >30</text>
<line x1="432.24" y1="391.20" x2="432.24" y2="392.20" stroke="#888" stroke-width="0.4" />
<line x1="443.76" y1="391.20" x2="443.76" y2="393.00" stroke="#777" stroke-width="0.5" />
<text x="443.76" y="397.40" font-size="4.9" font-weight="normal" fill="#555" text-anchor="middle" >40</text>
<line x1="455.28" y1="391.20" x2="455.28" y2="392.20" stroke="#888" stroke-width="0.4" />
<line x1="466.80" y1="391.20" x2="466.80" y2="393.00" stroke="#777" stroke-width="0.5" />
<text x="466.80" y="397.40" font-size="4.9" font-weight="normal" fill="#555" text-anchor="middle" >50</text>
<text transform="translate(338.8,342) rotate(-90)" font-size="6.2" fill="#333" text-anchor="middle">Capacity / mAh g<tspan font-size="4" dy="-2">-1</tspan></text>
<text x="410.00" y="404.60" font-size="6.1" font-weight="normal" fill="#333" text-anchor="middle" >Cycle number</text>
<polyline points="356.21,326.89 358.51,338.92 360.82,348.86 363.12,356.54 365.42,362.56 367.73,367.05 370.03,370.69 372.34,372.35 374.64,374.08 376.94,374.73 379.25,375.64 381.55,376.28 383.86,377.05 386.16,377.54 388.46,378.08 390.77,378.78 393.07,378.99 395.38,379.50 397.68,380.10 399.98,380.41 402.29,380.85 404.59,381.20 406.90,381.34 409.20,381.79 411.50,382.05 413.81,382.33 416.11,382.70 418.42,382.87 420.72,383.18 423.02,383.26 425.33,383.56 427.63,383.72 429.94,383.96 432.24,384.12 434.54,384.38 436.85,384.63 439.15,384.62 441.46,384.82 443.76,385.07 446.06,385.31 448.37,385.63 450.67,385.85 452.98,386.04 455.28,386.30 457.58,386.30 459.89,386.61 462.19,386.67 464.50,387.01 466.80,387.04" stroke="#3030b0" stroke-width="0.6" fill="none" stroke-linejoin="round" />
<polygon points="356.21,325.49 354.91,327.79 357.51,327.79" fill="#fff" stroke="#3030b0" stroke-width="0.5"/>
<polygon points="358.51,337.52 357.21,339.82 359.81,339.82" fill="#fff" stroke="#3030b0" stroke-width="0.5"/>
<polygon points="360.82,347.46 359.52,349.76 362.12,349.76" fill="#fff" stroke="#3030b0" stroke-width="0.5"/>
<polygon points="363.12,355.14 361.82,357.44 364.42,357.44" fill="#fff" stroke="#3030b0" stroke-width="0.5"/>
<polygon points="365.42,361.16 364.12,363.46 366.72,363.46" fill="#fff" stroke="#3030b0" stroke-width="0.5"/>
<polygon points="367.73,365.65 366.43,367.95 369.03,367.95" fill="#fff" stroke="#3030b0" stroke-width="0.5"/>
<polygon points="370.03,369.29 368.73,371.59 371.33,371.59" fill="#fff" stroke="#3030b0" stroke-width="0.5"/>
<polygon points="372.34,370.95 371.04,373.25 373.64,373.25" fill="#fff" stroke="#3030b0" stroke-width="0.5"/>
<polygon points="374.64,372.68 373.34,374.98 375.94,374.98" fill="#fff" stroke="#3030b0" stroke-width="0.5"/>
<polygon points="376.94,373.33 375.64,375.63 378.24,375.63" fill="#fff" stroke="#3030b0" stroke-width="0.5"/>
<polygon points="379.25,374.24 377.95,376.54 380.55,376.54" fill="#fff" stroke="#3030b0" stroke-width="0.5"/>
<polygon points="381.55,374.88 380.25,377.18 382.85,377.18" fill="#fff" stroke="#3030b0" stroke-width="0.5"/>
<polygon points="383.86,375.65 382.56,377.95 385.16,377.95" fill="#fff" stroke="#3030b0" stroke-width="0.5"/>
<polygon points="386.16,376.14 384.86,378.44 387.46,378.44" fill="#fff" stroke="#3030b0" stroke-width="0.5"/>
<polygon points="388.46,376.68 387.16,378.98 389.76,378.98" fill="#fff" stroke="#3030b0" stroke-width="0.5"/>
<polygon points="390.77,377.38 389.47,379.68 392.07,379.68" fill="#fff" stroke="#3030b0" stroke-width="0.5"/>
<polygon points="393.07,377.59 391.77,379.89 394.37,379.89" fill="#fff" stroke="#3030b0" stroke-width="0.5"/>
<polygon points="395.38,378.10 394.08,380.40 396.68,380.40" fill="#fff" stroke="#3030b0" stroke-width="0.5"/>
<polygon points="397.68,378.70 396.38,381.00 398.98,381.00" fill="#fff" stroke="#3030b0" stroke-width="0.5"/>
<polygon points="399.98,379.01 398.68,381.31 401.28,381.31" fill="#fff" stroke="#3030b0" stroke-width="0.5"/>
<polygon points="402.29,379.45 400.99,381.75 403.59,381.75" fill="#fff" stroke="#3030b0" stroke-width="0.5"/>
<polygon points="404.59,379.80 403.29,382.10 405.89,382.10" fill="#fff" stroke="#3030b0" stroke-width="0.5"/>
<polygon points="406.90,379.94 405.60,382.24 408.20,382.24" fill="#fff" stroke="#3030b0" stroke-width="0.5"/>
<polygon points="409.20,380.39 407.90,382.69 410.50,382.69" fill="#fff" stroke="#3030b0" stroke-width="0.5"/>
<polygon points="411.50,380.65 410.20,382.95 412.80,382.95" fill="#fff" stroke="#3030b0" stroke-width="0.5"/>
<polygon points="413.81,380.93 412.51,383.23 415.11,383.23" fill="#fff" stroke="#3030b0" stroke-width="0.5"/>
<polygon points="416.11,381.30 414.81,383.60 417.41,383.60" fill="#fff" stroke="#3030b0" stroke-width="0.5"/>
<polygon points="418.42,381.47 417.12,383.77 419.72,383.77" fill="#fff" stroke="#3030b0" stroke-width="0.5"/>
<polygon points="420.72,381.78 419.42,384.08 422.02,384.08" fill="#fff" stroke="#3030b0" stroke-width="0.5"/>
<polygon points="423.02,381.86 421.72,384.16 424.32,384.16" fill="#fff" stroke="#3030b0" stroke-width="0.5"/>
<polygon points="425.33,382.16 424.03,384.46 426.63,384.46" fill="#fff" stroke="#3030b0" stroke-width="0.5"/>
<polygon points="427.63,382.32 426.33,384.62 428.93,384.62" fill="#fff" stroke="#3030b0" stroke-width="0.5"/>
<polygon points="429.94,382.56 428.64,384.86 431.24,384.86" fill="#fff" stroke="#3030b0" stroke-width="0.5"/>
<polygon points="432.24,382.72 430.94,385.02 433.54,385.02" fill="#fff" stroke="#3030b0" stroke-width="0.5"/>
<polygon points="434.54,382.98 433.24,385.28 435.84,385.28" fill="#fff" stroke="#3030b0" stroke-width="0.5"/>
<polygon points="436.85,383.23 435.55,385.53 438.15,385.53" fill="#fff" stroke="#3030b0" stroke-width="0.5"/>
<polygon points="439.15,383.22 437.85,385.52 440.45,385.52" fill="#fff" stroke="#3030b0" stroke-width="0.5"/>
<polygon points="441.46,383.42 440.16,385.72 442.76,385.72" fill="#fff" stroke="#3030b0" stroke-width="0.5"/>
<polygon points="443.76,383.67 442.46,385.97 445.06,385.97" fill="#fff" stroke="#3030b0" stroke-width="0.5"/>
<polygon points="446.06,383.91 444.76,386.21 447.36,386.21" fill="#fff" stroke="#3030b0" stroke-width="0.5"/>
<polygon points="448.37,384.23 447.07,386.53 449.67,386.53" fill="#fff" stroke="#3030b0" stroke-width="0.5"/>
<polygon points="450.67,384.45 449.37,386.75 451.97,386.75" fill="#fff" stroke="#3030b0" stroke-width="0.5"/>
<polygon points="452.98,384.64 451.68,386.94 454.28,386.94" fill="#fff" stroke="#3030b0" stroke-width="0.5"/>
<polygon points="455.28,384.90 453.98,387.20 456.58,387.20" fill="#fff" stroke="#3030b0" stroke-width="0.5"/>
<polygon points="457.58,384.90 456.28,387.20 458.88,387.20" fill="#fff" stroke="#3030b0" stroke-width="0.5"/>
<polygon points="459.89,385.21 458.59,387.51 461.19,387.51" fill="#fff" stroke="#3030b0" stroke-width="0.5"/>
<polygon points="462.19,385.27 460.89,387.57 463.49,387.57" fill="#fff" stroke="#3030b0" stroke-width="0.5"/>
<polygon points="464.50,385.61 463.20,387.91 465.80,387.91" fill="#fff" stroke="#3030b0" stroke-width="0.5"/>
<polygon points="466.80,385.64 465.50,387.94 468.10,387.94" fill="#fff" stroke="#3030b0" stroke-width="0.5"/>
<polyline points="353.90,294.01 356.21,318.79 358.51,329.98 360.82,339.82 363.12,348.50 365.42,355.88 367.73,362.09 370.03,367.21 372.34,370.56 374.64,373.03 376.94,374.28 379.25,375.45 381.55,375.97 383.86,376.39 386.16,377.05 388.46,377.75 390.77,378.21 393.07,378.76 395.38,379.27 397.68,379.55 399.98,380.08 402.29,380.31 404.59,380.68 406.90,381.10 409.20,381.28 411.50,381.78 413.81,381.95 416.11,382.43 418.42,382.66 420.72,383.05 423.02,383.23 425.33,383.22 427.63,383.47 429.94,383.82 432.24,383.85 434.54,384.25 436.85,384.40 439.15,384.46 441.46,384.73 443.76,385.09 446.06,385.00 448.37,385.42 450.67,385.58 452.98,385.61 455.28,385.93 457.58,386.12 459.89,386.36 462.19,386.54 464.50,386.57 466.80,386.86" stroke="#2020a0" stroke-width="0.6" fill="none" stroke-linejoin="round" />
<polygon points="353.90,292.61 352.60,294.91 355.20,294.91" fill="#2020a0" stroke="#2020a0" stroke-width="0.5"/>
<polygon points="356.21,317.39 354.91,319.69 357.51,319.69" fill="#2020a0" stroke="#2020a0" stroke-width="0.5"/>
<polygon points="358.51,328.58 357.21,330.88 359.81,330.88" fill="#2020a0" stroke="#2020a0" stroke-width="0.5"/>
<polygon points="360.82,338.42 359.52,340.72 362.12,340.72" fill="#2020a0" stroke="#2020a0" stroke-width="0.5"/>
<polygon points="363.12,347.10 361.82,349.40 364.42,349.40" fill="#2020a0" stroke="#2020a0" stroke-width="0.5"/>
<polygon points="365.42,354.48 364.12,356.78 366.72,356.78" fill="#2020a0" stroke="#2020a0" stroke-width="0.5"/>
<polygon points="367.73,360.69 366.43,362.99 369.03,362.99" fill="#2020a0" stroke="#2020a0" stroke-width="0.5"/>
<polygon points="370.03,365.81 368.73,368.11 371.33,368.11" fill="#2020a0" stroke="#2020a0" stroke-width="0.5"/>
<polygon points="372.34,369.16 371.04,371.46 373.64,371.46" fill="#2020a0" stroke="#2020a0" stroke-width="0.5"/>
<polygon points="374.64,371.63 373.34,373.93 375.94,373.93" fill="#2020a0" stroke="#2020a0" stroke-width="0.5"/>
<polygon points="376.94,372.88 375.64,375.18 378.24,375.18" fill="#2020a0" stroke="#2020a0" stroke-width="0.5"/>
<polygon points="379.25,374.05 377.95,376.35 380.55,376.35" fill="#2020a0" stroke="#2020a0" stroke-width="0.5"/>
<polygon points="381.55,374.57 380.25,376.87 382.85,376.87" fill="#2020a0" stroke="#2020a0" stroke-width="0.5"/>
<polygon points="383.86,374.99 382.56,377.29 385.16,377.29" fill="#2020a0" stroke="#2020a0" stroke-width="0.5"/>
<polygon points="386.16,375.65 384.86,377.95 387.46,377.95" fill="#2020a0" stroke="#2020a0" stroke-width="0.5"/>
<polygon points="388.46,376.35 387.16,378.65 389.76,378.65" fill="#2020a0" stroke="#2020a0" stroke-width="0.5"/>
<polygon points="390.77,376.81 389.47,379.11 392.07,379.11" fill="#2020a0" stroke="#2020a0" stroke-width="0.5"/>
<polygon points="393.07,377.36 391.77,379.66 394.37,379.66" fill="#2020a0" stroke="#2020a0" stroke-width="0.5"/>
<polygon points="395.38,377.87 394.08,380.17 396.68,380.17" fill="#2020a0" stroke="#2020a0" stroke-width="0.5"/>
<polygon points="397.68,378.15 396.38,380.45 398.98,380.45" fill="#2020a0" stroke="#2020a0" stroke-width="0.5"/>
<polygon points="399.98,378.68 398.68,380.98 401.28,380.98" fill="#2020a0" stroke="#2020a0" stroke-width="0.5"/>
<polygon points="402.29,378.91 400.99,381.21 403.59,381.21" fill="#2020a0" stroke="#2020a0" stroke-width="0.5"/>
<polygon points="404.59,379.28 403.29,381.58 405.89,381.58" fill="#2020a0" stroke="#2020a0" stroke-width="0.5"/>
<polygon points="406.90,379.70 405.60,382.00 408.20,382.00" fill="#2020a0" stroke="#2020a0" stroke-width="0.5"/>
<polygon points="409.20,379.88 407.90,382.18 410.50,382.18" fill="#2020a0" stroke="#2020a0" stroke-width="0.5"/>
<polygon points="411.50,380.38 410.20,382.68 412.80,382.68" fill="#2020a0" stroke="#2020a0" stroke-width="0.5"/>
<polygon points="413.81,380.55 412.51,382.85 415.11,382.85" fill="#2020a0" stroke="#2020a0" stroke-width="0.5"/>
<polygon points="416.11,381.03 414.81,383.33 417.41,383.33" fill="#2020a0" stroke="#2020a0" stroke-width="0.5"/>
<polygon points="418.42,381.26 417.12,383.56 419.72,383.56" fill="#2020a0" stroke="#2020a0" stroke-width="0.5"/>
<polygon points="420.72,381.65 419.42,383.95 422.02,383.95" fill="#2020a0" stroke="#2020a0" stroke-width="0.5"/>
<polygon points="423.02,381.83 421.72,384.13 424.32,384.13" fill="#2020a0" stroke="#2020a0" stroke-width="0.5"/>
<polygon points="425.33,381.82 424.03,384.12 426.63,384.12" fill="#2020a0" stroke="#2020a0" stroke-width="0.5"/>
<polygon points="427.63,382.07 426.33,384.37 428.93,384.37" fill="#2020a0" stroke="#2020a0" stroke-width="0.5"/>
<polygon points="429.94,382.42 428.64,384.72 431.24,384.72" fill="#2020a0" stroke="#2020a0" stroke-width="0.5"/>
<polygon points="432.24,382.45 430.94,384.75 433.54,384.75" fill="#2020a0" stroke="#2020a0" stroke-width="0.5"/>
<polygon points="434.54,382.85 433.24,385.15 435.84,385.15" fill="#2020a0" stroke="#2020a0" stroke-width="0.5"/>
<polygon points="436.85,383.00 435.55,385.30 438.15,385.30" fill="#2020a0" stroke="#2020a0" stroke-width="0.5"/>
<polygon points="439.15,383.06 437.85,385.36 440.45,385.36" fill="#2020a0" stroke="#2020a0" stroke-width="0.5"/>
<polygon points="441.46,383.33 440.16,385.63 442.76,385.63" fill="#2020a0" stroke="#2020a0" stroke-width="0.5"/>
<polygon points="443.76,383.69 442.46,385.99 445.06,385.99" fill="#2020a0" stroke="#2020a0" stroke-width="0.5"/>
<polygon points="446.06,383.60 444.76,385.90 447.36,385.90" fill="#2020a0" stroke="#2020a0" stroke-width="0.5"/>
<polygon points="448.37,384.02 447.07,386.32 449.67,386.32" fill="#2020a0" stroke="#2020a0" stroke-width="0.5"/>
<polygon points="450.67,384.18 449.37,386.48 451.97,386.48" fill="#2020a0" stroke="#2020a0" stroke-width="0.5"/>
<polygon points="452.98,384.21 451.68,386.51 454.28,386.51" fill="#2020a0" stroke="#2020a0" stroke-width="0.5"/>
<polygon points="455.28,384.53 453.98,386.83 456.58,386.83" fill="#2020a0" stroke="#2020a0" stroke-width="0.5"/>
<polygon points="457.58,384.72 456.28,387.02 458.88,387.02" fill="#2020a0" stroke="#2020a0" stroke-width="0.5"/>
<polygon points="459.89,384.96 458.59,387.26 461.19,387.26" fill="#2020a0" stroke="#2020a0" stroke-width="0.5"/>
<polygon points="462.19,385.14 460.89,387.44 463.49,387.44" fill="#2020a0" stroke="#2020a0" stroke-width="0.5"/>
<polygon points="464.50,385.17 463.20,387.47 465.80,387.47" fill="#2020a0" stroke="#2020a0" stroke-width="0.5"/>
<polygon points="466.80,385.46 465.50,387.76 468.10,387.76" fill="#2020a0" stroke="#2020a0" stroke-width="0.5"/>
<polyline points="356.21,336.40 358.51,336.97 360.82,337.70 363.12,338.30 365.42,339.85 367.73,341.23 370.03,342.55 372.34,344.16 374.64,345.58 376.94,346.32 379.25,347.33 381.55,348.47 383.86,349.47 386.16,350.27 388.46,351.19 390.77,352.39 393.07,353.14 395.38,354.13 397.68,355.19 399.98,355.83 402.29,356.51 404.59,357.11 406.90,357.41 409.20,358.21 411.50,358.66 413.81,359.37 416.11,359.79 418.42,360.44 420.72,361.11 423.02,361.53 425.33,361.75 427.63,362.33 429.94,362.66 432.24,362.94 434.54,363.24 436.85,363.69 439.15,364.17 441.46,364.36 443.76,364.96 446.06,365.64 448.37,366.18 450.67,366.75 452.98,367.49 455.28,368.08 457.58,368.65 459.89,369.21 462.19,369.96 464.50,370.52 466.80,370.98" stroke="#ff4040" stroke-width="0.6" fill="none" stroke-linejoin="round" />
<circle cx="356.21" cy="336.40" r="1.15" fill="#fff" stroke="#ff4040" stroke-width="0.75"/>
<circle cx="358.51" cy="336.97" r="1.15" fill="#fff" stroke="#ff4040" stroke-width="0.75"/>
<circle cx="360.82" cy="337.70" r="1.15" fill="#fff" stroke="#ff4040" stroke-width="0.75"/>
<circle cx="363.12" cy="338.30" r="1.15" fill="#fff" stroke="#ff4040" stroke-width="0.75"/>
<circle cx="365.42" cy="339.85" r="1.15" fill="#fff" stroke="#ff4040" stroke-width="0.75"/>
<circle cx="367.73" cy="341.23" r="1.15" fill="#fff" stroke="#ff4040" stroke-width="0.75"/>
<circle cx="370.03" cy="342.55" r="1.15" fill="#fff" stroke="#ff4040" stroke-width="0.75"/>
<circle cx="372.34" cy="344.16" r="1.15" fill="#fff" stroke="#ff4040" stroke-width="0.75"/>
<circle cx="374.64" cy="345.58" r="1.15" fill="#fff" stroke="#ff4040" stroke-width="0.75"/>
<circle cx="376.94" cy="346.32" r="1.15" fill="#fff" stroke="#ff4040" stroke-width="0.75"/>
<circle cx="379.25" cy="347.33" r="1.15" fill="#fff" stroke="#ff4040" stroke-width="0.75"/>
<circle cx="381.55" cy="348.47" r="1.15" fill="#fff" stroke="#ff4040" stroke-width="0.75"/>
<circle cx="383.86" cy="349.47" r="1.15" fill="#fff" stroke="#ff4040" stroke-width="0.75"/>
<circle cx="386.16" cy="350.27" r="1.15" fill="#fff" stroke="#ff4040" stroke-width="0.75"/>
<circle cx="388.46" cy="351.19" r="1.15" fill="#fff" stroke="#ff4040" stroke-width="0.75"/>
<circle cx="390.77" cy="352.39" r="1.15" fill="#fff" stroke="#ff4040" stroke-width="0.75"/>
<circle cx="393.07" cy="353.14" r="1.15" fill="#fff" stroke="#ff4040" stroke-width="0.75"/>
<circle cx="395.38" cy="354.13" r="1.15" fill="#fff" stroke="#ff4040" stroke-width="0.75"/>
<circle cx="397.68" cy="355.19" r="1.15" fill="#fff" stroke="#ff4040" stroke-width="0.75"/>
<circle cx="399.98" cy="355.83" r="1.15" fill="#fff" stroke="#ff4040" stroke-width="0.75"/>
<circle cx="402.29" cy="356.51" r="1.15" fill="#fff" stroke="#ff4040" stroke-width="0.75"/>
<circle cx="404.59" cy="357.11" r="1.15" fill="#fff" stroke="#ff4040" stroke-width="0.75"/>
<circle cx="406.90" cy="357.41" r="1.15" fill="#fff" stroke="#ff4040" stroke-width="0.75"/>
<circle cx="409.20" cy="358.21" r="1.15" fill="#fff" stroke="#ff4040" stroke-width="0.75"/>
<circle cx="411.50" cy="358.66" r="1.15" fill="#fff" stroke="#ff4040" stroke-width="0.75"/>
<circle cx="413.81" cy="359.37" r="1.15" fill="#fff" stroke="#ff4040" stroke-width="0.75"/>
<circle cx="416.11" cy="359.79" r="1.15" fill="#fff" stroke="#ff4040" stroke-width="0.75"/>
<circle cx="418.42" cy="360.44" r="1.15" fill="#fff" stroke="#ff4040" stroke-width="0.75"/>
<circle cx="420.72" cy="361.11" r="1.15" fill="#fff" stroke="#ff4040" stroke-width="0.75"/>
<circle cx="423.02" cy="361.53" r="1.15" fill="#fff" stroke="#ff4040" stroke-width="0.75"/>
<circle cx="425.33" cy="361.75" r="1.15" fill="#fff" stroke="#ff4040" stroke-width="0.75"/>
<circle cx="427.63" cy="362.33" r="1.15" fill="#fff" stroke="#ff4040" stroke-width="0.75"/>
<circle cx="429.94" cy="362.66" r="1.15" fill="#fff" stroke="#ff4040" stroke-width="0.75"/>
<circle cx="432.24" cy="362.94" r="1.15" fill="#fff" stroke="#ff4040" stroke-width="0.75"/>
<circle cx="434.54" cy="363.24" r="1.15" fill="#fff" stroke="#ff4040" stroke-width="0.75"/>
<circle cx="436.85" cy="363.69" r="1.15" fill="#fff" stroke="#ff4040" stroke-width="0.75"/>
<circle cx="439.15" cy="364.17" r="1.15" fill="#fff" stroke="#ff4040" stroke-width="0.75"/>
<circle cx="441.46" cy="364.36" r="1.15" fill="#fff" stroke="#ff4040" stroke-width="0.75"/>
<circle cx="443.76" cy="364.96" r="1.15" fill="#fff" stroke="#ff4040" stroke-width="0.75"/>
<circle cx="446.06" cy="365.64" r="1.15" fill="#fff" stroke="#ff4040" stroke-width="0.75"/>
<circle cx="448.37" cy="366.18" r="1.15" fill="#fff" stroke="#ff4040" stroke-width="0.75"/>
<circle cx="450.67" cy="366.75" r="1.15" fill="#fff" stroke="#ff4040" stroke-width="0.75"/>
<circle cx="452.98" cy="367.49" r="1.15" fill="#fff" stroke="#ff4040" stroke-width="0.75"/>
<circle cx="455.28" cy="368.08" r="1.15" fill="#fff" stroke="#ff4040" stroke-width="0.75"/>
<circle cx="457.58" cy="368.65" r="1.15" fill="#fff" stroke="#ff4040" stroke-width="0.75"/>
<circle cx="459.89" cy="369.21" r="1.15" fill="#fff" stroke="#ff4040" stroke-width="0.75"/>
<circle cx="462.19" cy="369.96" r="1.15" fill="#fff" stroke="#ff4040" stroke-width="0.75"/>
<circle cx="464.50" cy="370.52" r="1.15" fill="#fff" stroke="#ff4040" stroke-width="0.75"/>
<circle cx="466.80" cy="370.98" r="1.15" fill="#fff" stroke="#ff4040" stroke-width="0.75"/>
<polyline points="353.90,326.43 356.21,332.36 358.51,336.27 360.82,337.61 363.12,339.15 365.42,340.44 367.73,341.70 370.03,342.57 372.34,343.77 374.64,344.83 376.94,346.28 379.25,347.26 381.55,348.47 383.86,349.56 386.16,350.85 388.46,351.45 390.77,352.54 393.07,353.20 395.38,353.94 397.68,354.70 399.98,355.43 402.29,356.12 404.59,356.78 406.90,357.43 409.20,358.28 411.50,358.70 413.81,359.16 416.11,359.69 418.42,360.35 420.72,360.76 423.02,361.10 425.33,361.55 427.63,361.90 429.94,362.33 432.24,362.63 434.54,362.99 436.85,363.51 439.15,363.70 441.46,363.96 443.76,364.35 446.06,364.77 448.37,365.24 450.67,365.50 452.98,366.40 455.28,367.30 457.58,367.83 459.89,368.71 462.19,369.18 464.50,370.07 466.80,370.57" stroke="#ee1c1c" stroke-width="0.6" fill="none" stroke-linejoin="round" />
<circle cx="353.90" cy="326.43" r="1.15" fill="none" stroke="#ee1c1c" stroke-width="0.75"/>
<circle cx="356.21" cy="332.36" r="1.15" fill="none" stroke="#ee1c1c" stroke-width="0.75"/>
<circle cx="358.51" cy="336.27" r="1.15" fill="none" stroke="#ee1c1c" stroke-width="0.75"/>
<circle cx="360.82" cy="337.61" r="1.15" fill="none" stroke="#ee1c1c" stroke-width="0.75"/>
<circle cx="363.12" cy="339.15" r="1.15" fill="none" stroke="#ee1c1c" stroke-width="0.75"/>
<circle cx="365.42" cy="340.44" r="1.15" fill="none" stroke="#ee1c1c" stroke-width="0.75"/>
<circle cx="367.73" cy="341.70" r="1.15" fill="none" stroke="#ee1c1c" stroke-width="0.75"/>
<circle cx="370.03" cy="342.57" r="1.15" fill="none" stroke="#ee1c1c" stroke-width="0.75"/>
<circle cx="372.34" cy="343.77" r="1.15" fill="none" stroke="#ee1c1c" stroke-width="0.75"/>
<circle cx="374.64" cy="344.83" r="1.15" fill="none" stroke="#ee1c1c" stroke-width="0.75"/>
<circle cx="376.94" cy="346.28" r="1.15" fill="none" stroke="#ee1c1c" stroke-width="0.75"/>
<circle cx="379.25" cy="347.26" r="1.15" fill="none" stroke="#ee1c1c" stroke-width="0.75"/>
<circle cx="381.55" cy="348.47" r="1.15" fill="none" stroke="#ee1c1c" stroke-width="0.75"/>
<circle cx="383.86" cy="349.56" r="1.15" fill="none" stroke="#ee1c1c" stroke-width="0.75"/>
<circle cx="386.16" cy="350.85" r="1.15" fill="none" stroke="#ee1c1c" stroke-width="0.75"/>
<circle cx="388.46" cy="351.45" r="1.15" fill="none" stroke="#ee1c1c" stroke-width="0.75"/>
<circle cx="390.77" cy="352.54" r="1.15" fill="none" stroke="#ee1c1c" stroke-width="0.75"/>
<circle cx="393.07" cy="353.20" r="1.15" fill="none" stroke="#ee1c1c" stroke-width="0.75"/>
<circle cx="395.38" cy="353.94" r="1.15" fill="none" stroke="#ee1c1c" stroke-width="0.75"/>
<circle cx="397.68" cy="354.70" r="1.15" fill="none" stroke="#ee1c1c" stroke-width="0.75"/>
<circle cx="399.98" cy="355.43" r="1.15" fill="none" stroke="#ee1c1c" stroke-width="0.75"/>
<circle cx="402.29" cy="356.12" r="1.15" fill="none" stroke="#ee1c1c" stroke-width="0.75"/>
<circle cx="404.59" cy="356.78" r="1.15" fill="none" stroke="#ee1c1c" stroke-width="0.75"/>
<circle cx="406.90" cy="357.43" r="1.15" fill="none" stroke="#ee1c1c" stroke-width="0.75"/>
<circle cx="409.20" cy="358.28" r="1.15" fill="none" stroke="#ee1c1c" stroke-width="0.75"/>
<circle cx="411.50" cy="358.70" r="1.15" fill="none" stroke="#ee1c1c" stroke-width="0.75"/>
<circle cx="413.81" cy="359.16" r="1.15" fill="none" stroke="#ee1c1c" stroke-width="0.75"/>
<circle cx="416.11" cy="359.69" r="1.15" fill="none" stroke="#ee1c1c" stroke-width="0.75"/>
<circle cx="418.42" cy="360.35" r="1.15" fill="none" stroke="#ee1c1c" stroke-width="0.75"/>
<circle cx="420.72" cy="360.76" r="1.15" fill="none" stroke="#ee1c1c" stroke-width="0.75"/>
<circle cx="423.02" cy="361.10" r="1.15" fill="none" stroke="#ee1c1c" stroke-width="0.75"/>
<circle cx="425.33" cy="361.55" r="1.15" fill="none" stroke="#ee1c1c" stroke-width="0.75"/>
<circle cx="427.63" cy="361.90" r="1.15" fill="none" stroke="#ee1c1c" stroke-width="0.75"/>
<circle cx="429.94" cy="362.33" r="1.15" fill="none" stroke="#ee1c1c" stroke-width="0.75"/>
<circle cx="432.24" cy="362.63" r="1.15" fill="none" stroke="#ee1c1c" stroke-width="0.75"/>
<circle cx="434.54" cy="362.99" r="1.15" fill="none" stroke="#ee1c1c" stroke-width="0.75"/>
<circle cx="436.85" cy="363.51" r="1.15" fill="none" stroke="#ee1c1c" stroke-width="0.75"/>
<circle cx="439.15" cy="363.70" r="1.15" fill="none" stroke="#ee1c1c" stroke-width="0.75"/>
<circle cx="441.46" cy="363.96" r="1.15" fill="none" stroke="#ee1c1c" stroke-width="0.75"/>
<circle cx="443.76" cy="364.35" r="1.15" fill="none" stroke="#ee1c1c" stroke-width="0.75"/>
<circle cx="446.06" cy="364.77" r="1.15" fill="none" stroke="#ee1c1c" stroke-width="0.75"/>
<circle cx="448.37" cy="365.24" r="1.15" fill="none" stroke="#ee1c1c" stroke-width="0.75"/>
<circle cx="450.67" cy="365.50" r="1.15" fill="none" stroke="#ee1c1c" stroke-width="0.75"/>
<circle cx="452.98" cy="366.40" r="1.15" fill="none" stroke="#ee1c1c" stroke-width="0.75"/>
<circle cx="455.28" cy="367.30" r="1.15" fill="none" stroke="#ee1c1c" stroke-width="0.75"/>
<circle cx="457.58" cy="367.83" r="1.15" fill="none" stroke="#ee1c1c" stroke-width="0.75"/>
<circle cx="459.89" cy="368.71" r="1.15" fill="none" stroke="#ee1c1c" stroke-width="0.75"/>
<circle cx="462.19" cy="369.18" r="1.15" fill="none" stroke="#ee1c1c" stroke-width="0.75"/>
<circle cx="464.50" cy="370.07" r="1.15" fill="none" stroke="#ee1c1c" stroke-width="0.75"/>
<circle cx="466.80" cy="370.57" r="1.15" fill="none" stroke="#ee1c1c" stroke-width="0.75"/>
<polyline points="353.90,309.90 356.21,311.18 358.51,311.11 360.82,311.24 363.12,311.27 365.42,311.06 367.73,311.13 370.03,311.09 372.34,310.88 374.64,310.65 376.94,310.89 379.25,311.00 381.55,310.88 383.86,311.05 386.16,311.22 388.46,311.26 390.77,311.62 393.07,311.69 395.38,312.02 397.68,312.13 399.98,312.38 402.29,312.71 404.59,313.08 406.90,313.59 409.20,313.89 411.50,314.49 413.81,315.07 416.11,315.48 418.42,315.90 420.72,316.42 423.02,317.01 425.33,317.48 427.63,318.22 429.94,318.80 432.24,319.26 434.54,319.73 436.85,320.17 439.15,320.53 441.46,320.89 443.76,321.35 446.06,321.81 448.37,322.05 450.67,322.41 452.98,322.97 455.28,323.49 457.58,323.87 459.89,323.97 462.19,324.59 464.50,324.75 466.80,325.15" stroke="#222" stroke-width="0.6" fill="none" stroke-linejoin="round" />
<circle cx="353.90" cy="309.90" r="1.2" fill="#9a8c8c" stroke="#140c0c" stroke-width="0.8"/>
<circle cx="356.21" cy="311.18" r="1.2" fill="#9a8c8c" stroke="#140c0c" stroke-width="0.8"/>
<circle cx="358.51" cy="311.11" r="1.2" fill="#9a8c8c" stroke="#140c0c" stroke-width="0.8"/>
<circle cx="360.82" cy="311.24" r="1.2" fill="#9a8c8c" stroke="#140c0c" stroke-width="0.8"/>
<circle cx="363.12" cy="311.27" r="1.2" fill="#9a8c8c" stroke="#140c0c" stroke-width="0.8"/>
<circle cx="365.42" cy="311.06" r="1.2" fill="#9a8c8c" stroke="#140c0c" stroke-width="0.8"/>
<circle cx="367.73" cy="311.13" r="1.2" fill="#9a8c8c" stroke="#140c0c" stroke-width="0.8"/>
<circle cx="370.03" cy="311.09" r="1.2" fill="#9a8c8c" stroke="#140c0c" stroke-width="0.8"/>
<circle cx="372.34" cy="310.88" r="1.2" fill="#9a8c8c" stroke="#140c0c" stroke-width="0.8"/>
<circle cx="374.64" cy="310.65" r="1.2" fill="#9a8c8c" stroke="#140c0c" stroke-width="0.8"/>
<circle cx="376.94" cy="310.89" r="1.2" fill="#9a8c8c" stroke="#140c0c" stroke-width="0.8"/>
<circle cx="379.25" cy="311.00" r="1.2" fill="#9a8c8c" stroke="#140c0c" stroke-width="0.8"/>
<circle cx="381.55" cy="310.88" r="1.2" fill="#9a8c8c" stroke="#140c0c" stroke-width="0.8"/>
<circle cx="383.86" cy="311.05" r="1.2" fill="#9a8c8c" stroke="#140c0c" stroke-width="0.8"/>
<circle cx="386.16" cy="311.22" r="1.2" fill="#9a8c8c" stroke="#140c0c" stroke-width="0.8"/>
<circle cx="388.46" cy="311.26" r="1.2" fill="#9a8c8c" stroke="#140c0c" stroke-width="0.8"/>
<circle cx="390.77" cy="311.62" r="1.2" fill="#9a8c8c" stroke="#140c0c" stroke-width="0.8"/>
<circle cx="393.07" cy="311.69" r="1.2" fill="#9a8c8c" stroke="#140c0c" stroke-width="0.8"/>
<circle cx="395.38" cy="312.02" r="1.2" fill="#9a8c8c" stroke="#140c0c" stroke-width="0.8"/>
<circle cx="397.68" cy="312.13" r="1.2" fill="#9a8c8c" stroke="#140c0c" stroke-width="0.8"/>
<circle cx="399.98" cy="312.38" r="1.2" fill="#9a8c8c" stroke="#140c0c" stroke-width="0.8"/>
<circle cx="402.29" cy="312.71" r="1.2" fill="#9a8c8c" stroke="#140c0c" stroke-width="0.8"/>
<circle cx="404.59" cy="313.08" r="1.2" fill="#9a8c8c" stroke="#140c0c" stroke-width="0.8"/>
<circle cx="406.90" cy="313.59" r="1.2" fill="#9a8c8c" stroke="#140c0c" stroke-width="0.8"/>
<circle cx="409.20" cy="313.89" r="1.2" fill="#9a8c8c" stroke="#140c0c" stroke-width="0.8"/>
<circle cx="411.50" cy="314.49" r="1.2" fill="#9a8c8c" stroke="#140c0c" stroke-width="0.8"/>
<circle cx="413.81" cy="315.07" r="1.2" fill="#9a8c8c" stroke="#140c0c" stroke-width="0.8"/>
<circle cx="416.11" cy="315.48" r="1.2" fill="#9a8c8c" stroke="#140c0c" stroke-width="0.8"/>
<circle cx="418.42" cy="315.90" r="1.2" fill="#9a8c8c" stroke="#140c0c" stroke-width="0.8"/>
<circle cx="420.72" cy="316.42" r="1.2" fill="#9a8c8c" stroke="#140c0c" stroke-width="0.8"/>
<circle cx="423.02" cy="317.01" r="1.2" fill="#9a8c8c" stroke="#140c0c" stroke-width="0.8"/>
<circle cx="425.33" cy="317.48" r="1.2" fill="#9a8c8c" stroke="#140c0c" stroke-width="0.8"/>
<circle cx="427.63" cy="318.22" r="1.2" fill="#9a8c8c" stroke="#140c0c" stroke-width="0.8"/>
<circle cx="429.94" cy="318.80" r="1.2" fill="#9a8c8c" stroke="#140c0c" stroke-width="0.8"/>
<circle cx="432.24" cy="319.26" r="1.2" fill="#9a8c8c" stroke="#140c0c" stroke-width="0.8"/>
<circle cx="434.54" cy="319.73" r="1.2" fill="#9a8c8c" stroke="#140c0c" stroke-width="0.8"/>
<circle cx="436.85" cy="320.17" r="1.2" fill="#9a8c8c" stroke="#140c0c" stroke-width="0.8"/>
<circle cx="439.15" cy="320.53" r="1.2" fill="#9a8c8c" stroke="#140c0c" stroke-width="0.8"/>
<circle cx="441.46" cy="320.89" r="1.2" fill="#9a8c8c" stroke="#140c0c" stroke-width="0.8"/>
<circle cx="443.76" cy="321.35" r="1.2" fill="#9a8c8c" stroke="#140c0c" stroke-width="0.8"/>
<circle cx="446.06" cy="321.81" r="1.2" fill="#9a8c8c" stroke="#140c0c" stroke-width="0.8"/>
<circle cx="448.37" cy="322.05" r="1.2" fill="#9a8c8c" stroke="#140c0c" stroke-width="0.8"/>
<circle cx="450.67" cy="322.41" r="1.2" fill="#9a8c8c" stroke="#140c0c" stroke-width="0.8"/>
<circle cx="452.98" cy="322.97" r="1.2" fill="#9a8c8c" stroke="#140c0c" stroke-width="0.8"/>
<circle cx="455.28" cy="323.49" r="1.2" fill="#9a8c8c" stroke="#140c0c" stroke-width="0.8"/>
<circle cx="457.58" cy="323.87" r="1.2" fill="#9a8c8c" stroke="#140c0c" stroke-width="0.8"/>
<circle cx="459.89" cy="323.97" r="1.2" fill="#9a8c8c" stroke="#140c0c" stroke-width="0.8"/>
<circle cx="462.19" cy="324.59" r="1.2" fill="#9a8c8c" stroke="#140c0c" stroke-width="0.8"/>
<circle cx="464.50" cy="324.75" r="1.2" fill="#9a8c8c" stroke="#140c0c" stroke-width="0.8"/>
<circle cx="466.80" cy="325.15" r="1.2" fill="#9a8c8c" stroke="#140c0c" stroke-width="0.8"/>
<text x="432" y="289.6" font-size="9.05" font-weight="bold" fill="#111">Ionic Liquid Solvent</text>
<polyline points="463.50,306.70 458.08,302.76 460.15,296.39 466.85,296.39 468.92,302.76 463.50,306.70" stroke="#333" stroke-width="0.6" fill="none" stroke-linejoin="round" />
<line x1="463.50" y1="306.70" x2="456.50" y2="308.90" stroke="#333" stroke-width="0.6" />
<polyline points="463.50,306.70 471.50,308.50 477.50,306.20 483.50,308.20" stroke="#333" stroke-width="0.6" fill="none" stroke-linejoin="round" />
<text x="463.50" y="310.30" font-size="2.6" font-weight="normal" fill="#333" text-anchor="middle" >+</text>
<line x1="493.00" y1="304.50" x2="493.00" y2="319.50" stroke="#555" stroke-width="0.9" stroke-dasharray="0.9,0.5"/>
<circle cx="493" cy="303" r="1.25" fill="none" stroke="#555" stroke-width="0.5"/>
<circle cx="493" cy="321" r="1.25" fill="none" stroke="#555" stroke-width="0.5"/>
<line x1="510.00" y1="304.50" x2="510.00" y2="319.50" stroke="#555" stroke-width="0.9" stroke-dasharray="0.9,0.5"/>
<circle cx="510" cy="303" r="1.25" fill="none" stroke="#555" stroke-width="0.5"/>
<circle cx="510" cy="321" r="1.25" fill="none" stroke="#555" stroke-width="0.5"/>
<line x1="483.00" y1="313.30" x2="493.00" y2="313.30" stroke="#555" stroke-width="0.5" />
<line x1="493.00" y1="313.30" x2="500.50" y2="315.30" stroke="#555" stroke-width="0.5" />
<line x1="502.50" y1="315.30" x2="510.00" y2="313.30" stroke="#555" stroke-width="0.5" />
<line x1="510.00" y1="313.30" x2="516.50" y2="313.30" stroke="#555" stroke-width="0.5" />
<text x="479.00" y="314.50" font-size="3.4" font-weight="normal" fill="#555" text-anchor="middle" >F<tspan font-size="2.4" dy="0.8">3</tspan><tspan dy="-0.8">C</tspan></text>
<text x="520.50" y="314.50" font-size="3.4" font-weight="normal" fill="#555" text-anchor="middle" >CF<tspan font-size="2.4" dy="0.8">3</tspan></text>
<text x="501.50" y="316.50" font-size="3.2" font-weight="normal" fill="#555" text-anchor="middle" >N</text>
<text x="493.00" y="331.60" font-size="6.2" font-weight="bold" fill="#222" text-anchor="middle" stroke="#222" stroke-width="0.2">[P13][TFSA]</text>
<polyline points="462.40,342.20 456.98,338.26 459.05,331.89 465.75,331.89 467.82,338.26 462.40,342.20" stroke="#f04848" stroke-width="0.6" fill="none" stroke-linejoin="round" />
<line x1="462.40" y1="342.20" x2="455.40" y2="344.40" stroke="#f04848" stroke-width="0.6" />
<polyline points="462.40,342.20 470.40,344.00 476.40,341.70 482.40,343.70" stroke="#f04848" stroke-width="0.6" fill="none" stroke-linejoin="round" />
<text x="462.40" y="345.80" font-size="2.6" font-weight="normal" fill="#f04848" text-anchor="middle" >+</text>
<line x1="492.20" y1="340.90" x2="492.20" y2="355.60" stroke="#f04848" stroke-width="0.9" stroke-dasharray="0.9,0.5"/>
<circle cx="492.2" cy="339.4" r="1.25" fill="none" stroke="#f04848" stroke-width="0.5"/>
<circle cx="492.2" cy="357.1" r="1.25" fill="none" stroke="#f04848" stroke-width="0.5"/>
<line x1="509.30" y1="340.90" x2="509.30" y2="355.60" stroke="#f04848" stroke-width="0.9" stroke-dasharray="0.9,0.5"/>
<circle cx="509.3" cy="339.4" r="1.25" fill="none" stroke="#f04848" stroke-width="0.5"/>
<circle cx="509.3" cy="357.1" r="1.25" fill="none" stroke="#f04848" stroke-width="0.5"/>
<line x1="484.00" y1="349.20" x2="492.20" y2="349.20" stroke="#f04848" stroke-width="0.5" />
<line x1="492.20" y1="349.20" x2="499.70" y2="351.20" stroke="#f04848" stroke-width="0.5" />
<line x1="501.70" y1="351.20" x2="509.30" y2="349.20" stroke="#f04848" stroke-width="0.5" />
<line x1="509.30" y1="349.20" x2="518.00" y2="349.20" stroke="#f04848" stroke-width="0.5" />
<text x="480.00" y="350.40" font-size="3.4" font-weight="normal" fill="#f04848" text-anchor="middle" >C<tspan font-size="2.4" dy="0.8">2</tspan><tspan dy="-0.8">F</tspan><tspan font-size="2.4" dy="0.8">5</tspan></text>
<text x="522.00" y="350.40" font-size="3.4" font-weight="normal" fill="#f04848" text-anchor="middle" >C<tspan font-size="2.4" dy="0.8">2</tspan><tspan dy="-0.8">F</tspan><tspan font-size="2.4" dy="0.8">5</tspan></text>
<text x="500.70" y="352.40" font-size="3.2" font-weight="normal" fill="#f04848" text-anchor="middle" >N</text>
<text x="491.40" y="367.40" font-size="6.2" font-weight="bold" fill="#f02828" text-anchor="middle" stroke="#f02828" stroke-width="0.25">[P13][BETA]</text>
<polyline points="478.40,381.20 472.98,377.26 475.05,370.89 481.75,370.89 483.82,377.26 478.40,381.20" stroke="#5060c0" stroke-width="0.6" fill="none" stroke-linejoin="round" />
<line x1="478.40" y1="381.20" x2="471.40" y2="383.40" stroke="#5060c0" stroke-width="0.6" />
<polyline points="478.40,381.20 486.40,383.00 492.40,380.70 498.40,382.70" stroke="#5060c0" stroke-width="0.6" fill="none" stroke-linejoin="round" />
<text x="478.40" y="384.80" font-size="2.6" font-weight="normal" fill="#5060c0" text-anchor="middle" >+</text>
<line x1="504.00" y1="381.60" x2="504.00" y2="396.30" stroke="#4050c0" stroke-width="0.9" stroke-dasharray="0.9,0.5"/>
<circle cx="504" cy="380.1" r="1.25" fill="none" stroke="#4050c0" stroke-width="0.5"/>
<circle cx="504" cy="397.8" r="1.25" fill="none" stroke="#4050c0" stroke-width="0.5"/>
<line x1="521.90" y1="381.60" x2="521.90" y2="396.30" stroke="#4050c0" stroke-width="0.9" stroke-dasharray="0.9,0.5"/>
<circle cx="521.9" cy="380.1" r="1.25" fill="none" stroke="#4050c0" stroke-width="0.5"/>
<circle cx="521.9" cy="397.8" r="1.25" fill="none" stroke="#4050c0" stroke-width="0.5"/>
<line x1="500.00" y1="389.20" x2="504.00" y2="389.20" stroke="#4050c0" stroke-width="0.5" />
<line x1="504.00" y1="389.20" x2="512.00" y2="391.20" stroke="#4050c0" stroke-width="0.5" />
<line x1="514.00" y1="391.20" x2="521.90" y2="389.20" stroke="#4050c0" stroke-width="0.5" />
<line x1="521.90" y1="389.20" x2="526.00" y2="389.20" stroke="#4050c0" stroke-width="0.5" />
<text x="496.00" y="390.40" font-size="3.4" font-weight="normal" fill="#4050c0" text-anchor="middle" >F</text>
<text x="530.00" y="390.40" font-size="3.4" font-weight="normal" fill="#4050c0" text-anchor="middle" >F</text>
<text x="513.00" y="392.40" font-size="3.2" font-weight="normal" fill="#4050c0" text-anchor="middle" >N</text>
<text x="502.00" y="407.40" font-size="6.2" font-weight="bold" fill="#3048c0" text-anchor="middle" stroke="#3048c0" stroke-width="0.25">[P13][FSA]</text>
</svg>
</body></html>
